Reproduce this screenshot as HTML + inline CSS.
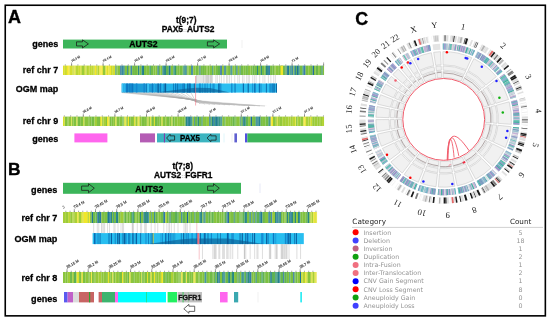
<!DOCTYPE html>
<html><head><meta charset="utf-8"><title>Figure</title>
<style>html,body{margin:0;padding:0;background:#fff;width:550px;height:321px;overflow:hidden}svg{display:block}</style>
</head><body>
<svg width="550" height="321" viewBox="0 0 550 321">
<rect x="0.00" y="0.00" width="550.00" height="321.00" fill="#ffffff" />
<text x="7.90" y="22.70" font-size="18.0" text-anchor="start" font-weight="bold" fill="#000" font-family='"Liberation Sans", Arial, sans-serif' stroke="#000" stroke-width="0.35">A</text>
<text x="186.30" y="23.00" font-size="8.4" text-anchor="middle" font-weight="bold" fill="#000" font-family='"Liberation Sans", Arial, sans-serif'  stroke="#000" stroke-width="0.28">t(9;7)</text>
<text x="188.1" y="31.9" font-size="8.4" text-anchor="middle" font-weight="bold" stroke="#000" stroke-width="0.28" font-family='"Liberation Sans", Arial, sans-serif'>PAX5<tspan stroke="none"  fill="#b8b8b8" font-size="6" font-weight="bold">::</tspan>AUTS2</text>
<text x="58.20" y="47.40" font-size="9" text-anchor="end" font-weight="bold" fill="#000" font-family='"Liberation Sans", Arial, sans-serif'  stroke="#000" stroke-width="0.28">genes</text>
<text x="58.20" y="73.00" font-size="9" text-anchor="end" font-weight="bold" fill="#000" font-family='"Liberation Sans", Arial, sans-serif'  stroke="#000" stroke-width="0.28">ref chr 7</text>
<text x="58.20" y="92.20" font-size="9" text-anchor="end" font-weight="bold" fill="#000" font-family='"Liberation Sans", Arial, sans-serif'  stroke="#000" stroke-width="0.28">OGM map</text>
<text x="58.20" y="123.80" font-size="9" text-anchor="end" font-weight="bold" fill="#000" font-family='"Liberation Sans", Arial, sans-serif'  stroke="#000" stroke-width="0.28">ref chr 9</text>
<text x="58.20" y="142.00" font-size="9" text-anchor="end" font-weight="bold" fill="#000" font-family='"Liberation Sans", Arial, sans-serif'  stroke="#000" stroke-width="0.28">genes</text>
<rect x="63.00" y="39.60" width="164.00" height="8.90" fill="#3cb55a" />
<polygon points="76.50,41.85 82.50,41.85 82.50,39.90 88.40,43.90 82.50,47.90 82.50,45.95 76.50,45.95" fill="none" stroke="#1a1a1a" stroke-width="0.75" stroke-linejoin="miter"/>
<polygon points="207.40,41.85 213.60,41.85 213.60,39.90 219.60,43.90 213.60,47.90 213.60,45.95 207.40,45.95" fill="none" stroke="#1a1a1a" stroke-width="0.75" stroke-linejoin="miter"/>
<text x="143.40" y="47.40" font-size="8.6" text-anchor="middle" font-weight="bold" fill="#000" font-family='"Liberation Sans", Arial, sans-serif'  stroke="#000" stroke-width="0.28">AUTS2</text>
<line x1="242" y1="40" x2="242" y2="48" stroke="#e8e8e8" stroke-width="0.6"/>
<rect x="63.00" y="65.60" width="1.87" height="9.40" fill="#dde02d" />
<rect x="64.82" y="65.60" width="2.14" height="9.40" fill="#cddc30" />
<rect x="66.92" y="65.60" width="1.36" height="9.40" fill="#f5e62a" />
<rect x="68.23" y="65.60" width="0.92" height="9.40" fill="#f2e52a" />
<rect x="69.10" y="65.60" width="0.69" height="9.40" fill="#e7e32c" />
<rect x="69.74" y="65.60" width="2.97" height="9.40" fill="#d4de2f" />
<rect x="72.66" y="65.60" width="0.88" height="9.40" fill="#c6da31" />
<rect x="73.50" y="65.60" width="0.98" height="9.40" fill="#c5da31" />
<rect x="74.43" y="65.60" width="1.07" height="9.40" fill="#f0e52b" />
<rect x="75.45" y="65.60" width="2.70" height="9.40" fill="#bbd633" />
<rect x="78.10" y="65.60" width="2.31" height="9.40" fill="#cbdc30" />
<rect x="80.36" y="65.60" width="1.46" height="9.40" fill="#cedd30" />
<rect x="81.77" y="65.60" width="2.41" height="9.40" fill="#9ecc38" />
<rect x="84.12" y="65.60" width="1.36" height="9.40" fill="#c0d832" />
<rect x="85.43" y="65.60" width="1.01" height="9.40" fill="#d7df2e" />
<rect x="86.39" y="65.60" width="1.70" height="9.40" fill="#b2d334" />
<rect x="88.04" y="65.60" width="1.31" height="9.40" fill="#bed732" />
<rect x="89.30" y="65.60" width="1.88" height="9.40" fill="#bfd832" />
<rect x="91.14" y="65.60" width="2.23" height="9.40" fill="#c4d931" />
<rect x="93.32" y="65.60" width="1.44" height="9.40" fill="#bbd633" />
<rect x="94.71" y="65.60" width="1.33" height="9.40" fill="#f5e62a" />
<rect x="96.00" y="65.60" width="0.87" height="9.40" fill="#ccdc30" />
<rect x="96.82" y="65.60" width="0.81" height="9.40" fill="#d5de2f" />
<rect x="97.58" y="65.60" width="1.83" height="9.40" fill="#b4d334" />
<rect x="99.36" y="65.60" width="1.23" height="9.40" fill="#f1e52b" />
<rect x="100.54" y="65.60" width="1.03" height="9.40" fill="#f5e62a" />
<rect x="101.52" y="65.60" width="1.37" height="9.40" fill="#f5e62a" />
<rect x="102.84" y="65.60" width="2.80" height="9.40" fill="#92c73a" />
<rect x="105.59" y="65.60" width="1.23" height="9.40" fill="#f5e62a" />
<rect x="106.77" y="65.60" width="1.54" height="9.40" fill="#dde02d" />
<rect x="108.26" y="65.60" width="0.95" height="9.40" fill="#f2e52a" />
<rect x="109.15" y="65.60" width="0.72" height="9.40" fill="#d4de2f" />
<rect x="109.82" y="65.60" width="1.19" height="9.40" fill="#f5e62a" />
<rect x="110.96" y="65.60" width="1.85" height="9.40" fill="#c5da31" />
<rect x="112.76" y="65.60" width="2.76" height="9.40" fill="#d3de2f" />
<rect x="115.47" y="65.60" width="0.79" height="9.40" fill="#23828b" />
<rect x="116.20" y="65.60" width="1.27" height="9.40" fill="#78be42" />
<rect x="117.42" y="65.60" width="2.92" height="9.40" fill="#84c23f" />
<rect x="120.29" y="65.60" width="1.19" height="9.40" fill="#1d67a2" />
<rect x="121.43" y="65.60" width="0.74" height="9.40" fill="#2a8c80" />
<rect x="122.13" y="65.60" width="1.28" height="9.40" fill="#1f7a94" />
<rect x="123.36" y="65.60" width="1.39" height="9.40" fill="#268687" />
<rect x="124.70" y="65.60" width="2.43" height="9.40" fill="#7ec040" />
<rect x="127.09" y="65.60" width="0.86" height="9.40" fill="#1f7c92" />
<rect x="127.89" y="65.60" width="1.47" height="9.40" fill="#6fba48" />
<rect x="129.31" y="65.60" width="1.30" height="9.40" fill="#88c43d" />
<rect x="130.56" y="65.60" width="0.70" height="9.40" fill="#258587" />
<rect x="131.21" y="65.60" width="0.98" height="9.40" fill="#1e7498" />
<rect x="132.14" y="65.60" width="2.81" height="9.40" fill="#73bb45" />
<rect x="134.90" y="65.60" width="2.30" height="9.40" fill="#72bb46" />
<rect x="137.15" y="65.60" width="0.93" height="9.40" fill="#81c13f" />
<rect x="138.03" y="65.60" width="1.47" height="9.40" fill="#268785" />
<rect x="139.45" y="65.60" width="2.25" height="9.40" fill="#7abf42" />
<rect x="141.65" y="65.60" width="1.31" height="9.40" fill="#248489" />
<rect x="142.90" y="65.60" width="1.14" height="9.40" fill="#217e8f" />
<rect x="143.99" y="65.60" width="2.83" height="9.40" fill="#7cbf41" />
<rect x="146.78" y="65.60" width="2.86" height="9.40" fill="#82c13f" />
<rect x="149.59" y="65.60" width="1.27" height="9.40" fill="#379970" />
<rect x="150.80" y="65.60" width="2.59" height="9.40" fill="#71bb46" />
<rect x="153.34" y="65.60" width="2.11" height="9.40" fill="#84c23e" />
<rect x="155.40" y="65.60" width="2.19" height="9.40" fill="#87c33e" />
<rect x="157.54" y="65.60" width="1.23" height="9.40" fill="#1e7796" />
<rect x="158.72" y="65.60" width="1.70" height="9.40" fill="#69b74c" />
<rect x="160.37" y="65.60" width="2.13" height="9.40" fill="#88c43d" />
<rect x="162.45" y="65.60" width="1.33" height="9.40" fill="#22818d" />
<rect x="163.73" y="65.60" width="1.19" height="9.40" fill="#278884" />
<rect x="164.87" y="65.60" width="1.10" height="9.40" fill="#22818c" />
<rect x="165.92" y="65.60" width="2.88" height="9.40" fill="#62b450" />
<rect x="168.74" y="65.60" width="1.26" height="9.40" fill="#1f7895" />
<rect x="169.95" y="65.60" width="0.80" height="9.40" fill="#23838a" />
<rect x="170.70" y="65.60" width="2.81" height="9.40" fill="#82c23f" />
<rect x="173.47" y="65.60" width="1.25" height="9.40" fill="#2c8f7c" />
<rect x="174.66" y="65.60" width="1.47" height="9.40" fill="#369871" />
<rect x="176.09" y="65.60" width="1.70" height="9.40" fill="#71ba47" />
<rect x="177.73" y="65.60" width="1.94" height="9.40" fill="#7ec040" />
<rect x="179.63" y="65.60" width="2.72" height="9.40" fill="#75bd44" />
<rect x="182.29" y="65.60" width="1.22" height="9.40" fill="#70ba47" />
<rect x="183.46" y="65.60" width="0.90" height="9.40" fill="#268786" />
<rect x="184.31" y="65.60" width="1.09" height="9.40" fill="#2f9377" />
<rect x="185.36" y="65.60" width="1.41" height="9.40" fill="#1f7a94" />
<rect x="186.71" y="65.60" width="0.92" height="9.40" fill="#80c140" />
<rect x="187.58" y="65.60" width="0.94" height="9.40" fill="#7bbf41" />
<rect x="188.47" y="65.60" width="2.59" height="9.40" fill="#85c33e" />
<rect x="191.01" y="65.60" width="0.77" height="9.40" fill="#278884" />
<rect x="191.74" y="65.60" width="0.86" height="9.40" fill="#1d68a1" />
<rect x="192.55" y="65.60" width="0.69" height="9.40" fill="#21808e" />
<rect x="193.19" y="65.60" width="2.29" height="9.40" fill="#8bc53d" />
<rect x="195.43" y="65.60" width="2.96" height="9.40" fill="#76bd43" />
<rect x="198.34" y="65.60" width="1.24" height="9.40" fill="#78be42" />
<rect x="199.54" y="65.60" width="1.07" height="9.40" fill="#1e7498" />
<rect x="200.56" y="65.60" width="1.61" height="9.40" fill="#78be42" />
<rect x="202.12" y="65.60" width="1.99" height="9.40" fill="#71bb46" />
<rect x="204.07" y="65.60" width="2.59" height="9.40" fill="#7cbf41" />
<rect x="206.61" y="65.60" width="1.04" height="9.40" fill="#87c33e" />
<rect x="207.60" y="65.60" width="1.85" height="9.40" fill="#7dc041" />
<rect x="209.40" y="65.60" width="2.85" height="9.40" fill="#82c23f" />
<rect x="212.20" y="65.60" width="1.37" height="9.40" fill="#3a9b6e" />
<rect x="213.52" y="65.60" width="1.87" height="9.40" fill="#86c33e" />
<rect x="215.34" y="65.60" width="2.65" height="9.40" fill="#76bd43" />
<rect x="217.94" y="65.60" width="2.43" height="9.40" fill="#62b450" />
<rect x="220.32" y="65.60" width="1.53" height="9.40" fill="#1c62a6" />
<rect x="221.80" y="65.60" width="2.59" height="9.40" fill="#8ec63c" />
<rect x="224.34" y="65.60" width="0.96" height="9.40" fill="#1d6b9f" />
<rect x="225.25" y="65.60" width="1.05" height="9.40" fill="#2d9179" />
<rect x="226.25" y="65.60" width="0.91" height="9.40" fill="#7bbf41" />
<rect x="227.11" y="65.60" width="0.99" height="9.40" fill="#89c43d" />
<rect x="228.05" y="65.60" width="2.58" height="9.40" fill="#77bd43" />
<rect x="230.58" y="65.60" width="0.78" height="9.40" fill="#1f7995" />
<rect x="231.32" y="65.60" width="1.27" height="9.40" fill="#278785" />
<rect x="232.54" y="65.60" width="1.93" height="9.40" fill="#91c73b" />
<rect x="234.42" y="65.60" width="2.01" height="9.40" fill="#73bc45" />
<rect x="236.38" y="65.60" width="1.31" height="9.40" fill="#217f8f" />
<rect x="237.64" y="65.60" width="2.08" height="9.40" fill="#91c73b" />
<rect x="239.67" y="65.60" width="0.99" height="9.40" fill="#268785" />
<rect x="240.61" y="65.60" width="2.72" height="9.40" fill="#74bc44" />
<rect x="243.28" y="65.60" width="2.00" height="9.40" fill="#80c140" />
<rect x="245.24" y="65.60" width="1.96" height="9.40" fill="#78be42" />
<rect x="247.14" y="65.60" width="0.91" height="9.40" fill="#69b74c" />
<rect x="248.00" y="65.60" width="2.61" height="9.40" fill="#87c33e" />
<rect x="250.57" y="65.60" width="1.93" height="9.40" fill="#7dc041" />
<rect x="252.45" y="65.60" width="1.76" height="9.40" fill="#6ab74b" />
<rect x="254.16" y="65.60" width="2.88" height="9.40" fill="#75bd44" />
<rect x="256.99" y="65.60" width="1.04" height="9.40" fill="#288a82" />
<rect x="257.98" y="65.60" width="2.83" height="9.40" fill="#7bbf41" />
<rect x="260.76" y="65.60" width="1.21" height="9.40" fill="#268785" />
<rect x="261.92" y="65.60" width="1.13" height="9.40" fill="#74bc45" />
<rect x="263.00" y="65.60" width="1.35" height="9.40" fill="#73bb46" />
<rect x="264.30" y="65.60" width="1.56" height="9.40" fill="#7bbf41" />
<rect x="265.81" y="65.60" width="1.31" height="9.40" fill="#278884" />
<rect x="267.07" y="65.60" width="1.11" height="9.40" fill="#278784" />
<rect x="268.13" y="65.60" width="1.04" height="9.40" fill="#217e8f" />
<rect x="269.12" y="65.60" width="1.02" height="9.40" fill="#1e7399" />
<rect x="270.09" y="65.60" width="2.24" height="9.40" fill="#78be42" />
<rect x="272.28" y="65.60" width="2.02" height="9.40" fill="#74bc45" />
<rect x="274.24" y="65.60" width="1.36" height="9.40" fill="#8dc53c" />
<rect x="275.56" y="65.60" width="2.63" height="9.40" fill="#8ac53d" />
<rect x="278.14" y="65.60" width="2.88" height="9.40" fill="#80c140" />
<rect x="280.97" y="65.60" width="1.55" height="9.40" fill="#1f7995" />
<rect x="282.47" y="65.60" width="2.45" height="9.40" fill="#76bd44" />
<rect x="284.87" y="65.60" width="0.74" height="9.40" fill="#1f7c92" />
<rect x="285.55" y="65.60" width="1.13" height="9.40" fill="#8dc63c" />
<rect x="286.63" y="65.60" width="1.27" height="9.40" fill="#1f7895" />
<rect x="287.85" y="65.60" width="1.47" height="9.40" fill="#207d90" />
<rect x="289.27" y="65.60" width="1.10" height="9.40" fill="#64b44f" />
<rect x="290.32" y="65.60" width="1.27" height="9.40" fill="#23838a" />
<rect x="291.54" y="65.60" width="0.71" height="9.40" fill="#2f9277" />
<rect x="292.20" y="65.60" width="1.11" height="9.40" fill="#1e729a" />
<rect x="293.27" y="65.60" width="1.17" height="9.40" fill="#79be42" />
<rect x="294.39" y="65.60" width="1.54" height="9.40" fill="#1f7c92" />
<rect x="295.88" y="65.60" width="1.06" height="9.40" fill="#5db154" />
<rect x="296.89" y="65.60" width="1.34" height="9.40" fill="#1e7598" />
<rect x="298.18" y="65.60" width="1.07" height="9.40" fill="#278884" />
<rect x="299.20" y="65.60" width="0.66" height="9.40" fill="#2f9377" />
<rect x="299.81" y="65.60" width="2.71" height="9.40" fill="#74bc45" />
<rect x="302.47" y="65.60" width="1.01" height="9.40" fill="#359872" />
<rect x="303.43" y="65.60" width="0.80" height="9.40" fill="#207d90" />
<rect x="304.18" y="65.60" width="1.37" height="9.40" fill="#1c65a4" />
<rect x="305.50" y="65.60" width="2.74" height="9.40" fill="#7abf42" />
<rect x="308.20" y="65.60" width="1.96" height="9.40" fill="#89c43d" />
<rect x="310.11" y="65.60" width="2.62" height="9.40" fill="#71ba47" />
<rect x="312.68" y="65.60" width="1.35" height="9.40" fill="#1e6f9c" />
<rect x="313.98" y="65.60" width="1.74" height="9.40" fill="#86c33e" />
<rect x="315.67" y="65.60" width="2.54" height="9.40" fill="#6ab74b" />
<rect x="318.16" y="65.60" width="1.74" height="9.40" fill="#88c43d" />
<rect x="319.85" y="65.60" width="1.88" height="9.40" fill="#6fba48" />
<rect x="321.68" y="65.60" width="0.97" height="9.40" fill="#217e8f" />
<rect x="322.60" y="65.60" width="1.45" height="9.40" fill="#82c13f" />
<rect x="280.50" y="65.60" width="2.50" height="9.40" fill="#f0e62a" />
<line x1="65.30" y1="64.30" x2="65.30" y2="65.60" stroke="#555" stroke-width="0.5"/>
<line x1="71.60" y1="64.30" x2="71.60" y2="65.60" stroke="#555" stroke-width="0.5"/>
<line x1="77.90" y1="64.30" x2="77.90" y2="65.60" stroke="#555" stroke-width="0.5"/>
<line x1="84.20" y1="64.30" x2="84.20" y2="65.60" stroke="#555" stroke-width="0.5"/>
<line x1="90.50" y1="64.30" x2="90.50" y2="65.60" stroke="#555" stroke-width="0.5"/>
<line x1="96.80" y1="64.30" x2="96.80" y2="65.60" stroke="#555" stroke-width="0.5"/>
<line x1="103.10" y1="64.30" x2="103.10" y2="65.60" stroke="#555" stroke-width="0.5"/>
<line x1="109.40" y1="64.30" x2="109.40" y2="65.60" stroke="#555" stroke-width="0.5"/>
<line x1="115.70" y1="64.30" x2="115.70" y2="65.60" stroke="#555" stroke-width="0.5"/>
<line x1="122.00" y1="64.30" x2="122.00" y2="65.60" stroke="#555" stroke-width="0.5"/>
<line x1="128.30" y1="64.30" x2="128.30" y2="65.60" stroke="#555" stroke-width="0.5"/>
<line x1="134.60" y1="64.30" x2="134.60" y2="65.60" stroke="#555" stroke-width="0.5"/>
<line x1="140.90" y1="64.30" x2="140.90" y2="65.60" stroke="#555" stroke-width="0.5"/>
<line x1="147.20" y1="64.30" x2="147.20" y2="65.60" stroke="#555" stroke-width="0.5"/>
<line x1="153.50" y1="64.30" x2="153.50" y2="65.60" stroke="#555" stroke-width="0.5"/>
<line x1="159.80" y1="64.30" x2="159.80" y2="65.60" stroke="#555" stroke-width="0.5"/>
<line x1="166.10" y1="64.30" x2="166.10" y2="65.60" stroke="#555" stroke-width="0.5"/>
<line x1="172.40" y1="64.30" x2="172.40" y2="65.60" stroke="#555" stroke-width="0.5"/>
<line x1="178.70" y1="64.30" x2="178.70" y2="65.60" stroke="#555" stroke-width="0.5"/>
<line x1="185.00" y1="64.30" x2="185.00" y2="65.60" stroke="#555" stroke-width="0.5"/>
<line x1="191.30" y1="64.30" x2="191.30" y2="65.60" stroke="#555" stroke-width="0.5"/>
<line x1="197.60" y1="64.30" x2="197.60" y2="65.60" stroke="#555" stroke-width="0.5"/>
<line x1="203.90" y1="64.30" x2="203.90" y2="65.60" stroke="#555" stroke-width="0.5"/>
<line x1="210.20" y1="64.30" x2="210.20" y2="65.60" stroke="#555" stroke-width="0.5"/>
<line x1="216.50" y1="64.30" x2="216.50" y2="65.60" stroke="#555" stroke-width="0.5"/>
<line x1="222.80" y1="64.30" x2="222.80" y2="65.60" stroke="#555" stroke-width="0.5"/>
<line x1="229.10" y1="64.30" x2="229.10" y2="65.60" stroke="#555" stroke-width="0.5"/>
<line x1="235.40" y1="64.30" x2="235.40" y2="65.60" stroke="#555" stroke-width="0.5"/>
<line x1="241.70" y1="64.30" x2="241.70" y2="65.60" stroke="#555" stroke-width="0.5"/>
<line x1="248.00" y1="64.30" x2="248.00" y2="65.60" stroke="#555" stroke-width="0.5"/>
<line x1="254.30" y1="64.30" x2="254.30" y2="65.60" stroke="#555" stroke-width="0.5"/>
<line x1="260.60" y1="64.30" x2="260.60" y2="65.60" stroke="#555" stroke-width="0.5"/>
<line x1="266.90" y1="64.30" x2="266.90" y2="65.60" stroke="#555" stroke-width="0.5"/>
<line x1="273.20" y1="64.30" x2="273.20" y2="65.60" stroke="#555" stroke-width="0.5"/>
<line x1="279.50" y1="64.30" x2="279.50" y2="65.60" stroke="#555" stroke-width="0.5"/>
<line x1="285.80" y1="64.30" x2="285.80" y2="65.60" stroke="#555" stroke-width="0.5"/>
<line x1="292.10" y1="64.30" x2="292.10" y2="65.60" stroke="#555" stroke-width="0.5"/>
<line x1="298.40" y1="64.30" x2="298.40" y2="65.60" stroke="#555" stroke-width="0.5"/>
<line x1="304.70" y1="64.30" x2="304.70" y2="65.60" stroke="#555" stroke-width="0.5"/>
<line x1="311.00" y1="64.30" x2="311.00" y2="65.60" stroke="#555" stroke-width="0.5"/>
<line x1="317.30" y1="64.30" x2="317.30" y2="65.60" stroke="#555" stroke-width="0.5"/>
<line x1="323.60" y1="64.30" x2="323.60" y2="65.60" stroke="#555" stroke-width="0.5"/>
<line x1="71.60" y1="62.40" x2="71.60" y2="65.60" stroke="#555" stroke-width="0.5"/>
<text x="71.90" y="62.20" font-size="3.2" fill="#2a2a2a" stroke="#2a2a2a" stroke-width="0.12" font-family="Liberation Sans, Arial, sans-serif" transform="rotate(-30 71.90 62.20)">70.3 M</text>
<line x1="103.10" y1="62.40" x2="103.10" y2="65.60" stroke="#555" stroke-width="0.5"/>
<text x="103.40" y="62.20" font-size="3.2" fill="#2a2a2a" stroke="#2a2a2a" stroke-width="0.12" font-family="Liberation Sans, Arial, sans-serif" transform="rotate(-30 103.40 62.20)">70.4 M</text>
<line x1="134.60" y1="62.40" x2="134.60" y2="65.60" stroke="#555" stroke-width="0.5"/>
<text x="134.90" y="62.20" font-size="3.2" fill="#2a2a2a" stroke="#2a2a2a" stroke-width="0.12" font-family="Liberation Sans, Arial, sans-serif" transform="rotate(-30 134.90 62.20)">70.5 M</text>
<line x1="166.10" y1="62.40" x2="166.10" y2="65.60" stroke="#555" stroke-width="0.5"/>
<text x="166.40" y="62.20" font-size="3.2" fill="#2a2a2a" stroke="#2a2a2a" stroke-width="0.12" font-family="Liberation Sans, Arial, sans-serif" transform="rotate(-30 166.40 62.20)">70.6 M</text>
<line x1="197.60" y1="62.40" x2="197.60" y2="65.60" stroke="#555" stroke-width="0.5"/>
<text x="197.90" y="62.20" font-size="3.2" fill="#2a2a2a" stroke="#2a2a2a" stroke-width="0.12" font-family="Liberation Sans, Arial, sans-serif" transform="rotate(-30 197.90 62.20)">70.7 M</text>
<line x1="229.10" y1="62.40" x2="229.10" y2="65.60" stroke="#555" stroke-width="0.5"/>
<text x="229.40" y="62.20" font-size="3.2" fill="#2a2a2a" stroke="#2a2a2a" stroke-width="0.12" font-family="Liberation Sans, Arial, sans-serif" transform="rotate(-30 229.40 62.20)">70.8 M</text>
<line x1="260.60" y1="62.40" x2="260.60" y2="65.60" stroke="#555" stroke-width="0.5"/>
<text x="260.90" y="62.20" font-size="3.2" fill="#2a2a2a" stroke="#2a2a2a" stroke-width="0.12" font-family="Liberation Sans, Arial, sans-serif" transform="rotate(-30 260.90 62.20)">70.9 M</text>
<line x1="292.10" y1="62.40" x2="292.10" y2="65.60" stroke="#555" stroke-width="0.5"/>
<text x="292.40" y="62.20" font-size="3.2" fill="#2a2a2a" stroke="#2a2a2a" stroke-width="0.12" font-family="Liberation Sans, Arial, sans-serif" transform="rotate(-30 292.40 62.20)">71 M</text>
<line x1="323.60" y1="62.40" x2="323.60" y2="65.60" stroke="#555" stroke-width="0.5"/>
<rect x="196.00" y="75.00" width="16.00" height="8.50" fill="#e6e6e6" />
<line x1="205.97" y1="75.00" x2="205.97" y2="83.50" stroke="#c0c0c0" stroke-width="0.5"/>
<line x1="207.87" y1="75.00" x2="207.87" y2="83.50" stroke="#c0c0c0" stroke-width="0.5"/>
<line x1="208.72" y1="75.00" x2="208.72" y2="83.50" stroke="#c0c0c0" stroke-width="0.5"/>
<line x1="211.08" y1="75.00" x2="211.08" y2="83.50" stroke="#c0c0c0" stroke-width="0.5"/>
<line x1="207.84" y1="75.00" x2="207.84" y2="83.50" stroke="#c0c0c0" stroke-width="0.5"/>
<line x1="210.76" y1="75.00" x2="210.76" y2="83.50" stroke="#c0c0c0" stroke-width="0.5"/>
<line x1="196.46" y1="75.00" x2="196.46" y2="83.50" stroke="#c0c0c0" stroke-width="0.5"/>
<line x1="203.45" y1="75.00" x2="203.45" y2="83.50" stroke="#c0c0c0" stroke-width="0.5"/>
<line x1="211.09" y1="75.00" x2="211.09" y2="83.50" stroke="#c0c0c0" stroke-width="0.5"/>
<line x1="206.38" y1="75.00" x2="206.38" y2="83.50" stroke="#c0c0c0" stroke-width="0.5"/>
<line x1="212.50" y1="75.00" x2="212.50" y2="83.50" stroke="#c4c4c4" stroke-width="0.55"/>
<line x1="215.86" y1="75.00" x2="215.86" y2="83.50" stroke="#c4c4c4" stroke-width="0.55"/>
<line x1="217.33" y1="75.00" x2="217.33" y2="83.50" stroke="#c4c4c4" stroke-width="0.55"/>
<line x1="219.66" y1="75.00" x2="219.66" y2="83.50" stroke="#c4c4c4" stroke-width="0.55"/>
<line x1="221.45" y1="75.00" x2="221.45" y2="83.50" stroke="#c4c4c4" stroke-width="0.55"/>
<line x1="223.96" y1="75.00" x2="223.96" y2="83.50" stroke="#c4c4c4" stroke-width="0.55"/>
<line x1="226.53" y1="75.00" x2="226.53" y2="83.50" stroke="#c4c4c4" stroke-width="0.55"/>
<line x1="227.77" y1="75.00" x2="227.77" y2="83.50" stroke="#c4c4c4" stroke-width="0.55"/>
<line x1="229.49" y1="75.00" x2="229.49" y2="83.50" stroke="#c4c4c4" stroke-width="0.55"/>
<line x1="231.36" y1="75.00" x2="231.36" y2="83.50" stroke="#c4c4c4" stroke-width="0.55"/>
<line x1="234.76" y1="75.00" x2="234.76" y2="83.50" stroke="#c4c4c4" stroke-width="0.55"/>
<line x1="237.79" y1="75.00" x2="237.79" y2="83.50" stroke="#c4c4c4" stroke-width="0.55"/>
<line x1="239.38" y1="75.00" x2="239.38" y2="83.50" stroke="#c4c4c4" stroke-width="0.55"/>
<line x1="242.49" y1="75.00" x2="242.49" y2="83.50" stroke="#c4c4c4" stroke-width="0.55"/>
<line x1="244.02" y1="75.00" x2="244.02" y2="83.50" stroke="#c4c4c4" stroke-width="0.55"/>
<line x1="246.70" y1="75.00" x2="246.70" y2="83.50" stroke="#c4c4c4" stroke-width="0.55"/>
<line x1="248.21" y1="75.00" x2="248.21" y2="83.50" stroke="#c4c4c4" stroke-width="0.55"/>
<line x1="249.41" y1="75.00" x2="249.41" y2="83.50" stroke="#c4c4c4" stroke-width="0.55"/>
<line x1="252.70" y1="75.00" x2="252.70" y2="83.50" stroke="#c4c4c4" stroke-width="0.55"/>
<line x1="254.41" y1="75.00" x2="254.41" y2="83.50" stroke="#c4c4c4" stroke-width="0.55"/>
<line x1="256.12" y1="75.00" x2="256.12" y2="83.50" stroke="#c4c4c4" stroke-width="0.55"/>
<line x1="259.68" y1="75.00" x2="259.68" y2="83.50" stroke="#c4c4c4" stroke-width="0.55"/>
<line x1="262.98" y1="75.00" x2="262.98" y2="83.50" stroke="#c4c4c4" stroke-width="0.55"/>
<line x1="264.87" y1="75.00" x2="264.87" y2="83.50" stroke="#c4c4c4" stroke-width="0.55"/>
<line x1="268.38" y1="75.00" x2="268.38" y2="83.50" stroke="#c4c4c4" stroke-width="0.55"/>
<line x1="270.87" y1="75.00" x2="270.87" y2="83.50" stroke="#c4c4c4" stroke-width="0.55"/>
<line x1="273.70" y1="75.00" x2="273.70" y2="83.50" stroke="#c4c4c4" stroke-width="0.55"/>
<line x1="275.39" y1="75.00" x2="275.39" y2="83.50" stroke="#c4c4c4" stroke-width="0.55"/>
<rect x="121.60" y="83.50" width="40.40" height="9.10" fill="#1c9cd8" />
<rect x="162.00" y="83.50" width="34.00" height="9.10" fill="#24b4ea" />
<rect x="196.00" y="83.50" width="81.00" height="9.10" fill="#2cbef0" />
<rect x="121.85" y="83.50" width="1.53" height="9.10" fill="#40c8f6" />
<rect x="123.71" y="83.50" width="1.76" height="9.10" fill="#2ab4ec" />
<rect x="126.12" y="83.50" width="1.94" height="9.10" fill="#0c78c2" />
<rect x="128.77" y="83.50" width="0.85" height="9.10" fill="#0a6cb4" />
<rect x="129.64" y="83.50" width="1.90" height="9.10" fill="#1488d0" />
<rect x="131.61" y="83.50" width="1.69" height="9.10" fill="#0c78c2" />
<rect x="135.84" y="83.50" width="1.54" height="9.10" fill="#1488d0" />
<rect x="143.40" y="83.50" width="1.61" height="9.10" fill="#1488d0" />
<rect x="145.97" y="83.50" width="0.55" height="9.10" fill="#0860a4" />
<rect x="147.29" y="83.50" width="1.54" height="9.10" fill="#40c8f6" />
<rect x="151.87" y="83.50" width="1.05" height="9.10" fill="#0c78c2" />
<rect x="154.27" y="83.50" width="0.63" height="9.10" fill="#2ab4ec" />
<rect x="157.54" y="83.50" width="1.18" height="9.10" fill="#0a5c9c" />
<rect x="160.02" y="83.50" width="1.10" height="9.10" fill="#0c78c2" />
<rect x="161.33" y="83.50" width="0.56" height="9.10" fill="#2ab4ec" />
<rect x="163.60" y="83.50" width="0.58" height="9.10" fill="#0c78c2" />
<rect x="164.56" y="83.50" width="1.57" height="9.10" fill="#0a5c9c" />
<rect x="173.31" y="83.50" width="0.58" height="9.10" fill="#0a5c9c" />
<rect x="174.93" y="83.50" width="1.41" height="9.10" fill="#0c78c2" />
<rect x="177.00" y="83.50" width="0.66" height="9.10" fill="#0a5c9c" />
<rect x="178.51" y="83.50" width="0.90" height="9.10" fill="#1488d0" />
<rect x="180.52" y="83.50" width="0.85" height="9.10" fill="#1488d0" />
<rect x="182.15" y="83.50" width="0.53" height="9.10" fill="#0a6cb4" />
<rect x="182.96" y="83.50" width="1.29" height="9.10" fill="#1488d0" />
<rect x="184.25" y="83.50" width="0.58" height="9.10" fill="#0a5c9c" />
<rect x="187.04" y="83.50" width="0.74" height="9.10" fill="#0a5c9c" />
<rect x="188.39" y="83.50" width="1.58" height="9.10" fill="#0a6cb4" />
<rect x="190.29" y="83.50" width="0.69" height="9.10" fill="#0860a4" />
<rect x="193.85" y="83.50" width="0.87" height="9.10" fill="#0a5c9c" />
<rect x="198.96" y="83.50" width="0.65" height="9.10" fill="#0c78c2" />
<rect x="199.77" y="83.50" width="0.99" height="9.10" fill="#1488d0" />
<rect x="201.89" y="83.50" width="0.91" height="9.10" fill="#1a9ad8" />
<rect x="204.56" y="83.50" width="0.89" height="9.10" fill="#0c78c2" />
<rect x="206.71" y="83.50" width="1.09" height="9.10" fill="#1a9ad8" />
<rect x="209.94" y="83.50" width="1.03" height="9.10" fill="#1488d0" />
<rect x="212.67" y="83.50" width="0.90" height="9.10" fill="#0c78c2" />
<rect x="213.99" y="83.50" width="0.54" height="9.10" fill="#1488d0" />
<rect x="218.10" y="83.50" width="0.79" height="9.10" fill="#0860a4" />
<rect x="219.02" y="83.50" width="0.65" height="9.10" fill="#0860a4" />
<rect x="219.76" y="83.50" width="0.65" height="9.10" fill="#1488d0" />
<rect x="220.58" y="83.50" width="0.70" height="9.10" fill="#0c78c2" />
<rect x="231.13" y="83.50" width="0.95" height="9.10" fill="#1488d0" />
<rect x="232.20" y="83.50" width="0.58" height="9.10" fill="#1a9ad8" />
<rect x="234.57" y="83.50" width="0.94" height="9.10" fill="#0a6cb4" />
<rect x="242.84" y="83.50" width="1.04" height="9.10" fill="#0860a4" />
<rect x="247.68" y="83.50" width="1.03" height="9.10" fill="#0a5c9c" />
<rect x="252.27" y="83.50" width="0.79" height="9.10" fill="#1488d0" />
<rect x="253.94" y="83.50" width="0.82" height="9.10" fill="#0860a4" />
<rect x="255.12" y="83.50" width="0.93" height="9.10" fill="#1488d0" />
<rect x="258.83" y="83.50" width="1.07" height="9.10" fill="#0a6cb4" />
<rect x="260.64" y="83.50" width="0.70" height="9.10" fill="#0c78c2" />
<rect x="265.91" y="83.50" width="0.85" height="9.10" fill="#0860a4" />
<rect x="269.52" y="83.50" width="0.95" height="9.10" fill="#0c78c2" />
<rect x="270.82" y="83.50" width="0.56" height="9.10" fill="#0a6cb4" />
<rect x="271.87" y="83.50" width="0.89" height="9.10" fill="#0c78c2" />
<rect x="272.94" y="83.50" width="0.57" height="9.10" fill="#0860a4" />
<rect x="273.83" y="83.50" width="0.82" height="9.10" fill="#0860a4" />
<rect x="275.87" y="83.50" width="1.03" height="9.10" fill="#0a5c9c" />
<polygon points="156,92.6 185,88.8 196,87.8 210,88.0 230,92.6" fill="#0a5890" opacity="0.62"/>
<line x1="122.0" y1="92.6" x2="196" y2="99.5" stroke="#a8a8a8" stroke-width="0.45"/>
<line x1="127.3" y1="92.6" x2="196" y2="99.7" stroke="#a8a8a8" stroke-width="0.45"/>
<line x1="132.6" y1="92.6" x2="196" y2="99.9" stroke="#a8a8a8" stroke-width="0.45"/>
<line x1="137.9" y1="92.6" x2="196" y2="100.1" stroke="#a8a8a8" stroke-width="0.45"/>
<line x1="143.2" y1="92.6" x2="196" y2="100.3" stroke="#a8a8a8" stroke-width="0.45"/>
<line x1="148.5" y1="92.6" x2="196" y2="100.5" stroke="#a8a8a8" stroke-width="0.45"/>
<line x1="153.8" y1="92.6" x2="196" y2="100.7" stroke="#a8a8a8" stroke-width="0.45"/>
<line x1="159.1" y1="92.6" x2="196" y2="100.9" stroke="#a8a8a8" stroke-width="0.45"/>
<line x1="164.4" y1="92.6" x2="196" y2="101.1" stroke="#a8a8a8" stroke-width="0.45"/>
<line x1="169.7" y1="92.6" x2="196" y2="101.3" stroke="#a8a8a8" stroke-width="0.45"/>
<line x1="175.0" y1="92.6" x2="196" y2="101.5" stroke="#a8a8a8" stroke-width="0.45"/>
<line x1="180.3" y1="92.6" x2="196" y2="101.7" stroke="#a8a8a8" stroke-width="0.45"/>
<line x1="185.6" y1="92.6" x2="196" y2="101.9" stroke="#a8a8a8" stroke-width="0.45"/>
<line x1="190.9" y1="92.6" x2="196" y2="102.1" stroke="#a8a8a8" stroke-width="0.45"/>
<line x1="196" y1="99.5" x2="200.0" y2="104.0" stroke="#a8a8a8" stroke-width="0.45"/>
<line x1="196" y1="99.7" x2="205.0" y2="104.2" stroke="#a8a8a8" stroke-width="0.45"/>
<line x1="196" y1="99.9" x2="210.0" y2="104.3" stroke="#a8a8a8" stroke-width="0.45"/>
<line x1="196" y1="100.1" x2="215.0" y2="104.5" stroke="#a8a8a8" stroke-width="0.45"/>
<line x1="196" y1="100.3" x2="220.0" y2="104.6" stroke="#a8a8a8" stroke-width="0.45"/>
<line x1="196" y1="100.5" x2="225.0" y2="104.8" stroke="#a8a8a8" stroke-width="0.45"/>
<line x1="196" y1="100.7" x2="230.0" y2="104.9" stroke="#a8a8a8" stroke-width="0.45"/>
<line x1="196" y1="100.9" x2="235.0" y2="105.0" stroke="#a8a8a8" stroke-width="0.45"/>
<line x1="196" y1="101.1" x2="240.0" y2="105.2" stroke="#a8a8a8" stroke-width="0.45"/>
<line x1="196" y1="101.3" x2="245.0" y2="105.3" stroke="#a8a8a8" stroke-width="0.45"/>
<line x1="196" y1="101.5" x2="250.0" y2="105.5" stroke="#a8a8a8" stroke-width="0.45"/>
<line x1="196" y1="101.7" x2="255.0" y2="105.7" stroke="#a8a8a8" stroke-width="0.45"/>
<line x1="196" y1="101.9" x2="260.0" y2="105.8" stroke="#a8a8a8" stroke-width="0.45"/>
<line x1="196" y1="102.1" x2="265.0" y2="106.0" stroke="#a8a8a8" stroke-width="0.45"/>
<polygon points="196,100 268,106 200,104" fill="#c8c8c8" opacity="0.6"/>
<line x1="195.6" y1="76" x2="195.6" y2="105.5" stroke="#f07080" stroke-width="0.6"/>
<rect x="63.00" y="116.60" width="1.27" height="9.40" fill="#d6df2e" />
<rect x="64.22" y="116.60" width="0.75" height="9.40" fill="#d8df2e" />
<rect x="64.92" y="116.60" width="2.48" height="9.40" fill="#84c23f" />
<rect x="67.35" y="116.60" width="1.15" height="9.40" fill="#8ac53d" />
<rect x="68.45" y="116.60" width="3.04" height="9.40" fill="#8fc63b" />
<rect x="71.44" y="116.60" width="0.67" height="9.40" fill="#dde02d" />
<rect x="72.06" y="116.60" width="1.58" height="9.40" fill="#8ac43d" />
<rect x="73.58" y="116.60" width="2.95" height="9.40" fill="#80c140" />
<rect x="76.48" y="116.60" width="1.14" height="9.40" fill="#dee02d" />
<rect x="77.58" y="116.60" width="2.70" height="9.40" fill="#74bc45" />
<rect x="80.22" y="116.60" width="3.03" height="9.40" fill="#7ec040" />
<rect x="83.20" y="116.60" width="1.31" height="9.40" fill="#c3d932" />
<rect x="84.46" y="116.60" width="2.60" height="9.40" fill="#89c43d" />
<rect x="87.01" y="116.60" width="1.28" height="9.40" fill="#8ac53d" />
<rect x="88.24" y="116.60" width="1.59" height="9.40" fill="#83c23f" />
<rect x="89.78" y="116.60" width="1.72" height="9.40" fill="#81c13f" />
<rect x="91.45" y="116.60" width="3.00" height="9.40" fill="#74bc45" />
<rect x="94.40" y="116.60" width="2.59" height="9.40" fill="#a1cd38" />
<rect x="96.94" y="116.60" width="2.05" height="9.40" fill="#7dc041" />
<rect x="98.94" y="116.60" width="1.06" height="9.40" fill="#75bc44" />
<rect x="99.94" y="116.60" width="1.28" height="9.40" fill="#cfdd2f" />
<rect x="101.17" y="116.60" width="1.01" height="9.40" fill="#ede42b" />
<rect x="102.13" y="116.60" width="1.28" height="9.40" fill="#9bca39" />
<rect x="103.36" y="116.60" width="2.61" height="9.40" fill="#a6cf37" />
<rect x="105.92" y="116.60" width="1.11" height="9.40" fill="#81c140" />
<rect x="106.98" y="116.60" width="1.53" height="9.40" fill="#f5e62a" />
<rect x="108.47" y="116.60" width="1.29" height="9.40" fill="#dde02d" />
<rect x="109.71" y="116.60" width="1.90" height="9.40" fill="#7abf41" />
<rect x="111.55" y="116.60" width="1.67" height="9.40" fill="#82c23f" />
<rect x="113.17" y="116.60" width="2.25" height="9.40" fill="#8dc53c" />
<rect x="115.37" y="116.60" width="1.30" height="9.40" fill="#dce02e" />
<rect x="116.63" y="116.60" width="2.99" height="9.40" fill="#80c140" />
<rect x="119.57" y="116.60" width="3.02" height="9.40" fill="#85c23e" />
<rect x="122.53" y="116.60" width="0.87" height="9.40" fill="#6cb84a" />
<rect x="123.36" y="116.60" width="0.95" height="9.40" fill="#85c33e" />
<rect x="124.26" y="116.60" width="1.43" height="9.40" fill="#d8df2e" />
<rect x="125.64" y="116.60" width="0.82" height="9.40" fill="#ebe42b" />
<rect x="126.41" y="116.60" width="1.51" height="9.40" fill="#89c43d" />
<rect x="127.87" y="116.60" width="1.12" height="9.40" fill="#f5e62a" />
<rect x="128.94" y="116.60" width="1.73" height="9.40" fill="#7fc140" />
<rect x="130.62" y="116.60" width="2.43" height="9.40" fill="#87c33e" />
<rect x="133.00" y="116.60" width="1.14" height="9.40" fill="#90c73b" />
<rect x="134.09" y="116.60" width="1.50" height="9.40" fill="#dde02d" />
<rect x="135.54" y="116.60" width="2.13" height="9.40" fill="#97c939" />
<rect x="137.62" y="116.60" width="1.03" height="9.40" fill="#dde02d" />
<rect x="138.60" y="116.60" width="0.99" height="9.40" fill="#e9e32c" />
<rect x="139.54" y="116.60" width="2.04" height="9.40" fill="#94c83a" />
<rect x="141.53" y="116.60" width="2.56" height="9.40" fill="#7cbf41" />
<rect x="144.05" y="116.60" width="2.20" height="9.40" fill="#83c23f" />
<rect x="146.20" y="116.60" width="1.42" height="9.40" fill="#87c33e" />
<rect x="147.57" y="116.60" width="1.01" height="9.40" fill="#dce02e" />
<rect x="148.53" y="116.60" width="1.70" height="9.40" fill="#8ec63c" />
<rect x="150.18" y="116.60" width="1.28" height="9.40" fill="#dfe12d" />
<rect x="151.40" y="116.60" width="2.55" height="9.40" fill="#7abf41" />
<rect x="153.90" y="116.60" width="1.08" height="9.40" fill="#e2e22d" />
<rect x="154.93" y="116.60" width="2.91" height="9.40" fill="#72bb46" />
<rect x="157.79" y="116.60" width="1.91" height="9.40" fill="#83c23f" />
<rect x="159.65" y="116.60" width="1.89" height="9.40" fill="#81c13f" />
<rect x="161.49" y="116.60" width="1.33" height="9.40" fill="#d2de2f" />
<rect x="162.78" y="116.60" width="2.86" height="9.40" fill="#84c23f" />
<rect x="165.58" y="116.60" width="1.36" height="9.40" fill="#94c83a" />
<rect x="166.90" y="116.60" width="2.71" height="9.40" fill="#79be42" />
<rect x="169.56" y="116.60" width="2.11" height="9.40" fill="#86c33e" />
<rect x="171.62" y="116.60" width="0.99" height="9.40" fill="#dce02e" />
<rect x="172.56" y="116.60" width="1.99" height="9.40" fill="#72bb46" />
<rect x="174.50" y="116.60" width="1.53" height="9.40" fill="#8ac43d" />
<rect x="175.98" y="116.60" width="1.34" height="9.40" fill="#8ac53d" />
<rect x="177.27" y="116.60" width="2.66" height="9.40" fill="#91c73b" />
<rect x="179.88" y="116.60" width="2.95" height="9.40" fill="#85c33e" />
<rect x="182.78" y="116.60" width="1.56" height="9.40" fill="#87c33e" />
<rect x="184.29" y="116.60" width="1.40" height="9.40" fill="#83c23f" />
<rect x="185.64" y="116.60" width="1.55" height="9.40" fill="#278884" />
<rect x="187.14" y="116.60" width="0.69" height="9.40" fill="#1f7895" />
<rect x="187.78" y="116.60" width="1.13" height="9.40" fill="#22808d" />
<rect x="188.86" y="116.60" width="1.37" height="9.40" fill="#23828b" />
<rect x="190.18" y="116.60" width="1.08" height="9.40" fill="#23818c" />
<rect x="191.21" y="116.60" width="1.39" height="9.40" fill="#2b8e7d" />
<rect x="192.56" y="116.60" width="1.60" height="9.40" fill="#92c73b" />
<rect x="194.10" y="116.60" width="0.70" height="9.40" fill="#1d6b9f" />
<rect x="194.76" y="116.60" width="2.85" height="9.40" fill="#6bb84a" />
<rect x="197.56" y="116.60" width="1.50" height="9.40" fill="#2b8e7d" />
<rect x="199.01" y="116.60" width="2.70" height="9.40" fill="#72bb46" />
<rect x="201.65" y="116.60" width="1.01" height="9.40" fill="#258587" />
<rect x="202.61" y="116.60" width="2.47" height="9.40" fill="#88c43d" />
<rect x="205.03" y="116.60" width="1.79" height="9.40" fill="#7ec040" />
<rect x="206.77" y="116.60" width="2.58" height="9.40" fill="#95c83a" />
<rect x="209.30" y="116.60" width="1.43" height="9.40" fill="#1e7895" />
<rect x="210.68" y="116.60" width="1.13" height="9.40" fill="#6cb84a" />
<rect x="211.76" y="116.60" width="1.51" height="9.40" fill="#23828b" />
<rect x="213.22" y="116.60" width="0.93" height="9.40" fill="#1e7796" />
<rect x="214.10" y="116.60" width="0.96" height="9.40" fill="#329575" />
<rect x="215.01" y="116.60" width="0.85" height="9.40" fill="#1f7c92" />
<rect x="215.82" y="116.60" width="1.33" height="9.40" fill="#207d91" />
<rect x="217.10" y="116.60" width="1.36" height="9.40" fill="#278884" />
<rect x="218.40" y="116.60" width="0.72" height="9.40" fill="#22818c" />
<rect x="219.07" y="116.60" width="1.37" height="9.40" fill="#2d9179" />
<rect x="220.39" y="116.60" width="1.27" height="9.40" fill="#2c8f7b" />
<rect x="221.62" y="116.60" width="0.71" height="9.40" fill="#23828b" />
<rect x="222.27" y="116.60" width="2.06" height="9.40" fill="#84c23e" />
<rect x="224.28" y="116.60" width="1.11" height="9.40" fill="#5eb153" />
<rect x="225.34" y="116.60" width="2.80" height="9.40" fill="#8dc53c" />
<rect x="228.09" y="116.60" width="2.15" height="9.40" fill="#8ac43d" />
<rect x="230.19" y="116.60" width="2.58" height="9.40" fill="#7dc041" />
<rect x="232.72" y="116.60" width="2.04" height="9.40" fill="#68b64d" />
<rect x="234.72" y="116.60" width="1.01" height="9.40" fill="#70ba47" />
<rect x="235.68" y="116.60" width="1.18" height="9.40" fill="#7dc040" />
<rect x="236.81" y="116.60" width="2.65" height="9.40" fill="#8ac43d" />
<rect x="239.40" y="116.60" width="1.16" height="9.40" fill="#7abf41" />
<rect x="240.52" y="116.60" width="0.77" height="9.40" fill="#207d90" />
<rect x="241.24" y="116.60" width="1.63" height="9.40" fill="#6cb84a" />
<rect x="242.82" y="116.60" width="0.95" height="9.40" fill="#1d6e9d" />
<rect x="243.72" y="116.60" width="1.25" height="9.40" fill="#2e9278" />
<rect x="244.92" y="116.60" width="0.80" height="9.40" fill="#1e719a" />
<rect x="245.67" y="116.60" width="2.47" height="9.40" fill="#63b450" />
<rect x="248.09" y="116.60" width="2.58" height="9.40" fill="#89c43d" />
<rect x="250.62" y="116.60" width="1.46" height="9.40" fill="#1d6c9e" />
<rect x="252.03" y="116.60" width="1.07" height="9.40" fill="#7ec040" />
<rect x="253.04" y="116.60" width="2.72" height="9.40" fill="#74bc45" />
<rect x="255.71" y="116.60" width="1.02" height="9.40" fill="#23818c" />
<rect x="256.68" y="116.60" width="0.70" height="9.40" fill="#217f8f" />
<rect x="257.33" y="116.60" width="1.01" height="9.40" fill="#23818c" />
<rect x="258.29" y="116.60" width="0.80" height="9.40" fill="#278884" />
<rect x="259.04" y="116.60" width="1.53" height="9.40" fill="#207d91" />
<rect x="260.51" y="116.60" width="2.40" height="9.40" fill="#79be42" />
<rect x="262.87" y="116.60" width="2.76" height="9.40" fill="#80c140" />
<rect x="265.58" y="116.60" width="2.88" height="9.40" fill="#72bb46" />
<rect x="268.41" y="116.60" width="1.44" height="9.40" fill="#329575" />
<rect x="269.80" y="116.60" width="0.89" height="9.40" fill="#1f7895" />
<rect x="270.64" y="116.60" width="1.16" height="9.40" fill="#f5e62a" />
<rect x="271.75" y="116.60" width="1.27" height="9.40" fill="#f5e62a" />
<rect x="272.97" y="116.60" width="2.30" height="9.40" fill="#8cc53c" />
<rect x="275.23" y="116.60" width="1.61" height="9.40" fill="#91c73b" />
<rect x="276.78" y="116.60" width="0.86" height="9.40" fill="#f5e62a" />
<rect x="277.59" y="116.60" width="2.31" height="9.40" fill="#a3cd37" />
<rect x="279.85" y="116.60" width="2.43" height="9.40" fill="#94c83a" />
<rect x="282.22" y="116.60" width="1.80" height="9.40" fill="#aad036" />
<rect x="283.98" y="116.60" width="1.87" height="9.40" fill="#a1cd38" />
<rect x="285.80" y="116.60" width="2.62" height="9.40" fill="#a7cf37" />
<rect x="288.37" y="116.60" width="2.16" height="9.40" fill="#add135" />
<rect x="290.48" y="116.60" width="2.35" height="9.40" fill="#a5ce37" />
<rect x="292.77" y="116.60" width="2.54" height="9.40" fill="#bbd633" />
<rect x="295.26" y="116.60" width="0.87" height="9.40" fill="#e5e22c" />
<rect x="296.08" y="116.60" width="1.47" height="9.40" fill="#85c33e" />
<rect x="297.50" y="116.60" width="1.46" height="9.40" fill="#acd136" />
<rect x="298.91" y="116.60" width="1.71" height="9.40" fill="#9aca39" />
<rect x="300.57" y="116.60" width="2.96" height="9.40" fill="#93c83a" />
<rect x="303.48" y="116.60" width="0.90" height="9.40" fill="#f5e62a" />
<rect x="304.33" y="116.60" width="1.50" height="9.40" fill="#f5e62a" />
<rect x="305.77" y="116.60" width="2.83" height="9.40" fill="#acd136" />
<rect x="308.55" y="116.60" width="1.87" height="9.40" fill="#acd136" />
<rect x="310.37" y="116.60" width="1.88" height="9.40" fill="#cedd30" />
<rect x="312.20" y="116.60" width="2.55" height="9.40" fill="#98ca39" />
<rect x="314.70" y="116.60" width="2.94" height="9.40" fill="#9fcc38" />
<rect x="317.59" y="116.60" width="1.67" height="9.40" fill="#99ca39" />
<rect x="319.21" y="116.60" width="1.00" height="9.40" fill="#9dcb38" />
<rect x="320.16" y="116.60" width="1.92" height="9.40" fill="#9dcb38" />
<rect x="322.03" y="116.60" width="2.02" height="9.40" fill="#b2d334" />
<line x1="64.34" y1="115.30" x2="64.34" y2="116.60" stroke="#555" stroke-width="0.5"/>
<line x1="70.66" y1="115.30" x2="70.66" y2="116.60" stroke="#555" stroke-width="0.5"/>
<line x1="76.98" y1="115.30" x2="76.98" y2="116.60" stroke="#555" stroke-width="0.5"/>
<line x1="83.30" y1="115.30" x2="83.30" y2="116.60" stroke="#555" stroke-width="0.5"/>
<line x1="89.62" y1="115.30" x2="89.62" y2="116.60" stroke="#555" stroke-width="0.5"/>
<line x1="95.94" y1="115.30" x2="95.94" y2="116.60" stroke="#555" stroke-width="0.5"/>
<line x1="102.26" y1="115.30" x2="102.26" y2="116.60" stroke="#555" stroke-width="0.5"/>
<line x1="108.58" y1="115.30" x2="108.58" y2="116.60" stroke="#555" stroke-width="0.5"/>
<line x1="114.90" y1="115.30" x2="114.90" y2="116.60" stroke="#555" stroke-width="0.5"/>
<line x1="121.22" y1="115.30" x2="121.22" y2="116.60" stroke="#555" stroke-width="0.5"/>
<line x1="127.54" y1="115.30" x2="127.54" y2="116.60" stroke="#555" stroke-width="0.5"/>
<line x1="133.86" y1="115.30" x2="133.86" y2="116.60" stroke="#555" stroke-width="0.5"/>
<line x1="140.18" y1="115.30" x2="140.18" y2="116.60" stroke="#555" stroke-width="0.5"/>
<line x1="146.50" y1="115.30" x2="146.50" y2="116.60" stroke="#555" stroke-width="0.5"/>
<line x1="152.82" y1="115.30" x2="152.82" y2="116.60" stroke="#555" stroke-width="0.5"/>
<line x1="159.14" y1="115.30" x2="159.14" y2="116.60" stroke="#555" stroke-width="0.5"/>
<line x1="165.46" y1="115.30" x2="165.46" y2="116.60" stroke="#555" stroke-width="0.5"/>
<line x1="171.78" y1="115.30" x2="171.78" y2="116.60" stroke="#555" stroke-width="0.5"/>
<line x1="178.10" y1="115.30" x2="178.10" y2="116.60" stroke="#555" stroke-width="0.5"/>
<line x1="184.42" y1="115.30" x2="184.42" y2="116.60" stroke="#555" stroke-width="0.5"/>
<line x1="190.74" y1="115.30" x2="190.74" y2="116.60" stroke="#555" stroke-width="0.5"/>
<line x1="197.06" y1="115.30" x2="197.06" y2="116.60" stroke="#555" stroke-width="0.5"/>
<line x1="203.38" y1="115.30" x2="203.38" y2="116.60" stroke="#555" stroke-width="0.5"/>
<line x1="209.70" y1="115.30" x2="209.70" y2="116.60" stroke="#555" stroke-width="0.5"/>
<line x1="216.02" y1="115.30" x2="216.02" y2="116.60" stroke="#555" stroke-width="0.5"/>
<line x1="222.34" y1="115.30" x2="222.34" y2="116.60" stroke="#555" stroke-width="0.5"/>
<line x1="228.66" y1="115.30" x2="228.66" y2="116.60" stroke="#555" stroke-width="0.5"/>
<line x1="234.98" y1="115.30" x2="234.98" y2="116.60" stroke="#555" stroke-width="0.5"/>
<line x1="241.30" y1="115.30" x2="241.30" y2="116.60" stroke="#555" stroke-width="0.5"/>
<line x1="247.62" y1="115.30" x2="247.62" y2="116.60" stroke="#555" stroke-width="0.5"/>
<line x1="253.94" y1="115.30" x2="253.94" y2="116.60" stroke="#555" stroke-width="0.5"/>
<line x1="260.26" y1="115.30" x2="260.26" y2="116.60" stroke="#555" stroke-width="0.5"/>
<line x1="266.58" y1="115.30" x2="266.58" y2="116.60" stroke="#555" stroke-width="0.5"/>
<line x1="272.90" y1="115.30" x2="272.90" y2="116.60" stroke="#555" stroke-width="0.5"/>
<line x1="279.22" y1="115.30" x2="279.22" y2="116.60" stroke="#555" stroke-width="0.5"/>
<line x1="285.54" y1="115.30" x2="285.54" y2="116.60" stroke="#555" stroke-width="0.5"/>
<line x1="291.86" y1="115.30" x2="291.86" y2="116.60" stroke="#555" stroke-width="0.5"/>
<line x1="298.18" y1="115.30" x2="298.18" y2="116.60" stroke="#555" stroke-width="0.5"/>
<line x1="304.50" y1="115.30" x2="304.50" y2="116.60" stroke="#555" stroke-width="0.5"/>
<line x1="310.82" y1="115.30" x2="310.82" y2="116.60" stroke="#555" stroke-width="0.5"/>
<line x1="317.14" y1="115.30" x2="317.14" y2="116.60" stroke="#555" stroke-width="0.5"/>
<line x1="323.46" y1="115.30" x2="323.46" y2="116.60" stroke="#555" stroke-width="0.5"/>
<line x1="83.30" y1="113.40" x2="83.30" y2="116.60" stroke="#555" stroke-width="0.5"/>
<text x="83.60" y="113.20" font-size="3.2" fill="#2a2a2a" stroke="#2a2a2a" stroke-width="0.12" font-family="Liberation Sans, Arial, sans-serif" transform="rotate(-30 83.60 113.20)">36.6 M</text>
<line x1="114.90" y1="113.40" x2="114.90" y2="116.60" stroke="#555" stroke-width="0.5"/>
<text x="115.20" y="113.20" font-size="3.2" fill="#2a2a2a" stroke="#2a2a2a" stroke-width="0.12" font-family="Liberation Sans, Arial, sans-serif" transform="rotate(-30 115.20 113.20)">36.7 M</text>
<line x1="146.50" y1="113.40" x2="146.50" y2="116.60" stroke="#555" stroke-width="0.5"/>
<text x="146.80" y="113.20" font-size="3.2" fill="#2a2a2a" stroke="#2a2a2a" stroke-width="0.12" font-family="Liberation Sans, Arial, sans-serif" transform="rotate(-30 146.80 113.20)">36.8 M</text>
<line x1="178.10" y1="113.40" x2="178.10" y2="116.60" stroke="#555" stroke-width="0.5"/>
<text x="178.40" y="113.20" font-size="3.2" fill="#2a2a2a" stroke="#2a2a2a" stroke-width="0.12" font-family="Liberation Sans, Arial, sans-serif" transform="rotate(-30 178.40 113.20)">36.9 M</text>
<line x1="209.70" y1="113.40" x2="209.70" y2="116.60" stroke="#555" stroke-width="0.5"/>
<text x="210.00" y="113.20" font-size="3.2" fill="#2a2a2a" stroke="#2a2a2a" stroke-width="0.12" font-family="Liberation Sans, Arial, sans-serif" transform="rotate(-30 210.00 113.20)">37 M</text>
<line x1="241.30" y1="113.40" x2="241.30" y2="116.60" stroke="#555" stroke-width="0.5"/>
<text x="241.60" y="113.20" font-size="3.2" fill="#2a2a2a" stroke="#2a2a2a" stroke-width="0.12" font-family="Liberation Sans, Arial, sans-serif" transform="rotate(-30 241.60 113.20)">37.1 M</text>
<line x1="272.90" y1="113.40" x2="272.90" y2="116.60" stroke="#555" stroke-width="0.5"/>
<text x="273.20" y="113.20" font-size="3.2" fill="#2a2a2a" stroke="#2a2a2a" stroke-width="0.12" font-family="Liberation Sans, Arial, sans-serif" transform="rotate(-30 273.20 113.20)">37.2 M</text>
<line x1="304.50" y1="113.40" x2="304.50" y2="116.60" stroke="#555" stroke-width="0.5"/>
<text x="304.80" y="113.20" font-size="3.2" fill="#2a2a2a" stroke="#2a2a2a" stroke-width="0.12" font-family="Liberation Sans, Arial, sans-serif" transform="rotate(-30 304.80 113.20)">37.3 M</text>
<rect x="74.40" y="133.40" width="33.00" height="9.00" fill="#ff66ee" />
<rect x="140.00" y="133.40" width="15.00" height="9.00" fill="#b45cb4" />
<rect x="157.00" y="133.40" width="63.00" height="9.00" fill="#3cb4c0" />
<rect x="163.90" y="133.40" width="1.10" height="9.00" fill="#8a3aa8" />
<polygon points="174.60,135.85 170.10,135.85 170.10,134.25 166.60,138.00 170.10,141.75 170.10,140.15 174.60,140.15" fill="none" stroke="#1a1a1a" stroke-width="0.75" stroke-linejoin="miter"/>
<text x="190.00" y="140.80" font-size="8.9" text-anchor="middle" font-weight="bold" fill="#000" font-family='"Liberation Sans", Arial, sans-serif' textLength="20.0" lengthAdjust="spacingAndGlyphs" stroke="#000" stroke-width="0.28">PAX5</text>
<polygon points="216.10,135.85 210.80,135.85 210.80,134.25 207.10,138.00 210.80,141.75 210.80,140.15 216.10,140.15" fill="none" stroke="#1a1a1a" stroke-width="0.75" stroke-linejoin="miter"/>
<line x1="224" y1="133.4" x2="224" y2="142.4" stroke="#d8f4fa" stroke-width="0.8"/>
<line x1="232" y1="133.4" x2="232" y2="142.4" stroke="#dddddd" stroke-width="0.5"/>
<rect x="234.40" y="133.40" width="2.60" height="9.00" fill="#6060d0" />
<rect x="245.00" y="133.40" width="2.40" height="9.00" fill="#5050e0" />
<rect x="247.40" y="133.40" width="74.60" height="9.00" fill="#3cb55a" />
<text x="8.00" y="174.80" font-size="17.4" text-anchor="start" font-weight="bold" fill="#000" font-family='"Liberation Sans", Arial, sans-serif' stroke="#000" stroke-width="0.35">B</text>
<text x="182.70" y="168.60" font-size="8.4" text-anchor="middle" font-weight="bold" fill="#000" font-family='"Liberation Sans", Arial, sans-serif'  stroke="#000" stroke-width="0.28">t(7;8)</text>
<text x="183.2" y="177.6" font-size="8.3" text-anchor="middle" font-weight="bold" stroke="#000" stroke-width="0.28" font-family='"Liberation Sans", Arial, sans-serif'>AUTS2<tspan stroke="none"  fill="#b8b8b8" font-size="6" font-weight="bold">::</tspan>FGFR1</text>
<text x="57.40" y="192.50" font-size="9.1" text-anchor="end" font-weight="bold" fill="#000" font-family='"Liberation Sans", Arial, sans-serif'  stroke="#000" stroke-width="0.28">genes</text>
<text x="57.40" y="221.00" font-size="9.1" text-anchor="end" font-weight="bold" fill="#000" font-family='"Liberation Sans", Arial, sans-serif'  stroke="#000" stroke-width="0.28">ref chr 7</text>
<text x="57.40" y="241.60" font-size="9.1" text-anchor="end" font-weight="bold" fill="#000" font-family='"Liberation Sans", Arial, sans-serif'  stroke="#000" stroke-width="0.28">OGM map</text>
<text x="57.40" y="281.40" font-size="9.1" text-anchor="end" font-weight="bold" fill="#000" font-family='"Liberation Sans", Arial, sans-serif'  stroke="#000" stroke-width="0.28">ref chr 8</text>
<text x="57.40" y="301.70" font-size="9.1" text-anchor="end" font-weight="bold" fill="#000" font-family='"Liberation Sans", Arial, sans-serif'  stroke="#000" stroke-width="0.28">genes</text>
<rect x="63.00" y="182.80" width="178.00" height="11.00" fill="#3cb55a" />
<polygon points="81.60,186.05 88.50,186.05 88.50,183.70 94.30,188.20 88.50,192.70 88.50,190.35 81.60,190.35" fill="none" stroke="#1a1a1a" stroke-width="0.75" stroke-linejoin="miter"/>
<polygon points="207.60,186.05 213.50,186.05 213.50,183.70 219.30,188.20 213.50,192.70 213.50,190.35 207.60,190.35" fill="none" stroke="#1a1a1a" stroke-width="0.75" stroke-linejoin="miter"/>
<text x="149.20" y="191.60" font-size="8.5" text-anchor="middle" font-weight="bold" fill="#000" font-family='"Liberation Sans", Arial, sans-serif'  stroke="#000" stroke-width="0.28">AUTS2</text>
<line x1="260" y1="183.5" x2="260" y2="193" stroke="#dde0f4" stroke-width="0.7"/>
<rect x="63.00" y="212.00" width="2.86" height="11.00" fill="#a5ce37" />
<rect x="65.81" y="212.00" width="2.37" height="11.00" fill="#9ccb39" />
<rect x="68.13" y="212.00" width="2.12" height="11.00" fill="#bbd633" />
<rect x="70.20" y="212.00" width="2.31" height="11.00" fill="#94c83a" />
<rect x="72.45" y="212.00" width="1.18" height="11.00" fill="#b0d235" />
<rect x="73.58" y="212.00" width="1.22" height="11.00" fill="#a3cd37" />
<rect x="74.75" y="212.00" width="2.58" height="11.00" fill="#abd036" />
<rect x="77.28" y="212.00" width="1.43" height="11.00" fill="#f2e52a" />
<rect x="78.66" y="212.00" width="2.46" height="11.00" fill="#a0cd38" />
<rect x="81.07" y="212.00" width="1.25" height="11.00" fill="#d4de2f" />
<rect x="82.27" y="212.00" width="1.53" height="11.00" fill="#d9df2e" />
<rect x="83.75" y="212.00" width="0.94" height="11.00" fill="#f5e62a" />
<rect x="84.64" y="212.00" width="2.80" height="11.00" fill="#afd235" />
<rect x="87.39" y="212.00" width="1.51" height="11.00" fill="#add135" />
<rect x="88.85" y="212.00" width="1.25" height="11.00" fill="#f5e62a" />
<rect x="90.05" y="212.00" width="1.72" height="11.00" fill="#86c33e" />
<rect x="91.72" y="212.00" width="1.31" height="11.00" fill="#1e7796" />
<rect x="92.98" y="212.00" width="2.49" height="11.00" fill="#6fba48" />
<rect x="95.41" y="212.00" width="1.56" height="11.00" fill="#6bb84b" />
<rect x="96.92" y="212.00" width="0.71" height="11.00" fill="#2b8e7c" />
<rect x="97.58" y="212.00" width="1.33" height="11.00" fill="#1d6e9c" />
<rect x="98.86" y="212.00" width="1.24" height="11.00" fill="#329574" />
<rect x="100.05" y="212.00" width="1.32" height="11.00" fill="#1e729a" />
<rect x="101.33" y="212.00" width="1.77" height="11.00" fill="#86c33e" />
<rect x="103.05" y="212.00" width="1.81" height="11.00" fill="#71bb46" />
<rect x="104.81" y="212.00" width="2.35" height="11.00" fill="#7ec040" />
<rect x="107.10" y="212.00" width="0.90" height="11.00" fill="#42a167" />
<rect x="107.95" y="212.00" width="1.27" height="11.00" fill="#1e7696" />
<rect x="109.17" y="212.00" width="1.48" height="11.00" fill="#1f7895" />
<rect x="110.60" y="212.00" width="1.45" height="11.00" fill="#278883" />
<rect x="112.00" y="212.00" width="1.21" height="11.00" fill="#7dc041" />
<rect x="113.16" y="212.00" width="0.81" height="11.00" fill="#298a81" />
<rect x="113.92" y="212.00" width="2.10" height="11.00" fill="#72bb46" />
<rect x="115.97" y="212.00" width="0.95" height="11.00" fill="#207e90" />
<rect x="116.87" y="212.00" width="1.55" height="11.00" fill="#258488" />
<rect x="118.36" y="212.00" width="2.42" height="11.00" fill="#81c13f" />
<rect x="120.73" y="212.00" width="2.82" height="11.00" fill="#9dcb38" />
<rect x="123.50" y="212.00" width="0.92" height="11.00" fill="#7cbf41" />
<rect x="124.37" y="212.00" width="1.98" height="11.00" fill="#66b54e" />
<rect x="126.29" y="212.00" width="1.24" height="11.00" fill="#82c13f" />
<rect x="127.48" y="212.00" width="1.97" height="11.00" fill="#7bbf41" />
<rect x="129.40" y="212.00" width="1.62" height="11.00" fill="#80c140" />
<rect x="130.98" y="212.00" width="1.53" height="11.00" fill="#5bb055" />
<rect x="132.46" y="212.00" width="1.42" height="11.00" fill="#2c8f7c" />
<rect x="133.82" y="212.00" width="1.46" height="11.00" fill="#6db949" />
<rect x="135.24" y="212.00" width="1.52" height="11.00" fill="#90c73b" />
<rect x="136.71" y="212.00" width="1.95" height="11.00" fill="#7fc040" />
<rect x="138.61" y="212.00" width="1.36" height="11.00" fill="#84c23f" />
<rect x="139.92" y="212.00" width="1.10" height="11.00" fill="#268686" />
<rect x="140.97" y="212.00" width="2.67" height="11.00" fill="#7bbf41" />
<rect x="143.58" y="212.00" width="1.29" height="11.00" fill="#1e7795" />
<rect x="144.82" y="212.00" width="1.33" height="11.00" fill="#309476" />
<rect x="146.10" y="212.00" width="0.98" height="11.00" fill="#207e90" />
<rect x="147.03" y="212.00" width="1.43" height="11.00" fill="#2a8c7f" />
<rect x="148.41" y="212.00" width="0.78" height="11.00" fill="#1e7697" />
<rect x="149.15" y="212.00" width="2.02" height="11.00" fill="#86c33e" />
<rect x="151.12" y="212.00" width="0.67" height="11.00" fill="#207d91" />
<rect x="151.74" y="212.00" width="2.45" height="11.00" fill="#84c23f" />
<rect x="154.14" y="212.00" width="1.18" height="11.00" fill="#1f7b93" />
<rect x="155.26" y="212.00" width="1.93" height="11.00" fill="#6ab74b" />
<rect x="157.14" y="212.00" width="1.25" height="11.00" fill="#7dc040" />
<rect x="158.34" y="212.00" width="2.51" height="11.00" fill="#83c23f" />
<rect x="160.80" y="212.00" width="2.42" height="11.00" fill="#73bb46" />
<rect x="163.17" y="212.00" width="1.00" height="11.00" fill="#2a8c7f" />
<rect x="164.12" y="212.00" width="1.25" height="11.00" fill="#1c63a5" />
<rect x="165.32" y="212.00" width="1.67" height="11.00" fill="#acd136" />
<rect x="166.94" y="212.00" width="1.62" height="11.00" fill="#6fba48" />
<rect x="168.51" y="212.00" width="1.23" height="11.00" fill="#76bd44" />
<rect x="169.69" y="212.00" width="0.93" height="11.00" fill="#1d6aa0" />
<rect x="170.58" y="212.00" width="1.54" height="11.00" fill="#6cb84a" />
<rect x="172.06" y="212.00" width="2.99" height="11.00" fill="#71bb46" />
<rect x="175.01" y="212.00" width="2.37" height="11.00" fill="#59af56" />
<rect x="177.33" y="212.00" width="1.46" height="11.00" fill="#56ae58" />
<rect x="178.73" y="212.00" width="2.57" height="11.00" fill="#8bc53d" />
<rect x="181.25" y="212.00" width="1.08" height="11.00" fill="#1e7399" />
<rect x="182.28" y="212.00" width="2.80" height="11.00" fill="#5cb154" />
<rect x="185.03" y="212.00" width="2.02" height="11.00" fill="#7cc041" />
<rect x="187.00" y="212.00" width="1.27" height="11.00" fill="#1d6b9f" />
<rect x="188.22" y="212.00" width="2.51" height="11.00" fill="#7bbf41" />
<rect x="190.68" y="212.00" width="1.28" height="11.00" fill="#5db154" />
<rect x="191.90" y="212.00" width="2.73" height="11.00" fill="#7ec040" />
<rect x="194.58" y="212.00" width="0.73" height="11.00" fill="#1e7796" />
<rect x="195.26" y="212.00" width="1.74" height="11.00" fill="#6fba48" />
<rect x="196.95" y="212.00" width="2.51" height="11.00" fill="#7cc041" />
<rect x="199.41" y="212.00" width="1.49" height="11.00" fill="#278785" />
<rect x="200.85" y="212.00" width="1.50" height="11.00" fill="#288983" />
<rect x="202.30" y="212.00" width="1.30" height="11.00" fill="#7ec040" />
<rect x="203.54" y="212.00" width="0.98" height="11.00" fill="#258488" />
<rect x="204.47" y="212.00" width="1.16" height="11.00" fill="#268686" />
<rect x="205.58" y="212.00" width="2.74" height="11.00" fill="#7abf42" />
<rect x="208.27" y="212.00" width="2.25" height="11.00" fill="#61b351" />
<rect x="210.47" y="212.00" width="1.03" height="11.00" fill="#7ec040" />
<rect x="211.45" y="212.00" width="2.37" height="11.00" fill="#64b54f" />
<rect x="213.76" y="212.00" width="2.96" height="11.00" fill="#88c43d" />
<rect x="216.67" y="212.00" width="2.93" height="11.00" fill="#7cbf41" />
<rect x="219.56" y="212.00" width="1.84" height="11.00" fill="#7ec040" />
<rect x="221.35" y="212.00" width="2.21" height="11.00" fill="#7cc041" />
<rect x="223.51" y="212.00" width="1.04" height="11.00" fill="#79be42" />
<rect x="224.50" y="212.00" width="2.03" height="11.00" fill="#60b351" />
<rect x="226.48" y="212.00" width="1.07" height="11.00" fill="#2d907a" />
<rect x="227.51" y="212.00" width="1.46" height="11.00" fill="#1c62a6" />
<rect x="228.92" y="212.00" width="1.97" height="11.00" fill="#83c23f" />
<rect x="230.84" y="212.00" width="3.02" height="11.00" fill="#7ec040" />
<rect x="233.81" y="212.00" width="0.89" height="11.00" fill="#1f7994" />
<rect x="234.65" y="212.00" width="1.20" height="11.00" fill="#6cb84a" />
<rect x="235.80" y="212.00" width="1.03" height="11.00" fill="#73bb45" />
<rect x="236.78" y="212.00" width="2.61" height="11.00" fill="#7ec040" />
<rect x="239.34" y="212.00" width="1.23" height="11.00" fill="#5eb253" />
<rect x="240.53" y="212.00" width="0.87" height="11.00" fill="#74bc44" />
<rect x="241.34" y="212.00" width="1.03" height="11.00" fill="#71bb47" />
<rect x="242.32" y="212.00" width="2.28" height="11.00" fill="#61b351" />
<rect x="244.55" y="212.00" width="1.54" height="11.00" fill="#298b81" />
<rect x="246.04" y="212.00" width="0.92" height="11.00" fill="#1f7a93" />
<rect x="246.91" y="212.00" width="2.49" height="11.00" fill="#7ec040" />
<rect x="249.35" y="212.00" width="0.88" height="11.00" fill="#2d9179" />
<rect x="250.18" y="212.00" width="0.73" height="11.00" fill="#207d90" />
<rect x="250.85" y="212.00" width="1.91" height="11.00" fill="#85c33e" />
<rect x="252.71" y="212.00" width="1.00" height="11.00" fill="#1f7b92" />
<rect x="253.65" y="212.00" width="1.83" height="11.00" fill="#79be42" />
<rect x="255.44" y="212.00" width="1.08" height="11.00" fill="#207d91" />
<rect x="256.47" y="212.00" width="2.88" height="11.00" fill="#5fb253" />
<rect x="259.29" y="212.00" width="0.96" height="11.00" fill="#288982" />
<rect x="260.20" y="212.00" width="0.87" height="11.00" fill="#248489" />
<rect x="261.02" y="212.00" width="1.50" height="11.00" fill="#1e7796" />
<rect x="262.46" y="212.00" width="2.50" height="11.00" fill="#6cb84a" />
<rect x="264.91" y="212.00" width="2.15" height="11.00" fill="#84c23f" />
<rect x="267.02" y="212.00" width="1.35" height="11.00" fill="#87c33e" />
<rect x="268.32" y="212.00" width="1.04" height="11.00" fill="#298a82" />
<rect x="269.31" y="212.00" width="0.67" height="11.00" fill="#1d69a1" />
<rect x="269.92" y="212.00" width="1.39" height="11.00" fill="#5db153" />
<rect x="271.26" y="212.00" width="1.01" height="11.00" fill="#1d6e9d" />
<rect x="272.22" y="212.00" width="2.81" height="11.00" fill="#95c83a" />
<rect x="274.99" y="212.00" width="1.40" height="11.00" fill="#2a8c7f" />
<rect x="276.34" y="212.00" width="1.46" height="11.00" fill="#1f7995" />
<rect x="277.75" y="212.00" width="0.68" height="11.00" fill="#288982" />
<rect x="278.38" y="212.00" width="1.40" height="11.00" fill="#2e9278" />
<rect x="279.73" y="212.00" width="1.14" height="11.00" fill="#1e7399" />
<rect x="280.82" y="212.00" width="1.78" height="11.00" fill="#77be42" />
<rect x="282.54" y="212.00" width="1.83" height="11.00" fill="#82c13f" />
<rect x="284.33" y="212.00" width="1.37" height="11.00" fill="#87c33e" />
<rect x="285.65" y="212.00" width="1.18" height="11.00" fill="#7cbf41" />
<rect x="286.78" y="212.00" width="1.25" height="11.00" fill="#278785" />
<rect x="287.98" y="212.00" width="0.92" height="11.00" fill="#84c23f" />
<rect x="288.85" y="212.00" width="1.07" height="11.00" fill="#2d917a" />
<rect x="289.86" y="212.00" width="0.85" height="11.00" fill="#23828b" />
<rect x="290.67" y="212.00" width="1.16" height="11.00" fill="#1e7498" />
<rect x="291.78" y="212.00" width="1.38" height="11.00" fill="#2b8d7d" />
<rect x="293.11" y="212.00" width="1.86" height="11.00" fill="#77be43" />
<rect x="294.92" y="212.00" width="1.22" height="11.00" fill="#268686" />
<rect x="296.09" y="212.00" width="1.93" height="11.00" fill="#8dc63c" />
<rect x="297.98" y="212.00" width="1.21" height="11.00" fill="#278785" />
<rect x="299.14" y="212.00" width="1.25" height="11.00" fill="#24838a" />
<rect x="300.34" y="212.00" width="2.42" height="11.00" fill="#7fc040" />
<rect x="302.71" y="212.00" width="3.02" height="11.00" fill="#83c23f" />
<rect x="305.68" y="212.00" width="1.24" height="11.00" fill="#6db949" />
<rect x="306.87" y="212.00" width="0.92" height="11.00" fill="#64b44f" />
<rect x="307.74" y="212.00" width="1.51" height="11.00" fill="#268687" />
<rect x="309.20" y="212.00" width="1.42" height="11.00" fill="#79be42" />
<rect x="310.57" y="212.00" width="1.12" height="11.00" fill="#d5de2f" />
<rect x="311.64" y="212.00" width="1.83" height="11.00" fill="#abd036" />
<rect x="313.42" y="212.00" width="0.68" height="11.00" fill="#efe52b" />
<rect x="314.06" y="212.00" width="1.19" height="11.00" fill="#eee42b" />
<rect x="315.19" y="212.00" width="1.43" height="11.00" fill="#d2de2f" />
<rect x="316.57" y="212.00" width="0.48" height="11.00" fill="#f0e52b" />
<rect x="84.00" y="212.00" width="3.60" height="11.00" fill="#f0e62a" />
<line x1="65.82" y1="210.70" x2="65.82" y2="212.00" stroke="#555" stroke-width="0.5"/>
<line x1="70.06" y1="210.70" x2="70.06" y2="212.00" stroke="#555" stroke-width="0.5"/>
<line x1="74.30" y1="210.70" x2="74.30" y2="212.00" stroke="#555" stroke-width="0.5"/>
<line x1="78.54" y1="210.70" x2="78.54" y2="212.00" stroke="#555" stroke-width="0.5"/>
<line x1="82.78" y1="210.70" x2="82.78" y2="212.00" stroke="#555" stroke-width="0.5"/>
<line x1="87.02" y1="210.70" x2="87.02" y2="212.00" stroke="#555" stroke-width="0.5"/>
<line x1="91.26" y1="210.70" x2="91.26" y2="212.00" stroke="#555" stroke-width="0.5"/>
<line x1="95.50" y1="210.70" x2="95.50" y2="212.00" stroke="#555" stroke-width="0.5"/>
<line x1="99.74" y1="210.70" x2="99.74" y2="212.00" stroke="#555" stroke-width="0.5"/>
<line x1="103.98" y1="210.70" x2="103.98" y2="212.00" stroke="#555" stroke-width="0.5"/>
<line x1="108.22" y1="210.70" x2="108.22" y2="212.00" stroke="#555" stroke-width="0.5"/>
<line x1="112.46" y1="210.70" x2="112.46" y2="212.00" stroke="#555" stroke-width="0.5"/>
<line x1="116.70" y1="210.70" x2="116.70" y2="212.00" stroke="#555" stroke-width="0.5"/>
<line x1="120.94" y1="210.70" x2="120.94" y2="212.00" stroke="#555" stroke-width="0.5"/>
<line x1="125.18" y1="210.70" x2="125.18" y2="212.00" stroke="#555" stroke-width="0.5"/>
<line x1="129.42" y1="210.70" x2="129.42" y2="212.00" stroke="#555" stroke-width="0.5"/>
<line x1="133.66" y1="210.70" x2="133.66" y2="212.00" stroke="#555" stroke-width="0.5"/>
<line x1="137.90" y1="210.70" x2="137.90" y2="212.00" stroke="#555" stroke-width="0.5"/>
<line x1="142.14" y1="210.70" x2="142.14" y2="212.00" stroke="#555" stroke-width="0.5"/>
<line x1="146.38" y1="210.70" x2="146.38" y2="212.00" stroke="#555" stroke-width="0.5"/>
<line x1="150.62" y1="210.70" x2="150.62" y2="212.00" stroke="#555" stroke-width="0.5"/>
<line x1="154.86" y1="210.70" x2="154.86" y2="212.00" stroke="#555" stroke-width="0.5"/>
<line x1="159.10" y1="210.70" x2="159.10" y2="212.00" stroke="#555" stroke-width="0.5"/>
<line x1="163.34" y1="210.70" x2="163.34" y2="212.00" stroke="#555" stroke-width="0.5"/>
<line x1="167.58" y1="210.70" x2="167.58" y2="212.00" stroke="#555" stroke-width="0.5"/>
<line x1="171.82" y1="210.70" x2="171.82" y2="212.00" stroke="#555" stroke-width="0.5"/>
<line x1="176.06" y1="210.70" x2="176.06" y2="212.00" stroke="#555" stroke-width="0.5"/>
<line x1="180.30" y1="210.70" x2="180.30" y2="212.00" stroke="#555" stroke-width="0.5"/>
<line x1="184.54" y1="210.70" x2="184.54" y2="212.00" stroke="#555" stroke-width="0.5"/>
<line x1="188.78" y1="210.70" x2="188.78" y2="212.00" stroke="#555" stroke-width="0.5"/>
<line x1="193.02" y1="210.70" x2="193.02" y2="212.00" stroke="#555" stroke-width="0.5"/>
<line x1="197.26" y1="210.70" x2="197.26" y2="212.00" stroke="#555" stroke-width="0.5"/>
<line x1="201.50" y1="210.70" x2="201.50" y2="212.00" stroke="#555" stroke-width="0.5"/>
<line x1="205.74" y1="210.70" x2="205.74" y2="212.00" stroke="#555" stroke-width="0.5"/>
<line x1="209.98" y1="210.70" x2="209.98" y2="212.00" stroke="#555" stroke-width="0.5"/>
<line x1="214.22" y1="210.70" x2="214.22" y2="212.00" stroke="#555" stroke-width="0.5"/>
<line x1="218.46" y1="210.70" x2="218.46" y2="212.00" stroke="#555" stroke-width="0.5"/>
<line x1="222.70" y1="210.70" x2="222.70" y2="212.00" stroke="#555" stroke-width="0.5"/>
<line x1="226.94" y1="210.70" x2="226.94" y2="212.00" stroke="#555" stroke-width="0.5"/>
<line x1="231.18" y1="210.70" x2="231.18" y2="212.00" stroke="#555" stroke-width="0.5"/>
<line x1="235.42" y1="210.70" x2="235.42" y2="212.00" stroke="#555" stroke-width="0.5"/>
<line x1="239.66" y1="210.70" x2="239.66" y2="212.00" stroke="#555" stroke-width="0.5"/>
<line x1="243.90" y1="210.70" x2="243.90" y2="212.00" stroke="#555" stroke-width="0.5"/>
<line x1="248.14" y1="210.70" x2="248.14" y2="212.00" stroke="#555" stroke-width="0.5"/>
<line x1="252.38" y1="210.70" x2="252.38" y2="212.00" stroke="#555" stroke-width="0.5"/>
<line x1="256.62" y1="210.70" x2="256.62" y2="212.00" stroke="#555" stroke-width="0.5"/>
<line x1="260.86" y1="210.70" x2="260.86" y2="212.00" stroke="#555" stroke-width="0.5"/>
<line x1="265.10" y1="210.70" x2="265.10" y2="212.00" stroke="#555" stroke-width="0.5"/>
<line x1="269.34" y1="210.70" x2="269.34" y2="212.00" stroke="#555" stroke-width="0.5"/>
<line x1="273.58" y1="210.70" x2="273.58" y2="212.00" stroke="#555" stroke-width="0.5"/>
<line x1="277.82" y1="210.70" x2="277.82" y2="212.00" stroke="#555" stroke-width="0.5"/>
<line x1="282.06" y1="210.70" x2="282.06" y2="212.00" stroke="#555" stroke-width="0.5"/>
<line x1="286.30" y1="210.70" x2="286.30" y2="212.00" stroke="#555" stroke-width="0.5"/>
<line x1="290.54" y1="210.70" x2="290.54" y2="212.00" stroke="#555" stroke-width="0.5"/>
<line x1="294.78" y1="210.70" x2="294.78" y2="212.00" stroke="#555" stroke-width="0.5"/>
<line x1="299.02" y1="210.70" x2="299.02" y2="212.00" stroke="#555" stroke-width="0.5"/>
<line x1="303.26" y1="210.70" x2="303.26" y2="212.00" stroke="#555" stroke-width="0.5"/>
<line x1="307.50" y1="210.70" x2="307.50" y2="212.00" stroke="#555" stroke-width="0.5"/>
<line x1="311.74" y1="210.70" x2="311.74" y2="212.00" stroke="#555" stroke-width="0.5"/>
<line x1="315.98" y1="210.70" x2="315.98" y2="212.00" stroke="#555" stroke-width="0.5"/>
<line x1="74.30" y1="208.80" x2="74.30" y2="212.00" stroke="#555" stroke-width="0.5"/>
<text x="74.60" y="208.60" font-size="3.8" fill="#2a2a2a" stroke="#2a2a2a" stroke-width="0.12" font-family="Liberation Sans, Arial, sans-serif" transform="rotate(-30 74.60 208.60)">70.4 M</text>
<line x1="95.50" y1="208.80" x2="95.50" y2="212.00" stroke="#555" stroke-width="0.5"/>
<text x="95.80" y="208.60" font-size="3.8" fill="#2a2a2a" stroke="#2a2a2a" stroke-width="0.12" font-family="Liberation Sans, Arial, sans-serif" transform="rotate(-30 95.80 208.60)">70.45 M</text>
<line x1="116.70" y1="208.80" x2="116.70" y2="212.00" stroke="#555" stroke-width="0.5"/>
<text x="117.00" y="208.60" font-size="3.8" fill="#2a2a2a" stroke="#2a2a2a" stroke-width="0.12" font-family="Liberation Sans, Arial, sans-serif" transform="rotate(-30 117.00 208.60)">70.5 M</text>
<line x1="137.90" y1="208.80" x2="137.90" y2="212.00" stroke="#555" stroke-width="0.5"/>
<text x="138.20" y="208.60" font-size="3.8" fill="#2a2a2a" stroke="#2a2a2a" stroke-width="0.12" font-family="Liberation Sans, Arial, sans-serif" transform="rotate(-30 138.20 208.60)">70.55 M</text>
<line x1="159.10" y1="208.80" x2="159.10" y2="212.00" stroke="#555" stroke-width="0.5"/>
<text x="159.40" y="208.60" font-size="3.8" fill="#2a2a2a" stroke="#2a2a2a" stroke-width="0.12" font-family="Liberation Sans, Arial, sans-serif" transform="rotate(-30 159.40 208.60)">70.6 M</text>
<line x1="180.30" y1="208.80" x2="180.30" y2="212.00" stroke="#555" stroke-width="0.5"/>
<text x="180.60" y="208.60" font-size="3.8" fill="#2a2a2a" stroke="#2a2a2a" stroke-width="0.12" font-family="Liberation Sans, Arial, sans-serif" transform="rotate(-30 180.60 208.60)">70.65 M</text>
<line x1="201.50" y1="208.80" x2="201.50" y2="212.00" stroke="#555" stroke-width="0.5"/>
<text x="201.80" y="208.60" font-size="3.8" fill="#2a2a2a" stroke="#2a2a2a" stroke-width="0.12" font-family="Liberation Sans, Arial, sans-serif" transform="rotate(-30 201.80 208.60)">70.7 M</text>
<line x1="222.70" y1="208.80" x2="222.70" y2="212.00" stroke="#555" stroke-width="0.5"/>
<text x="223.00" y="208.60" font-size="3.8" fill="#2a2a2a" stroke="#2a2a2a" stroke-width="0.12" font-family="Liberation Sans, Arial, sans-serif" transform="rotate(-30 223.00 208.60)">70.75 M</text>
<line x1="243.90" y1="208.80" x2="243.90" y2="212.00" stroke="#555" stroke-width="0.5"/>
<text x="244.20" y="208.60" font-size="3.8" fill="#2a2a2a" stroke="#2a2a2a" stroke-width="0.12" font-family="Liberation Sans, Arial, sans-serif" transform="rotate(-30 244.20 208.60)">70.8 M</text>
<line x1="265.10" y1="208.80" x2="265.10" y2="212.00" stroke="#555" stroke-width="0.5"/>
<text x="265.40" y="208.60" font-size="3.8" fill="#2a2a2a" stroke="#2a2a2a" stroke-width="0.12" font-family="Liberation Sans, Arial, sans-serif" transform="rotate(-30 265.40 208.60)">70.85 M</text>
<line x1="286.30" y1="208.80" x2="286.30" y2="212.00" stroke="#555" stroke-width="0.5"/>
<text x="286.60" y="208.60" font-size="3.8" fill="#2a2a2a" stroke="#2a2a2a" stroke-width="0.12" font-family="Liberation Sans, Arial, sans-serif" transform="rotate(-30 286.60 208.60)">70.9 M</text>
<line x1="307.50" y1="208.80" x2="307.50" y2="212.00" stroke="#555" stroke-width="0.5"/>
<text x="307.80" y="208.60" font-size="3.8" fill="#2a2a2a" stroke="#2a2a2a" stroke-width="0.12" font-family="Liberation Sans, Arial, sans-serif" transform="rotate(-30 307.80 208.60)">70.95 M</text>
<text x="63.20" y="208.70" font-size="3.9" text-anchor="start" font-weight="normal" fill="#333" font-family='"Liberation Sans", Arial, sans-serif' transform="rotate(-30 63.2 208.7)">3</text>
<line x1="141.62" y1="223.00" x2="141.62" y2="233.10" stroke="#bcbcbc" stroke-width="0.5"/>
<line x1="132.20" y1="223.00" x2="132.20" y2="233.10" stroke="#bcbcbc" stroke-width="0.5"/>
<line x1="107.55" y1="223.00" x2="107.55" y2="233.10" stroke="#bcbcbc" stroke-width="0.5"/>
<line x1="183.99" y1="223.00" x2="183.99" y2="233.10" stroke="#bcbcbc" stroke-width="0.5"/>
<line x1="93.68" y1="223.00" x2="93.68" y2="233.10" stroke="#bcbcbc" stroke-width="0.5"/>
<line x1="145.79" y1="223.00" x2="145.79" y2="233.10" stroke="#bcbcbc" stroke-width="0.5"/>
<line x1="187.32" y1="223.00" x2="187.32" y2="233.10" stroke="#bcbcbc" stroke-width="0.5"/>
<line x1="101.49" y1="223.00" x2="101.49" y2="233.10" stroke="#bcbcbc" stroke-width="0.5"/>
<line x1="151.20" y1="223.00" x2="151.20" y2="233.10" stroke="#bcbcbc" stroke-width="0.5"/>
<line x1="157.75" y1="223.00" x2="157.75" y2="233.10" stroke="#bcbcbc" stroke-width="0.5"/>
<line x1="97.29" y1="223.00" x2="97.29" y2="233.10" stroke="#bcbcbc" stroke-width="0.5"/>
<line x1="132.80" y1="223.00" x2="132.80" y2="233.10" stroke="#bcbcbc" stroke-width="0.5"/>
<line x1="166.87" y1="223.00" x2="166.87" y2="233.10" stroke="#bcbcbc" stroke-width="0.5"/>
<line x1="140.46" y1="223.00" x2="140.46" y2="233.10" stroke="#bcbcbc" stroke-width="0.5"/>
<line x1="169.13" y1="223.00" x2="169.13" y2="233.10" stroke="#bcbcbc" stroke-width="0.5"/>
<line x1="109.50" y1="223.00" x2="109.50" y2="233.10" stroke="#bcbcbc" stroke-width="0.5"/>
<line x1="117.99" y1="223.00" x2="117.99" y2="233.10" stroke="#bcbcbc" stroke-width="0.5"/>
<line x1="104.65" y1="223.00" x2="104.65" y2="233.10" stroke="#bcbcbc" stroke-width="0.5"/>
<line x1="146.16" y1="223.00" x2="146.16" y2="233.10" stroke="#bcbcbc" stroke-width="0.5"/>
<line x1="190.00" y1="223.00" x2="190.00" y2="233.10" stroke="#bcbcbc" stroke-width="0.5"/>
<line x1="154.99" y1="223.00" x2="154.99" y2="233.10" stroke="#bcbcbc" stroke-width="0.5"/>
<line x1="174.29" y1="223.00" x2="174.29" y2="233.10" stroke="#bcbcbc" stroke-width="0.5"/>
<line x1="133.28" y1="223.00" x2="133.28" y2="233.10" stroke="#bcbcbc" stroke-width="0.5"/>
<line x1="171.34" y1="223.00" x2="171.34" y2="233.10" stroke="#bcbcbc" stroke-width="0.5"/>
<line x1="103.68" y1="223.00" x2="103.68" y2="233.10" stroke="#bcbcbc" stroke-width="0.5"/>
<line x1="123.57" y1="223.00" x2="123.57" y2="233.10" stroke="#bcbcbc" stroke-width="0.5"/>
<line x1="163.79" y1="223.00" x2="163.79" y2="233.10" stroke="#bcbcbc" stroke-width="0.5"/>
<line x1="169.20" y1="223.00" x2="169.20" y2="233.10" stroke="#bcbcbc" stroke-width="0.5"/>
<line x1="137.28" y1="223.00" x2="137.28" y2="233.10" stroke="#bcbcbc" stroke-width="0.5"/>
<line x1="102.21" y1="223.00" x2="102.21" y2="233.10" stroke="#bcbcbc" stroke-width="0.5"/>
<line x1="121.01" y1="223.00" x2="121.01" y2="233.10" stroke="#bcbcbc" stroke-width="0.5"/>
<line x1="115.04" y1="223.00" x2="115.04" y2="233.10" stroke="#bcbcbc" stroke-width="0.5"/>
<line x1="122.52" y1="223.00" x2="122.52" y2="233.10" stroke="#bcbcbc" stroke-width="0.5"/>
<line x1="178.00" y1="223.00" x2="178.00" y2="233.10" stroke="#bcbcbc" stroke-width="0.5"/>
<line x1="113.95" y1="223.00" x2="113.95" y2="233.10" stroke="#bcbcbc" stroke-width="0.5"/>
<line x1="186.07" y1="223.00" x2="186.07" y2="233.10" stroke="#bcbcbc" stroke-width="0.5"/>
<line x1="185.33" y1="223.00" x2="185.33" y2="233.10" stroke="#bcbcbc" stroke-width="0.5"/>
<line x1="98.75" y1="223.00" x2="98.75" y2="233.10" stroke="#bcbcbc" stroke-width="0.5"/>
<line x1="132.78" y1="223.00" x2="132.78" y2="233.10" stroke="#bcbcbc" stroke-width="0.5"/>
<line x1="144.63" y1="223.00" x2="144.63" y2="233.10" stroke="#bcbcbc" stroke-width="0.5"/>
<rect x="92.60" y="233.10" width="211.20" height="11.00" fill="#28bef0" />
<rect x="93.99" y="233.10" width="1.35" height="11.00" fill="#0a6cb4" />
<rect x="95.37" y="233.10" width="0.78" height="11.00" fill="#1488d0" />
<rect x="97.58" y="233.10" width="0.62" height="11.00" fill="#0c78c2" />
<rect x="98.79" y="233.10" width="0.51" height="11.00" fill="#0a5c9c" />
<rect x="100.46" y="233.10" width="0.52" height="11.00" fill="#0a6cb4" />
<rect x="108.54" y="233.10" width="0.95" height="11.00" fill="#0a6cb4" />
<rect x="110.85" y="233.10" width="1.16" height="11.00" fill="#0860a4" />
<rect x="114.81" y="233.10" width="0.69" height="11.00" fill="#0a6cb4" />
<rect x="117.19" y="233.10" width="1.09" height="11.00" fill="#0a5c9c" />
<rect x="118.74" y="233.10" width="1.16" height="11.00" fill="#0a5c9c" />
<rect x="122.61" y="233.10" width="0.83" height="11.00" fill="#0a5c9c" />
<rect x="124.07" y="233.10" width="1.38" height="11.00" fill="#0a5c9c" />
<rect x="125.62" y="233.10" width="0.93" height="11.00" fill="#1488d0" />
<rect x="128.24" y="233.10" width="0.90" height="11.00" fill="#0c78c2" />
<rect x="129.53" y="233.10" width="0.66" height="11.00" fill="#0860a4" />
<rect x="132.32" y="233.10" width="0.97" height="11.00" fill="#0a5c9c" />
<rect x="133.51" y="233.10" width="0.59" height="11.00" fill="#0a6cb4" />
<rect x="135.70" y="233.10" width="1.35" height="11.00" fill="#0860a4" />
<rect x="140.31" y="233.10" width="0.80" height="11.00" fill="#0860a4" />
<rect x="145.48" y="233.10" width="0.99" height="11.00" fill="#1488d0" />
<rect x="147.98" y="233.10" width="0.73" height="11.00" fill="#0a6cb4" />
<rect x="150.55" y="233.10" width="0.61" height="11.00" fill="#1488d0" />
<rect x="151.68" y="233.10" width="0.99" height="11.00" fill="#0a5c9c" />
<rect x="152.87" y="233.10" width="0.84" height="11.00" fill="#1488d0" />
<rect x="160.72" y="233.10" width="0.55" height="11.00" fill="#1488d0" />
<rect x="162.22" y="233.10" width="0.65" height="11.00" fill="#0c78c2" />
<rect x="165.08" y="233.10" width="1.38" height="11.00" fill="#0a6cb4" />
<rect x="167.92" y="233.10" width="1.39" height="11.00" fill="#0a6cb4" />
<rect x="170.12" y="233.10" width="1.38" height="11.00" fill="#1488d0" />
<rect x="172.78" y="233.10" width="0.53" height="11.00" fill="#0860a4" />
<rect x="174.50" y="233.10" width="0.68" height="11.00" fill="#1488d0" />
<rect x="180.89" y="233.10" width="0.69" height="11.00" fill="#0a6cb4" />
<rect x="183.13" y="233.10" width="1.08" height="11.00" fill="#0a5c9c" />
<rect x="185.77" y="233.10" width="0.71" height="11.00" fill="#0a6cb4" />
<rect x="187.52" y="233.10" width="1.31" height="11.00" fill="#1488d0" />
<rect x="191.56" y="233.10" width="1.09" height="11.00" fill="#1488d0" />
<rect x="195.84" y="233.10" width="1.31" height="11.00" fill="#1488d0" />
<rect x="197.29" y="233.10" width="1.36" height="11.00" fill="#0c78c2" />
<rect x="200.15" y="233.10" width="0.88" height="11.00" fill="#0860a4" />
<rect x="203.84" y="233.10" width="1.00" height="11.00" fill="#0a5c9c" />
<rect x="204.94" y="233.10" width="0.76" height="11.00" fill="#0a6cb4" />
<rect x="207.59" y="233.10" width="0.80" height="11.00" fill="#0a5c9c" />
<rect x="210.87" y="233.10" width="0.89" height="11.00" fill="#0c78c2" />
<rect x="217.51" y="233.10" width="0.57" height="11.00" fill="#0a5c9c" />
<rect x="220.29" y="233.10" width="0.60" height="11.00" fill="#0a5c9c" />
<rect x="226.90" y="233.10" width="1.22" height="11.00" fill="#0860a4" />
<rect x="228.13" y="233.10" width="0.84" height="11.00" fill="#0c78c2" />
<rect x="231.60" y="233.10" width="0.86" height="11.00" fill="#0a6cb4" />
<rect x="232.82" y="233.10" width="0.90" height="11.00" fill="#1488d0" />
<rect x="239.60" y="233.10" width="0.88" height="11.00" fill="#0860a4" />
<rect x="241.72" y="233.10" width="1.12" height="11.00" fill="#0a5c9c" />
<rect x="245.27" y="233.10" width="0.66" height="11.00" fill="#0a5c9c" />
<rect x="246.60" y="233.10" width="1.31" height="11.00" fill="#0a6cb4" />
<rect x="248.40" y="233.10" width="0.56" height="11.00" fill="#1488d0" />
<rect x="249.85" y="233.10" width="0.52" height="11.00" fill="#1488d0" />
<rect x="252.13" y="233.10" width="0.76" height="11.00" fill="#0860a4" />
<rect x="253.89" y="233.10" width="1.22" height="11.00" fill="#0860a4" />
<rect x="261.22" y="233.10" width="0.81" height="11.00" fill="#1488d0" />
<rect x="262.11" y="233.10" width="1.30" height="11.00" fill="#1488d0" />
<rect x="266.08" y="233.10" width="1.30" height="11.00" fill="#0a5c9c" />
<rect x="268.00" y="233.10" width="0.58" height="11.00" fill="#0c78c2" />
<rect x="272.83" y="233.10" width="1.39" height="11.00" fill="#0c78c2" />
<rect x="275.54" y="233.10" width="0.60" height="11.00" fill="#1488d0" />
<rect x="284.85" y="233.10" width="0.75" height="11.00" fill="#1488d0" />
<rect x="285.61" y="233.10" width="0.53" height="11.00" fill="#0a6cb4" />
<rect x="286.69" y="233.10" width="1.38" height="11.00" fill="#1488d0" />
<rect x="288.15" y="233.10" width="1.23" height="11.00" fill="#0860a4" />
<rect x="289.81" y="233.10" width="1.01" height="11.00" fill="#0a5c9c" />
<rect x="294.27" y="233.10" width="0.58" height="11.00" fill="#0a5c9c" />
<rect x="295.81" y="233.10" width="1.11" height="11.00" fill="#0860a4" />
<rect x="152.80" y="233.10" width="0.80" height="11.00" fill="#e8e040" />
<polygon points="148,244.1 180,239.4 192,238.4 228,238.4 264,244.1" fill="#0a5890" opacity="0.62"/>
<line x1="196.8" y1="223" x2="196.8" y2="233.1" stroke="#f4a0a8" stroke-width="0.6"/>
<rect x="197.30" y="233.10" width="2.10" height="11.00" fill="#f07080" />
<line x1="199.2" y1="244.1" x2="199.2" y2="259.5" stroke="#f4a0a8" stroke-width="0.6"/>
<line x1="227.16" y1="244.10" x2="227.16" y2="259.00" stroke="#bcbcbc" stroke-width="0.5"/>
<line x1="270.21" y1="244.10" x2="270.21" y2="259.00" stroke="#bcbcbc" stroke-width="0.5"/>
<line x1="270.09" y1="244.10" x2="270.09" y2="259.00" stroke="#bcbcbc" stroke-width="0.5"/>
<line x1="286.78" y1="244.10" x2="286.78" y2="259.00" stroke="#bcbcbc" stroke-width="0.5"/>
<line x1="219.76" y1="244.10" x2="219.76" y2="259.00" stroke="#bcbcbc" stroke-width="0.5"/>
<line x1="224.29" y1="244.10" x2="224.29" y2="259.00" stroke="#bcbcbc" stroke-width="0.5"/>
<line x1="215.86" y1="244.10" x2="215.86" y2="259.00" stroke="#bcbcbc" stroke-width="0.5"/>
<line x1="223.74" y1="244.10" x2="223.74" y2="259.00" stroke="#bcbcbc" stroke-width="0.5"/>
<line x1="275.14" y1="244.10" x2="275.14" y2="259.00" stroke="#bcbcbc" stroke-width="0.5"/>
<line x1="214.15" y1="244.10" x2="214.15" y2="259.00" stroke="#bcbcbc" stroke-width="0.5"/>
<line x1="254.66" y1="244.10" x2="254.66" y2="259.00" stroke="#bcbcbc" stroke-width="0.5"/>
<line x1="222.60" y1="244.10" x2="222.60" y2="259.00" stroke="#bcbcbc" stroke-width="0.5"/>
<line x1="230.76" y1="244.10" x2="230.76" y2="259.00" stroke="#bcbcbc" stroke-width="0.5"/>
<line x1="244.59" y1="244.10" x2="244.59" y2="259.00" stroke="#bcbcbc" stroke-width="0.5"/>
<line x1="285.60" y1="244.10" x2="285.60" y2="259.00" stroke="#bcbcbc" stroke-width="0.5"/>
<line x1="262.45" y1="244.10" x2="262.45" y2="259.00" stroke="#bcbcbc" stroke-width="0.5"/>
<line x1="202.46" y1="244.10" x2="202.46" y2="259.00" stroke="#bcbcbc" stroke-width="0.5"/>
<line x1="228.86" y1="244.10" x2="228.86" y2="259.00" stroke="#bcbcbc" stroke-width="0.5"/>
<line x1="215.82" y1="244.10" x2="215.82" y2="259.00" stroke="#bcbcbc" stroke-width="0.5"/>
<line x1="289.00" y1="244.10" x2="289.00" y2="259.00" stroke="#bcbcbc" stroke-width="0.5"/>
<line x1="282.78" y1="244.10" x2="282.78" y2="259.00" stroke="#bcbcbc" stroke-width="0.5"/>
<line x1="282.41" y1="244.10" x2="282.41" y2="259.00" stroke="#bcbcbc" stroke-width="0.5"/>
<line x1="284.46" y1="244.10" x2="284.46" y2="259.00" stroke="#bcbcbc" stroke-width="0.5"/>
<line x1="276.22" y1="244.10" x2="276.22" y2="259.00" stroke="#bcbcbc" stroke-width="0.5"/>
<line x1="296.88" y1="244.10" x2="296.88" y2="259.00" stroke="#bcbcbc" stroke-width="0.5"/>
<line x1="281.17" y1="244.10" x2="281.17" y2="259.00" stroke="#bcbcbc" stroke-width="0.5"/>
<line x1="226.93" y1="244.10" x2="226.93" y2="259.00" stroke="#bcbcbc" stroke-width="0.5"/>
<line x1="286.84" y1="244.10" x2="286.84" y2="259.00" stroke="#bcbcbc" stroke-width="0.5"/>
<line x1="250.17" y1="244.10" x2="250.17" y2="259.00" stroke="#bcbcbc" stroke-width="0.5"/>
<line x1="277.26" y1="244.10" x2="277.26" y2="259.00" stroke="#bcbcbc" stroke-width="0.5"/>
<line x1="257.98" y1="244.10" x2="257.98" y2="259.00" stroke="#bcbcbc" stroke-width="0.5"/>
<line x1="244.39" y1="244.10" x2="244.39" y2="259.00" stroke="#bcbcbc" stroke-width="0.5"/>
<line x1="237.78" y1="244.10" x2="237.78" y2="259.00" stroke="#bcbcbc" stroke-width="0.5"/>
<line x1="244.41" y1="244.10" x2="244.41" y2="259.00" stroke="#bcbcbc" stroke-width="0.5"/>
<line x1="232.69" y1="244.10" x2="232.69" y2="259.00" stroke="#bcbcbc" stroke-width="0.5"/>
<line x1="212.85" y1="244.10" x2="212.85" y2="259.00" stroke="#bcbcbc" stroke-width="0.5"/>
<line x1="283.78" y1="244.10" x2="283.78" y2="259.00" stroke="#bcbcbc" stroke-width="0.5"/>
<line x1="281.62" y1="244.10" x2="281.62" y2="259.00" stroke="#bcbcbc" stroke-width="0.5"/>
<line x1="300.55" y1="244.10" x2="300.55" y2="259.00" stroke="#bcbcbc" stroke-width="0.5"/>
<line x1="270.78" y1="244.10" x2="270.78" y2="259.00" stroke="#bcbcbc" stroke-width="0.5"/>
<line x1="256.98" y1="244.10" x2="256.98" y2="259.00" stroke="#bcbcbc" stroke-width="0.5"/>
<line x1="276.59" y1="244.10" x2="276.59" y2="259.00" stroke="#bcbcbc" stroke-width="0.5"/>
<line x1="214.62" y1="244.10" x2="214.62" y2="259.00" stroke="#bcbcbc" stroke-width="0.5"/>
<line x1="269.36" y1="244.10" x2="269.36" y2="259.00" stroke="#bcbcbc" stroke-width="0.5"/>
<line x1="245.78" y1="244.10" x2="245.78" y2="259.00" stroke="#bcbcbc" stroke-width="0.5"/>
<line x1="218.84" y1="244.10" x2="218.84" y2="259.00" stroke="#bcbcbc" stroke-width="0.5"/>
<rect x="63.00" y="272.00" width="2.66" height="11.00" fill="#8bc53d" />
<rect x="65.61" y="272.00" width="2.07" height="11.00" fill="#84c23f" />
<rect x="67.62" y="272.00" width="2.46" height="11.00" fill="#9fcc38" />
<rect x="70.03" y="272.00" width="2.23" height="11.00" fill="#6fba48" />
<rect x="72.21" y="272.00" width="1.74" height="11.00" fill="#a1cd38" />
<rect x="73.90" y="272.00" width="2.73" height="11.00" fill="#5cb154" />
<rect x="76.58" y="272.00" width="1.38" height="11.00" fill="#e8e32c" />
<rect x="77.91" y="272.00" width="1.20" height="11.00" fill="#d4de2f" />
<rect x="79.07" y="272.00" width="2.53" height="11.00" fill="#7ec040" />
<rect x="81.54" y="272.00" width="1.33" height="11.00" fill="#f5e62a" />
<rect x="82.83" y="272.00" width="2.84" height="11.00" fill="#7dc040" />
<rect x="85.62" y="272.00" width="2.66" height="11.00" fill="#8fc63b" />
<rect x="88.24" y="272.00" width="1.23" height="11.00" fill="#7ec040" />
<rect x="89.42" y="272.00" width="1.87" height="11.00" fill="#92c73b" />
<rect x="91.24" y="272.00" width="0.83" height="11.00" fill="#f5e62a" />
<rect x="92.02" y="272.00" width="1.10" height="11.00" fill="#7fc140" />
<rect x="93.07" y="272.00" width="1.64" height="11.00" fill="#8bc53d" />
<rect x="94.66" y="272.00" width="1.11" height="11.00" fill="#86c33e" />
<rect x="95.72" y="272.00" width="2.68" height="11.00" fill="#98c939" />
<rect x="98.34" y="272.00" width="3.04" height="11.00" fill="#a3ce37" />
<rect x="101.33" y="272.00" width="2.00" height="11.00" fill="#8dc53c" />
<rect x="103.29" y="272.00" width="2.89" height="11.00" fill="#8fc63b" />
<rect x="106.12" y="272.00" width="1.78" height="11.00" fill="#83c23f" />
<rect x="107.85" y="272.00" width="1.18" height="11.00" fill="#eae32c" />
<rect x="108.97" y="272.00" width="1.34" height="11.00" fill="#9bcb39" />
<rect x="110.27" y="272.00" width="2.14" height="11.00" fill="#8cc53c" />
<rect x="112.36" y="272.00" width="1.07" height="11.00" fill="#e2e12d" />
<rect x="113.38" y="272.00" width="2.16" height="11.00" fill="#85c23e" />
<rect x="115.49" y="272.00" width="1.50" height="11.00" fill="#9dcb38" />
<rect x="116.94" y="272.00" width="1.17" height="11.00" fill="#8bc53c" />
<rect x="118.06" y="272.00" width="1.10" height="11.00" fill="#96c93a" />
<rect x="119.11" y="272.00" width="2.96" height="11.00" fill="#7bbf41" />
<rect x="122.02" y="272.00" width="1.30" height="11.00" fill="#f4e62a" />
<rect x="123.27" y="272.00" width="1.95" height="11.00" fill="#92c73b" />
<rect x="125.17" y="272.00" width="2.32" height="11.00" fill="#88c43e" />
<rect x="127.44" y="272.00" width="1.90" height="11.00" fill="#70ba47" />
<rect x="129.29" y="272.00" width="1.35" height="11.00" fill="#e5e22c" />
<rect x="130.60" y="272.00" width="2.56" height="11.00" fill="#8dc53c" />
<rect x="133.10" y="272.00" width="1.55" height="11.00" fill="#7dc041" />
<rect x="134.61" y="272.00" width="2.29" height="11.00" fill="#8dc53c" />
<rect x="136.85" y="272.00" width="2.48" height="11.00" fill="#8fc63b" />
<rect x="139.28" y="272.00" width="2.18" height="11.00" fill="#88c43e" />
<rect x="141.41" y="272.00" width="0.84" height="11.00" fill="#d1dd2f" />
<rect x="142.21" y="272.00" width="0.97" height="11.00" fill="#71ba47" />
<rect x="143.13" y="272.00" width="1.45" height="11.00" fill="#86c33e" />
<rect x="144.53" y="272.00" width="2.51" height="11.00" fill="#81c13f" />
<rect x="146.99" y="272.00" width="1.09" height="11.00" fill="#e1e12d" />
<rect x="148.03" y="272.00" width="2.57" height="11.00" fill="#85c33e" />
<rect x="150.55" y="272.00" width="1.31" height="11.00" fill="#e1e12d" />
<rect x="151.81" y="272.00" width="2.15" height="11.00" fill="#8cc53c" />
<rect x="153.91" y="272.00" width="1.31" height="11.00" fill="#f0e52b" />
<rect x="155.17" y="272.00" width="1.09" height="11.00" fill="#8ec63c" />
<rect x="156.21" y="272.00" width="2.20" height="11.00" fill="#94c83a" />
<rect x="158.36" y="272.00" width="2.54" height="11.00" fill="#9aca39" />
<rect x="160.85" y="272.00" width="1.22" height="11.00" fill="#d9df2e" />
<rect x="162.02" y="272.00" width="1.12" height="11.00" fill="#f5e62a" />
<rect x="163.09" y="272.00" width="2.71" height="11.00" fill="#7dc041" />
<rect x="165.75" y="272.00" width="1.02" height="11.00" fill="#62b351" />
<rect x="166.72" y="272.00" width="2.09" height="11.00" fill="#7abf41" />
<rect x="168.76" y="272.00" width="2.29" height="11.00" fill="#7bbf41" />
<rect x="171.00" y="272.00" width="2.65" height="11.00" fill="#abd036" />
<rect x="173.61" y="272.00" width="2.60" height="11.00" fill="#87c33e" />
<rect x="176.16" y="272.00" width="1.00" height="11.00" fill="#89c43d" />
<rect x="177.10" y="272.00" width="1.31" height="11.00" fill="#84c23f" />
<rect x="178.36" y="272.00" width="1.20" height="11.00" fill="#81c13f" />
<rect x="179.52" y="272.00" width="1.05" height="11.00" fill="#7dc041" />
<rect x="180.52" y="272.00" width="0.87" height="11.00" fill="#7fc140" />
<rect x="181.34" y="272.00" width="1.40" height="11.00" fill="#f5e62a" />
<rect x="182.69" y="272.00" width="2.58" height="11.00" fill="#78be42" />
<rect x="185.21" y="272.00" width="1.14" height="11.00" fill="#7dc041" />
<rect x="186.31" y="272.00" width="0.72" height="11.00" fill="#f5e62a" />
<rect x="186.98" y="272.00" width="2.35" height="11.00" fill="#81c13f" />
<rect x="189.28" y="272.00" width="1.96" height="11.00" fill="#86c33e" />
<rect x="191.19" y="272.00" width="2.34" height="11.00" fill="#82c23f" />
<rect x="193.48" y="272.00" width="1.09" height="11.00" fill="#e5e22c" />
<rect x="194.52" y="272.00" width="1.13" height="11.00" fill="#e4e22c" />
<rect x="195.60" y="272.00" width="2.88" height="11.00" fill="#88c43e" />
<rect x="198.43" y="272.00" width="1.07" height="11.00" fill="#7ec040" />
<rect x="199.45" y="272.00" width="2.81" height="11.00" fill="#83c23f" />
<rect x="202.21" y="272.00" width="2.35" height="11.00" fill="#85c33e" />
<rect x="204.51" y="272.00" width="0.80" height="11.00" fill="#309476" />
<rect x="205.26" y="272.00" width="1.25" height="11.00" fill="#207e8f" />
<rect x="206.46" y="272.00" width="1.51" height="11.00" fill="#76bd43" />
<rect x="207.92" y="272.00" width="1.95" height="11.00" fill="#8bc53d" />
<rect x="209.82" y="272.00" width="2.43" height="11.00" fill="#70ba47" />
<rect x="212.20" y="272.00" width="1.35" height="11.00" fill="#70ba47" />
<rect x="213.51" y="272.00" width="1.87" height="11.00" fill="#74bc45" />
<rect x="215.32" y="272.00" width="0.86" height="11.00" fill="#379970" />
<rect x="216.13" y="272.00" width="0.93" height="11.00" fill="#6eb949" />
<rect x="217.01" y="272.00" width="1.50" height="11.00" fill="#298a81" />
<rect x="218.46" y="272.00" width="1.41" height="11.00" fill="#1e719b" />
<rect x="219.81" y="272.00" width="2.34" height="11.00" fill="#80c140" />
<rect x="222.10" y="272.00" width="1.25" height="11.00" fill="#2f9377" />
<rect x="223.30" y="272.00" width="1.31" height="11.00" fill="#23828b" />
<rect x="224.56" y="272.00" width="0.80" height="11.00" fill="#258587" />
<rect x="225.31" y="272.00" width="2.78" height="11.00" fill="#6bb84a" />
<rect x="228.04" y="272.00" width="0.87" height="11.00" fill="#288983" />
<rect x="228.86" y="272.00" width="1.27" height="11.00" fill="#268785" />
<rect x="230.08" y="272.00" width="1.75" height="11.00" fill="#70ba47" />
<rect x="231.78" y="272.00" width="1.25" height="11.00" fill="#2c907b" />
<rect x="232.98" y="272.00" width="1.15" height="11.00" fill="#258687" />
<rect x="234.08" y="272.00" width="2.88" height="11.00" fill="#85c23e" />
<rect x="236.91" y="272.00" width="0.66" height="11.00" fill="#288983" />
<rect x="237.52" y="272.00" width="1.27" height="11.00" fill="#81c13f" />
<rect x="238.74" y="272.00" width="1.00" height="11.00" fill="#2a8c7f" />
<rect x="239.69" y="272.00" width="1.72" height="11.00" fill="#8dc63c" />
<rect x="241.36" y="272.00" width="0.84" height="11.00" fill="#2c8e7c" />
<rect x="242.15" y="272.00" width="1.23" height="11.00" fill="#288a82" />
<rect x="243.33" y="272.00" width="0.90" height="11.00" fill="#248489" />
<rect x="244.18" y="272.00" width="2.33" height="11.00" fill="#61b351" />
<rect x="246.46" y="272.00" width="0.69" height="11.00" fill="#1d69a0" />
<rect x="247.09" y="272.00" width="0.75" height="11.00" fill="#3a9b6e" />
<rect x="247.79" y="272.00" width="1.54" height="11.00" fill="#2b8e7d" />
<rect x="249.28" y="272.00" width="0.90" height="11.00" fill="#1e729a" />
<rect x="250.12" y="272.00" width="1.44" height="11.00" fill="#1e719a" />
<rect x="251.52" y="272.00" width="1.85" height="11.00" fill="#83c23f" />
<rect x="253.31" y="272.00" width="2.37" height="11.00" fill="#7bbf41" />
<rect x="255.64" y="272.00" width="1.14" height="11.00" fill="#22818c" />
<rect x="256.72" y="272.00" width="2.49" height="11.00" fill="#78be42" />
<rect x="259.16" y="272.00" width="2.53" height="11.00" fill="#74bc45" />
<rect x="261.64" y="272.00" width="0.98" height="11.00" fill="#2d907a" />
<rect x="262.58" y="272.00" width="1.99" height="11.00" fill="#62b351" />
<rect x="264.52" y="272.00" width="1.31" height="11.00" fill="#72bb46" />
<rect x="265.78" y="272.00" width="2.73" height="11.00" fill="#7cc041" />
<rect x="268.46" y="272.00" width="1.55" height="11.00" fill="#6fba48" />
<rect x="269.95" y="272.00" width="0.85" height="11.00" fill="#2b8d7e" />
<rect x="270.76" y="272.00" width="1.12" height="11.00" fill="#1f7994" />
<rect x="271.83" y="272.00" width="2.22" height="11.00" fill="#5cb154" />
<rect x="274.00" y="272.00" width="1.36" height="11.00" fill="#63b450" />
<rect x="275.31" y="272.00" width="1.05" height="11.00" fill="#2b8e7d" />
<rect x="276.31" y="272.00" width="0.94" height="11.00" fill="#3b9c6d" />
<rect x="277.20" y="272.00" width="0.74" height="11.00" fill="#2b8e7d" />
<rect x="277.89" y="272.00" width="1.52" height="11.00" fill="#23828a" />
<rect x="279.37" y="272.00" width="0.97" height="11.00" fill="#1f7994" />
<rect x="280.28" y="272.00" width="3.01" height="11.00" fill="#65b54f" />
<rect x="283.24" y="272.00" width="1.00" height="11.00" fill="#1d6f9c" />
<rect x="284.20" y="272.00" width="2.63" height="11.00" fill="#61b351" />
<rect x="286.78" y="272.00" width="1.27" height="11.00" fill="#75bd44" />
<rect x="288.00" y="272.00" width="1.35" height="11.00" fill="#87c33e" />
<rect x="289.30" y="272.00" width="1.08" height="11.00" fill="#2f9377" />
<rect x="290.33" y="272.00" width="3.01" height="11.00" fill="#79be42" />
<rect x="293.29" y="272.00" width="1.06" height="11.00" fill="#1c62a6" />
<rect x="294.30" y="272.00" width="1.23" height="11.00" fill="#60b352" />
<rect x="295.48" y="272.00" width="1.93" height="11.00" fill="#74bc45" />
<rect x="297.36" y="272.00" width="2.67" height="11.00" fill="#89c43d" />
<rect x="299.98" y="272.00" width="1.16" height="11.00" fill="#1e7597" />
<rect x="301.09" y="272.00" width="1.36" height="11.00" fill="#c8db31" />
<rect x="302.40" y="272.00" width="2.83" height="11.00" fill="#b6d434" />
<rect x="305.18" y="272.00" width="1.24" height="11.00" fill="#f3e62a" />
<rect x="306.36" y="272.00" width="1.41" height="11.00" fill="#c5da31" />
<rect x="307.73" y="272.00" width="2.48" height="11.00" fill="#86c33e" />
<rect x="310.15" y="272.00" width="1.03" height="11.00" fill="#a3ce37" />
<rect x="311.14" y="272.00" width="0.68" height="11.00" fill="#d1dd2f" />
<rect x="311.77" y="272.00" width="0.94" height="11.00" fill="#dce02e" />
<rect x="312.66" y="272.00" width="1.99" height="11.00" fill="#a8cf36" />
<rect x="314.60" y="272.00" width="1.01" height="11.00" fill="#e2e12d" />
<rect x="315.56" y="272.00" width="0.99" height="11.00" fill="#e3e22d" />
<line x1="67.00" y1="270.70" x2="67.00" y2="272.00" stroke="#555" stroke-width="0.5"/>
<line x1="71.24" y1="270.70" x2="71.24" y2="272.00" stroke="#555" stroke-width="0.5"/>
<line x1="75.48" y1="270.70" x2="75.48" y2="272.00" stroke="#555" stroke-width="0.5"/>
<line x1="79.72" y1="270.70" x2="79.72" y2="272.00" stroke="#555" stroke-width="0.5"/>
<line x1="83.96" y1="270.70" x2="83.96" y2="272.00" stroke="#555" stroke-width="0.5"/>
<line x1="88.20" y1="270.70" x2="88.20" y2="272.00" stroke="#555" stroke-width="0.5"/>
<line x1="92.44" y1="270.70" x2="92.44" y2="272.00" stroke="#555" stroke-width="0.5"/>
<line x1="96.68" y1="270.70" x2="96.68" y2="272.00" stroke="#555" stroke-width="0.5"/>
<line x1="100.92" y1="270.70" x2="100.92" y2="272.00" stroke="#555" stroke-width="0.5"/>
<line x1="105.16" y1="270.70" x2="105.16" y2="272.00" stroke="#555" stroke-width="0.5"/>
<line x1="109.40" y1="270.70" x2="109.40" y2="272.00" stroke="#555" stroke-width="0.5"/>
<line x1="113.64" y1="270.70" x2="113.64" y2="272.00" stroke="#555" stroke-width="0.5"/>
<line x1="117.88" y1="270.70" x2="117.88" y2="272.00" stroke="#555" stroke-width="0.5"/>
<line x1="122.12" y1="270.70" x2="122.12" y2="272.00" stroke="#555" stroke-width="0.5"/>
<line x1="126.36" y1="270.70" x2="126.36" y2="272.00" stroke="#555" stroke-width="0.5"/>
<line x1="130.60" y1="270.70" x2="130.60" y2="272.00" stroke="#555" stroke-width="0.5"/>
<line x1="134.84" y1="270.70" x2="134.84" y2="272.00" stroke="#555" stroke-width="0.5"/>
<line x1="139.08" y1="270.70" x2="139.08" y2="272.00" stroke="#555" stroke-width="0.5"/>
<line x1="143.32" y1="270.70" x2="143.32" y2="272.00" stroke="#555" stroke-width="0.5"/>
<line x1="147.56" y1="270.70" x2="147.56" y2="272.00" stroke="#555" stroke-width="0.5"/>
<line x1="151.80" y1="270.70" x2="151.80" y2="272.00" stroke="#555" stroke-width="0.5"/>
<line x1="156.04" y1="270.70" x2="156.04" y2="272.00" stroke="#555" stroke-width="0.5"/>
<line x1="160.28" y1="270.70" x2="160.28" y2="272.00" stroke="#555" stroke-width="0.5"/>
<line x1="164.52" y1="270.70" x2="164.52" y2="272.00" stroke="#555" stroke-width="0.5"/>
<line x1="168.76" y1="270.70" x2="168.76" y2="272.00" stroke="#555" stroke-width="0.5"/>
<line x1="173.00" y1="270.70" x2="173.00" y2="272.00" stroke="#555" stroke-width="0.5"/>
<line x1="177.24" y1="270.70" x2="177.24" y2="272.00" stroke="#555" stroke-width="0.5"/>
<line x1="181.48" y1="270.70" x2="181.48" y2="272.00" stroke="#555" stroke-width="0.5"/>
<line x1="185.72" y1="270.70" x2="185.72" y2="272.00" stroke="#555" stroke-width="0.5"/>
<line x1="189.96" y1="270.70" x2="189.96" y2="272.00" stroke="#555" stroke-width="0.5"/>
<line x1="194.20" y1="270.70" x2="194.20" y2="272.00" stroke="#555" stroke-width="0.5"/>
<line x1="198.44" y1="270.70" x2="198.44" y2="272.00" stroke="#555" stroke-width="0.5"/>
<line x1="202.68" y1="270.70" x2="202.68" y2="272.00" stroke="#555" stroke-width="0.5"/>
<line x1="206.92" y1="270.70" x2="206.92" y2="272.00" stroke="#555" stroke-width="0.5"/>
<line x1="211.16" y1="270.70" x2="211.16" y2="272.00" stroke="#555" stroke-width="0.5"/>
<line x1="215.40" y1="270.70" x2="215.40" y2="272.00" stroke="#555" stroke-width="0.5"/>
<line x1="219.64" y1="270.70" x2="219.64" y2="272.00" stroke="#555" stroke-width="0.5"/>
<line x1="223.88" y1="270.70" x2="223.88" y2="272.00" stroke="#555" stroke-width="0.5"/>
<line x1="228.12" y1="270.70" x2="228.12" y2="272.00" stroke="#555" stroke-width="0.5"/>
<line x1="232.36" y1="270.70" x2="232.36" y2="272.00" stroke="#555" stroke-width="0.5"/>
<line x1="236.60" y1="270.70" x2="236.60" y2="272.00" stroke="#555" stroke-width="0.5"/>
<line x1="240.84" y1="270.70" x2="240.84" y2="272.00" stroke="#555" stroke-width="0.5"/>
<line x1="245.08" y1="270.70" x2="245.08" y2="272.00" stroke="#555" stroke-width="0.5"/>
<line x1="249.32" y1="270.70" x2="249.32" y2="272.00" stroke="#555" stroke-width="0.5"/>
<line x1="253.56" y1="270.70" x2="253.56" y2="272.00" stroke="#555" stroke-width="0.5"/>
<line x1="257.80" y1="270.70" x2="257.80" y2="272.00" stroke="#555" stroke-width="0.5"/>
<line x1="262.04" y1="270.70" x2="262.04" y2="272.00" stroke="#555" stroke-width="0.5"/>
<line x1="266.28" y1="270.70" x2="266.28" y2="272.00" stroke="#555" stroke-width="0.5"/>
<line x1="270.52" y1="270.70" x2="270.52" y2="272.00" stroke="#555" stroke-width="0.5"/>
<line x1="274.76" y1="270.70" x2="274.76" y2="272.00" stroke="#555" stroke-width="0.5"/>
<line x1="279.00" y1="270.70" x2="279.00" y2="272.00" stroke="#555" stroke-width="0.5"/>
<line x1="283.24" y1="270.70" x2="283.24" y2="272.00" stroke="#555" stroke-width="0.5"/>
<line x1="287.48" y1="270.70" x2="287.48" y2="272.00" stroke="#555" stroke-width="0.5"/>
<line x1="291.72" y1="270.70" x2="291.72" y2="272.00" stroke="#555" stroke-width="0.5"/>
<line x1="295.96" y1="270.70" x2="295.96" y2="272.00" stroke="#555" stroke-width="0.5"/>
<line x1="300.20" y1="270.70" x2="300.20" y2="272.00" stroke="#555" stroke-width="0.5"/>
<line x1="304.44" y1="270.70" x2="304.44" y2="272.00" stroke="#555" stroke-width="0.5"/>
<line x1="308.68" y1="270.70" x2="308.68" y2="272.00" stroke="#555" stroke-width="0.5"/>
<line x1="312.92" y1="270.70" x2="312.92" y2="272.00" stroke="#555" stroke-width="0.5"/>
<line x1="67.00" y1="268.80" x2="67.00" y2="272.00" stroke="#555" stroke-width="0.5"/>
<text x="67.30" y="268.60" font-size="3.8" fill="#2a2a2a" stroke="#2a2a2a" stroke-width="0.12" font-family="Liberation Sans, Arial, sans-serif" transform="rotate(-30 67.30 268.60)">38.15 M</text>
<line x1="88.20" y1="268.80" x2="88.20" y2="272.00" stroke="#555" stroke-width="0.5"/>
<text x="88.50" y="268.60" font-size="3.8" fill="#2a2a2a" stroke="#2a2a2a" stroke-width="0.12" font-family="Liberation Sans, Arial, sans-serif" transform="rotate(-30 88.50 268.60)">38.2 M</text>
<line x1="109.40" y1="268.80" x2="109.40" y2="272.00" stroke="#555" stroke-width="0.5"/>
<text x="109.70" y="268.60" font-size="3.8" fill="#2a2a2a" stroke="#2a2a2a" stroke-width="0.12" font-family="Liberation Sans, Arial, sans-serif" transform="rotate(-30 109.70 268.60)">38.25 M</text>
<line x1="130.60" y1="268.80" x2="130.60" y2="272.00" stroke="#555" stroke-width="0.5"/>
<text x="130.90" y="268.60" font-size="3.8" fill="#2a2a2a" stroke="#2a2a2a" stroke-width="0.12" font-family="Liberation Sans, Arial, sans-serif" transform="rotate(-30 130.90 268.60)">38.3 M</text>
<line x1="151.80" y1="268.80" x2="151.80" y2="272.00" stroke="#555" stroke-width="0.5"/>
<text x="152.10" y="268.60" font-size="3.8" fill="#2a2a2a" stroke="#2a2a2a" stroke-width="0.12" font-family="Liberation Sans, Arial, sans-serif" transform="rotate(-30 152.10 268.60)">38.35 M</text>
<line x1="173.00" y1="268.80" x2="173.00" y2="272.00" stroke="#555" stroke-width="0.5"/>
<text x="173.30" y="268.60" font-size="3.8" fill="#2a2a2a" stroke="#2a2a2a" stroke-width="0.12" font-family="Liberation Sans, Arial, sans-serif" transform="rotate(-30 173.30 268.60)">38.4 M</text>
<line x1="194.20" y1="268.80" x2="194.20" y2="272.00" stroke="#555" stroke-width="0.5"/>
<text x="194.50" y="268.60" font-size="3.8" fill="#2a2a2a" stroke="#2a2a2a" stroke-width="0.12" font-family="Liberation Sans, Arial, sans-serif" transform="rotate(-30 194.50 268.60)">38.45 M</text>
<line x1="215.40" y1="268.80" x2="215.40" y2="272.00" stroke="#555" stroke-width="0.5"/>
<text x="215.70" y="268.60" font-size="3.8" fill="#2a2a2a" stroke="#2a2a2a" stroke-width="0.12" font-family="Liberation Sans, Arial, sans-serif" transform="rotate(-30 215.70 268.60)">38.5 M</text>
<line x1="236.60" y1="268.80" x2="236.60" y2="272.00" stroke="#555" stroke-width="0.5"/>
<text x="236.90" y="268.60" font-size="3.8" fill="#2a2a2a" stroke="#2a2a2a" stroke-width="0.12" font-family="Liberation Sans, Arial, sans-serif" transform="rotate(-30 236.90 268.60)">38.55 M</text>
<line x1="257.80" y1="268.80" x2="257.80" y2="272.00" stroke="#555" stroke-width="0.5"/>
<text x="258.10" y="268.60" font-size="3.8" fill="#2a2a2a" stroke="#2a2a2a" stroke-width="0.12" font-family="Liberation Sans, Arial, sans-serif" transform="rotate(-30 258.10 268.60)">38.6 M</text>
<line x1="279.00" y1="268.80" x2="279.00" y2="272.00" stroke="#555" stroke-width="0.5"/>
<text x="279.30" y="268.60" font-size="3.8" fill="#2a2a2a" stroke="#2a2a2a" stroke-width="0.12" font-family="Liberation Sans, Arial, sans-serif" transform="rotate(-30 279.30 268.60)">38.65 M</text>
<line x1="300.20" y1="268.80" x2="300.20" y2="272.00" stroke="#555" stroke-width="0.5"/>
<text x="300.50" y="268.60" font-size="3.8" fill="#2a2a2a" stroke="#2a2a2a" stroke-width="0.12" font-family="Liberation Sans, Arial, sans-serif" transform="rotate(-30 300.50 268.60)">38.7 M</text>
<rect x="64.00" y="292.00" width="3.60" height="10.40" fill="#5a5af0" />
<rect x="67.60" y="292.00" width="5.40" height="10.40" fill="#c060c8" />
<rect x="73.00" y="292.00" width="6.00" height="10.40" fill="#dcdcdc" />
<rect x="79.00" y="292.00" width="15.00" height="10.40" fill="#c86464" />
<rect x="89.00" y="292.00" width="1.20" height="10.40" fill="#30a030" />
<rect x="98.60" y="292.00" width="3.40" height="10.40" fill="#c86464" />
<rect x="102.00" y="292.00" width="13.00" height="10.40" fill="#3cb46e" />
<rect x="115.00" y="292.00" width="3.00" height="10.40" fill="#ff66ee" />
<rect x="118.00" y="292.00" width="48.00" height="10.40" fill="#00ffff" />
<rect x="146.40" y="292.00" width="0.60" height="10.40" fill="#30d060" />
<rect x="167.60" y="292.00" width="9.40" height="10.40" fill="#22f060" />
<rect x="177.60" y="292.00" width="24.40" height="10.40" fill="#c0c0c0" />
<rect x="182.60" y="292.00" width="0.90" height="10.40" fill="#30c850" />
<rect x="187.90" y="292.00" width="0.70" height="10.40" fill="#98c898" />
<text x="189.80" y="299.80" font-size="7.1" text-anchor="middle" font-weight="bold" fill="#111" font-family='"Liberation Sans", Arial, sans-serif'  stroke="#111" stroke-width="0.28">FGFR1</text>
<rect x="220.00" y="292.00" width="7.60" height="10.40" fill="#ff66ee" />
<rect x="234.00" y="292.00" width="4.20" height="10.40" fill="#3aa8b0" />
<line x1="258" y1="292" x2="258" y2="302.4" stroke="#e0e0e0" stroke-width="0.5"/>
<rect x="300.40" y="292.00" width="1.40" height="10.40" fill="#00e8f0" />
<polygon points="194.70,306.20 188.90,306.20 188.90,304.35 183.80,308.80 188.90,313.25 188.90,311.40 194.70,311.40" fill="none" stroke="#333" stroke-width="0.75" stroke-linejoin="miter"/>
<path d="M442.67,35.21 A84.2,84.2 0 0 1 478.55,42.75 L476.07,48.21 A78.2,78.2 0 0 0 442.74,41.21 Z" fill="#ececec" />
<path d="M442.67,35.21 A84.2,84.2 0 0 1 443.72,35.20 L443.72,41.20 A78.2,78.2 0 0 0 442.74,41.21 Z" fill="#ffffff" />
<path d="M443.88,35.20 A84.2,84.2 0 0 1 444.67,35.21 L444.60,41.21 A78.2,78.2 0 0 0 443.87,41.20 Z" fill="#7a7a7a" />
<path d="M444.89,35.21 A84.2,84.2 0 0 1 445.90,35.23 L445.75,41.23 A78.2,78.2 0 0 0 444.80,41.21 Z" fill="#7a7a7a" />
<path d="M446.38,35.24 A84.2,84.2 0 0 1 448.33,35.33 L448.00,41.32 A78.2,78.2 0 0 0 446.19,41.24 Z" fill="#dedede" />
<path d="M448.70,35.35 A84.2,84.2 0 0 1 450.10,35.44 L449.64,41.43 A78.2,78.2 0 0 0 448.34,41.34 Z" fill="#ffffff" />
<path d="M450.89,35.51 A84.2,84.2 0 0 1 451.89,35.60 L451.30,41.57 A78.2,78.2 0 0 0 450.38,41.49 Z" fill="#dedede" />
<path d="M452.49,35.66 A84.2,84.2 0 0 1 453.11,35.73 L452.44,41.69 A78.2,78.2 0 0 0 451.86,41.63 Z" fill="#b4b4b4" />
<path d="M453.85,35.81 A84.2,84.2 0 0 1 454.78,35.93 L453.99,41.88 A78.2,78.2 0 0 0 453.13,41.77 Z" fill="#1c1c1c" />
<path d="M455.25,36.00 A84.2,84.2 0 0 1 456.90,36.24 L455.96,42.17 A78.2,78.2 0 0 0 454.42,41.94 Z" fill="#dedede" />
<path d="M457.26,36.30 A84.2,84.2 0 0 1 458.07,36.43 L457.04,42.35 A78.2,78.2 0 0 0 456.29,42.22 Z" fill="#ffffff" />
<path d="M458.24,36.47 A84.2,84.2 0 0 1 460.25,36.84 L459.07,42.73 A78.2,78.2 0 0 0 457.21,42.38 Z" fill="#dedede" />
<path d="M460.65,36.92 A84.2,84.2 0 0 1 462.49,37.32 L461.15,43.17 A78.2,78.2 0 0 0 459.44,42.80 Z" fill="#b4b4b4" />
<path d="M463.33,37.52 A84.2,84.2 0 0 1 464.27,37.75 L462.81,43.57 A78.2,78.2 0 0 0 461.93,43.36 Z" fill="#ffffff" />
<path d="M465.06,37.95 A84.2,84.2 0 0 1 465.68,38.12 L464.11,43.91 A78.2,78.2 0 0 0 463.54,43.76 Z" fill="#1c1c1c" />
<path d="M466.19,38.26 A84.2,84.2 0 0 1 468.13,38.82 L466.39,44.56 A78.2,78.2 0 0 0 464.58,44.04 Z" fill="#1c1c1c" />
<path d="M468.69,38.99 A84.2,84.2 0 0 1 469.10,39.12 L467.29,44.84 A78.2,78.2 0 0 0 466.91,44.72 Z" fill="#ffffff" />
<path d="M469.50,39.25 A84.2,84.2 0 0 1 471.16,39.80 L469.20,45.48 A78.2,78.2 0 0 0 467.66,44.96 Z" fill="#ffffff" />
<path d="M471.52,39.93 A84.2,84.2 0 0 1 472.00,40.10 L469.98,45.75 A78.2,78.2 0 0 0 469.53,45.59 Z" fill="#dedede" />
<path d="M472.00,40.10 A84.2,84.2 0 0 1 472.87,40.42 L470.79,46.04 A78.2,78.2 0 0 0 469.99,45.75 Z" fill="#dedede" />
<path d="M473.04,40.48 A84.2,84.2 0 0 1 474.62,41.08 L472.42,46.66 A78.2,78.2 0 0 0 470.95,46.10 Z" fill="#ffffff" />
<path d="M474.80,41.15 A84.2,84.2 0 0 1 475.54,41.45 L473.27,47.01 A78.2,78.2 0 0 0 472.58,46.73 Z" fill="#dedede" />
<path d="M476.16,41.71 A84.2,84.2 0 0 1 477.05,42.09 L474.68,47.60 A78.2,78.2 0 0 0 473.85,47.25 Z" fill="#7a7a7a" />
<path d="M477.80,42.41 A84.2,84.2 0 0 1 478.33,42.65 L475.87,48.12 A78.2,78.2 0 0 0 475.37,47.90 Z" fill="#1c1c1c" />
<path d="M442.77,43.61 A75.8,75.8 0 0 1 475.08,50.40 L472.59,55.86 A69.8,69.8 0 0 0 442.85,49.61 Z" fill="#a0c0c8" />
<path d="M442.77,43.61 A75.8,75.8 0 0 1 443.83,43.60 L443.82,49.60 A69.8,69.8 0 0 0 442.85,49.61 Z" fill="#60b8c0" />
<path d="M443.83,43.60 A75.8,75.8 0 0 1 445.09,43.61 L444.98,49.61 A69.8,69.8 0 0 0 443.82,49.60 Z" fill="#a898d0" />
<path d="M445.09,43.61 A75.8,75.8 0 0 1 445.46,43.62 L445.32,49.62 A69.8,69.8 0 0 0 444.98,49.61 Z" fill="#88b0d0" />
<path d="M445.46,43.62 A75.8,75.8 0 0 1 446.03,43.64 L445.85,49.63 A69.8,69.8 0 0 0 445.32,49.62 Z" fill="#88b0d0" />
<path d="M446.03,43.64 A75.8,75.8 0 0 1 446.73,43.66 L446.49,49.66 A69.8,69.8 0 0 0 445.85,49.63 Z" fill="#c8b0d8" />
<path d="M446.73,43.66 A75.8,75.8 0 0 1 447.93,43.72 L447.59,49.71 A69.8,69.8 0 0 0 446.49,49.66 Z" fill="#b0d0d8" />
<path d="M447.93,43.72 A75.8,75.8 0 0 1 449.01,43.79 L448.59,49.77 A69.8,69.8 0 0 0 447.59,49.71 Z" fill="#f0e0ea" />
<path d="M449.01,43.79 A75.8,75.8 0 0 1 449.52,43.82 L449.06,49.81 A69.8,69.8 0 0 0 448.59,49.77 Z" fill="#40b0a0" />
<path d="M449.52,43.82 A75.8,75.8 0 0 1 449.90,43.85 L449.41,49.83 A69.8,69.8 0 0 0 449.06,49.81 Z" fill="#b0d0d8" />
<path d="M449.90,43.85 A75.8,75.8 0 0 1 450.36,43.89 L449.84,49.87 A69.8,69.8 0 0 0 449.41,49.83 Z" fill="#a898d0" />
<path d="M450.36,43.89 A75.8,75.8 0 0 1 451.15,43.97 L450.56,49.94 A69.8,69.8 0 0 0 449.84,49.87 Z" fill="#5cc4b0" />
<path d="M451.15,43.97 A75.8,75.8 0 0 1 452.03,44.06 L451.37,50.02 A69.8,69.8 0 0 0 450.56,49.94 Z" fill="#5cc4b0" />
<path d="M452.03,44.06 A75.8,75.8 0 0 1 452.65,44.13 L451.94,50.09 A69.8,69.8 0 0 0 451.37,50.02 Z" fill="#e0c0d8" />
<path d="M452.65,44.13 A75.8,75.8 0 0 1 453.33,44.21 L452.57,50.17 A69.8,69.8 0 0 0 451.94,50.09 Z" fill="#f0e0ea" />
<path d="M453.33,44.21 A75.8,75.8 0 0 1 454.02,44.31 L453.20,50.25 A69.8,69.8 0 0 0 452.57,50.17 Z" fill="#e0c0d8" />
<path d="M454.02,44.31 A75.8,75.8 0 0 1 455.13,44.47 L454.22,50.40 A69.8,69.8 0 0 0 453.20,50.25 Z" fill="#d0d8e0" />
<path d="M455.13,44.47 A75.8,75.8 0 0 1 455.49,44.52 L454.55,50.45 A69.8,69.8 0 0 0 454.22,50.40 Z" fill="#5cc4b0" />
<path d="M455.49,44.52 A75.8,75.8 0 0 1 456.71,44.73 L455.68,50.64 A69.8,69.8 0 0 0 454.55,50.45 Z" fill="#9a8cc8" />
<path d="M456.71,44.73 A75.8,75.8 0 0 1 457.87,44.94 L456.74,50.83 A69.8,69.8 0 0 0 455.68,50.64 Z" fill="#f0e0ea" />
<path d="M457.87,44.94 A75.8,75.8 0 0 1 458.59,45.08 L457.41,50.96 A69.8,69.8 0 0 0 456.74,50.83 Z" fill="#40b0a0" />
<path d="M458.59,45.08 A75.8,75.8 0 0 1 459.73,45.31 L458.46,51.18 A69.8,69.8 0 0 0 457.41,50.96 Z" fill="#c8b0d8" />
<path d="M459.73,45.31 A75.8,75.8 0 0 1 460.66,45.52 L459.32,51.37 A69.8,69.8 0 0 0 458.46,51.18 Z" fill="#40b0a0" />
<path d="M460.66,45.52 A75.8,75.8 0 0 1 461.03,45.61 L459.66,51.45 A69.8,69.8 0 0 0 459.32,51.37 Z" fill="#9a8cc8" />
<path d="M461.03,45.61 A75.8,75.8 0 0 1 462.03,45.85 L460.58,51.67 A69.8,69.8 0 0 0 459.66,51.45 Z" fill="#c8b0d8" />
<path d="M462.03,45.85 A75.8,75.8 0 0 1 463.07,46.12 L461.53,51.92 A69.8,69.8 0 0 0 460.58,51.67 Z" fill="#9a8cc8" />
<path d="M463.07,46.12 A75.8,75.8 0 0 1 464.01,46.37 L462.40,52.15 A69.8,69.8 0 0 0 461.53,51.92 Z" fill="#c8b0d8" />
<path d="M464.01,46.37 A75.8,75.8 0 0 1 464.66,46.55 L463.00,52.32 A69.8,69.8 0 0 0 462.40,52.15 Z" fill="#7898c0" />
<path d="M464.66,46.55 A75.8,75.8 0 0 1 465.67,46.85 L463.93,52.60 A69.8,69.8 0 0 0 463.00,52.32 Z" fill="#a898d0" />
<path d="M465.67,46.85 A75.8,75.8 0 0 1 466.82,47.21 L464.99,52.93 A69.8,69.8 0 0 0 463.93,52.60 Z" fill="#e0c0d8" />
<path d="M466.82,47.21 A75.8,75.8 0 0 1 468.04,47.61 L466.11,53.30 A69.8,69.8 0 0 0 464.99,52.93 Z" fill="#40b0a0" />
<path d="M468.04,47.61 A75.8,75.8 0 0 1 468.36,47.72 L466.41,53.40 A69.8,69.8 0 0 0 466.11,53.30 Z" fill="#40b0a0" />
<path d="M468.36,47.72 A75.8,75.8 0 0 1 469.51,48.13 L467.47,53.77 A69.8,69.8 0 0 0 466.41,53.40 Z" fill="#b0d0d8" />
<path d="M469.51,48.13 A75.8,75.8 0 0 1 470.54,48.51 L468.42,54.12 A69.8,69.8 0 0 0 467.47,53.77 Z" fill="#d0d8e0" />
<path d="M470.54,48.51 A75.8,75.8 0 0 1 470.92,48.65 L468.76,54.25 A69.8,69.8 0 0 0 468.42,54.12 Z" fill="#40b0a0" />
<path d="M470.92,48.65 A75.8,75.8 0 0 1 471.59,48.92 L469.38,54.50 A69.8,69.8 0 0 0 468.76,54.25 Z" fill="#40b0a0" />
<path d="M471.59,48.92 A75.8,75.8 0 0 1 472.24,49.18 L469.98,54.73 A69.8,69.8 0 0 0 469.38,54.50 Z" fill="#e8eef2" />
<path d="M472.24,49.18 A75.8,75.8 0 0 1 473.29,49.61 L470.95,55.14 A69.8,69.8 0 0 0 469.98,54.73 Z" fill="#88b0d0" />
<path d="M473.29,49.61 A75.8,75.8 0 0 1 473.81,49.83 L471.42,55.34 A69.8,69.8 0 0 0 470.95,55.14 Z" fill="#e8eef2" />
<path d="M473.81,49.83 A75.8,75.8 0 0 1 474.70,50.23 L472.25,55.71 A69.8,69.8 0 0 0 471.42,55.34 Z" fill="#60b8c0" />
<path d="M474.70,50.23 A75.8,75.8 0 0 1 475.08,50.40 L472.59,55.86 A69.8,69.8 0 0 0 472.25,55.71 Z" fill="#7898c0" />
<path d="M442.87,51.61 A67.8,67.8 0 0 1 471.76,57.68 L466.30,69.70 A54.6,54.6 0 0 0 443.03,64.80 Z" fill="#f1f1f1" stroke="#c2c2c2" stroke-width="0.55"/>
<path d="M443.05,65.90 A53.5,53.5 0 0 1 465.85,70.70 L464.11,74.52 A49.3,49.3 0 0 0 443.10,70.10 Z" fill="#f1f1f1" stroke="#c2c2c2" stroke-width="0.55"/>
<path d="M443.11,71.20 A48.2,48.2 0 0 1 463.65,75.52 L461.08,81.17 A42.0,42.0 0 0 0 443.19,77.40 Z" fill="#f1f1f1" stroke="#c2c2c2" stroke-width="0.55"/>
<path d="M443.38,72.93 A46.47,46.47 0 0 1 462.71,77.00" fill="none" stroke="#6e5a5a" stroke-width="0.5"/>
<text x="463.33" y="26.64" font-size="8.6" text-anchor="middle" dominant-baseline="central" fill="#222" font-family='"Liberation Serif", "Times New Roman", serif' transform="rotate(11.88 463.33 26.64)">1</text>
<path d="M481.21,44.01 A84.2,84.2 0 0 1 509.06,66.32 L504.40,70.10 A78.2,78.2 0 0 0 478.53,49.39 Z" fill="#ececec" />
<path d="M481.21,44.01 A84.2,84.2 0 0 1 482.04,44.44 L479.31,49.78 A78.2,78.2 0 0 0 478.53,49.39 Z" fill="#ffffff" />
<path d="M482.05,44.44 A84.2,84.2 0 0 1 482.91,44.88 L480.11,50.19 A78.2,78.2 0 0 0 479.31,49.78 Z" fill="#dedede" />
<path d="M483.57,45.24 A84.2,84.2 0 0 1 485.21,46.14 L482.25,51.36 A78.2,78.2 0 0 0 480.73,50.52 Z" fill="#b4b4b4" />
<path d="M485.81,46.49 A84.2,84.2 0 0 1 486.51,46.90 L483.46,52.06 A78.2,78.2 0 0 0 482.81,51.68 Z" fill="#dedede" />
<path d="M487.08,47.23 A84.2,84.2 0 0 1 488.41,48.05 L485.22,53.14 A78.2,78.2 0 0 0 483.99,52.38 Z" fill="#dedede" />
<path d="M489.05,48.46 A84.2,84.2 0 0 1 490.29,49.26 L486.97,54.26 A78.2,78.2 0 0 0 485.82,53.51 Z" fill="#ffffff" />
<path d="M490.66,49.51 A84.2,84.2 0 0 1 491.24,49.91 L487.86,54.86 A78.2,78.2 0 0 0 487.31,54.49 Z" fill="#dedede" />
<path d="M491.93,50.38 A84.2,84.2 0 0 1 493.58,51.56 L490.02,56.40 A78.2,78.2 0 0 0 488.50,55.30 Z" fill="#e46a6a" />
<path d="M493.94,51.83 A84.2,84.2 0 0 1 495.32,52.88 L491.64,57.62 A78.2,78.2 0 0 0 490.36,56.64 Z" fill="#1c1c1c" />
<path d="M495.50,53.02 A84.2,84.2 0 0 1 496.91,54.14 L493.12,58.79 A78.2,78.2 0 0 0 491.81,57.75 Z" fill="#dedede" />
<path d="M497.29,54.46 A84.2,84.2 0 0 1 498.38,55.37 L494.49,59.94 A78.2,78.2 0 0 0 493.47,59.09 Z" fill="#7a7a7a" />
<path d="M498.94,55.85 A84.2,84.2 0 0 1 499.98,56.77 L495.97,61.24 A78.2,78.2 0 0 0 495.00,60.38 Z" fill="#dedede" />
<path d="M500.47,57.21 A84.2,84.2 0 0 1 501.97,58.62 L497.81,62.95 A78.2,78.2 0 0 0 496.42,61.64 Z" fill="#1c1c1c" />
<path d="M502.02,58.66 A84.2,84.2 0 0 1 502.32,58.96 L498.14,63.26 A78.2,78.2 0 0 0 497.86,62.99 Z" fill="#ffffff" />
<path d="M502.51,59.14 A84.2,84.2 0 0 1 503.93,60.56 L499.64,64.75 A78.2,78.2 0 0 0 498.32,63.43 Z" fill="#b4b4b4" />
<path d="M504.36,61.01 A84.2,84.2 0 0 1 505.29,61.98 L500.90,66.07 A78.2,78.2 0 0 0 500.04,65.17 Z" fill="#ffffff" />
<path d="M505.35,62.05 A84.2,84.2 0 0 1 506.58,63.40 L502.09,67.39 A78.2,78.2 0 0 0 500.95,66.13 Z" fill="#dedede" />
<path d="M507.04,63.92 A84.2,84.2 0 0 1 507.57,64.53 L503.02,68.44 A78.2,78.2 0 0 0 502.52,67.87 Z" fill="#dedede" />
<path d="M508.07,65.12 A84.2,84.2 0 0 1 509.06,66.32 L504.40,70.10 A78.2,78.2 0 0 0 503.48,68.99 Z" fill="#1c1c1c" />
<path d="M477.46,51.54 A75.8,75.8 0 0 1 502.54,71.61 L497.88,75.40 A69.8,69.8 0 0 0 474.79,56.91 Z" fill="#a0c0c8" />
<path d="M477.46,51.54 A75.8,75.8 0 0 1 478.07,51.84 L475.35,57.19 A69.8,69.8 0 0 0 474.79,56.91 Z" fill="#d0d8e0" />
<path d="M478.07,51.84 A75.8,75.8 0 0 1 479.20,52.43 L476.39,57.73 A69.8,69.8 0 0 0 475.35,57.19 Z" fill="#88b0d0" />
<path d="M479.20,52.43 A75.8,75.8 0 0 1 479.77,52.73 L476.91,58.01 A69.8,69.8 0 0 0 476.39,57.73 Z" fill="#c8b0d8" />
<path d="M479.77,52.73 A75.8,75.8 0 0 1 480.26,53.00 L477.36,58.25 A69.8,69.8 0 0 0 476.91,58.01 Z" fill="#60b8c0" />
<path d="M480.26,53.00 A75.8,75.8 0 0 1 481.27,53.56 L478.29,58.77 A69.8,69.8 0 0 0 477.36,58.25 Z" fill="#9a8cc8" />
<path d="M481.27,53.56 A75.8,75.8 0 0 1 481.85,53.90 L478.83,59.08 A69.8,69.8 0 0 0 478.29,58.77 Z" fill="#7898c0" />
<path d="M481.85,53.90 A75.8,75.8 0 0 1 482.60,54.34 L479.52,59.49 A69.8,69.8 0 0 0 478.83,59.08 Z" fill="#e8eef2" />
<path d="M482.60,54.34 A75.8,75.8 0 0 1 483.63,54.97 L480.47,60.07 A69.8,69.8 0 0 0 479.52,59.49 Z" fill="#7898c0" />
<path d="M483.63,54.97 A75.8,75.8 0 0 1 484.45,55.48 L481.22,60.54 A69.8,69.8 0 0 0 480.47,60.07 Z" fill="#a898d0" />
<path d="M484.45,55.48 A75.8,75.8 0 0 1 485.14,55.93 L481.86,60.96 A69.8,69.8 0 0 0 481.22,60.54 Z" fill="#7898c0" />
<path d="M485.14,55.93 A75.8,75.8 0 0 1 485.82,56.38 L482.49,61.37 A69.8,69.8 0 0 0 481.86,60.96 Z" fill="#a898d0" />
<path d="M485.82,56.38 A75.8,75.8 0 0 1 486.33,56.73 L482.96,61.69 A69.8,69.8 0 0 0 482.49,61.37 Z" fill="#7898c0" />
<path d="M486.33,56.73 A75.8,75.8 0 0 1 486.61,56.92 L483.22,61.86 A69.8,69.8 0 0 0 482.96,61.69 Z" fill="#e8eef2" />
<path d="M486.61,56.92 A75.8,75.8 0 0 1 487.47,57.51 L484.00,62.41 A69.8,69.8 0 0 0 483.22,61.86 Z" fill="#60b8c0" />
<path d="M487.47,57.51 A75.8,75.8 0 0 1 488.27,58.09 L484.74,62.94 A69.8,69.8 0 0 0 484.00,62.41 Z" fill="#40b0a0" />
<path d="M488.27,58.09 A75.8,75.8 0 0 1 489.02,58.64 L485.43,63.45 A69.8,69.8 0 0 0 484.74,62.94 Z" fill="#60b8c0" />
<path d="M489.02,58.64 A75.8,75.8 0 0 1 489.50,59.00 L485.88,63.78 A69.8,69.8 0 0 0 485.43,63.45 Z" fill="#40b0a0" />
<path d="M489.50,59.00 A75.8,75.8 0 0 1 489.85,59.27 L486.20,64.03 A69.8,69.8 0 0 0 485.88,63.78 Z" fill="#60b8c0" />
<path d="M489.85,59.27 A75.8,75.8 0 0 1 490.83,60.03 L487.10,64.73 A69.8,69.8 0 0 0 486.20,64.03 Z" fill="#e0c0d8" />
<path d="M490.83,60.03 A75.8,75.8 0 0 1 491.07,60.22 L487.32,64.91 A69.8,69.8 0 0 0 487.10,64.73 Z" fill="#b0d0d8" />
<path d="M491.07,60.22 A75.8,75.8 0 0 1 491.69,60.73 L487.89,65.37 A69.8,69.8 0 0 0 487.32,64.91 Z" fill="#d0d8e0" />
<path d="M491.69,60.73 A75.8,75.8 0 0 1 492.51,61.41 L488.65,66.00 A69.8,69.8 0 0 0 487.89,65.37 Z" fill="#88b0d0" />
<path d="M492.51,61.41 A75.8,75.8 0 0 1 493.39,62.16 L489.45,66.69 A69.8,69.8 0 0 0 488.65,66.00 Z" fill="#5cc4b0" />
<path d="M493.39,62.16 A75.8,75.8 0 0 1 494.14,62.82 L490.15,67.30 A69.8,69.8 0 0 0 489.45,66.69 Z" fill="#e0c0d8" />
<path d="M494.14,62.82 A75.8,75.8 0 0 1 494.52,63.16 L490.49,67.61 A69.8,69.8 0 0 0 490.15,67.30 Z" fill="#c8b0d8" />
<path d="M494.52,63.16 A75.8,75.8 0 0 1 494.80,63.42 L490.76,67.85 A69.8,69.8 0 0 0 490.49,67.61 Z" fill="#88b0d0" />
<path d="M494.80,63.42 A75.8,75.8 0 0 1 495.21,63.79 L491.13,68.19 A69.8,69.8 0 0 0 490.76,67.85 Z" fill="#e8eef2" />
<path d="M495.21,63.79 A75.8,75.8 0 0 1 495.69,64.24 L491.57,68.60 A69.8,69.8 0 0 0 491.13,68.19 Z" fill="#d0d8e0" />
<path d="M495.69,64.24 A75.8,75.8 0 0 1 496.58,65.09 L492.39,69.39 A69.8,69.8 0 0 0 491.57,68.60 Z" fill="#f0e0ea" />
<path d="M496.58,65.09 A75.8,75.8 0 0 1 497.19,65.69 L492.96,69.94 A69.8,69.8 0 0 0 492.39,69.39 Z" fill="#9a8cc8" />
<path d="M497.19,65.69 A75.8,75.8 0 0 1 497.64,66.14 L493.37,70.36 A69.8,69.8 0 0 0 492.96,69.94 Z" fill="#d0d8e0" />
<path d="M497.64,66.14 A75.8,75.8 0 0 1 497.89,66.40 L493.60,70.59 A69.8,69.8 0 0 0 493.37,70.36 Z" fill="#e8eef2" />
<path d="M497.89,66.40 A75.8,75.8 0 0 1 498.15,66.67 L493.84,70.84 A69.8,69.8 0 0 0 493.60,70.59 Z" fill="#88b0d0" />
<path d="M498.15,66.67 A75.8,75.8 0 0 1 498.94,67.49 L494.57,71.60 A69.8,69.8 0 0 0 493.84,70.84 Z" fill="#88b0d0" />
<path d="M498.94,67.49 A75.8,75.8 0 0 1 499.51,68.11 L495.09,72.17 A69.8,69.8 0 0 0 494.57,71.60 Z" fill="#5cc4b0" />
<path d="M499.51,68.11 A75.8,75.8 0 0 1 500.23,68.90 L495.76,72.90 A69.8,69.8 0 0 0 495.09,72.17 Z" fill="#e8eef2" />
<path d="M500.23,68.90 A75.8,75.8 0 0 1 500.67,69.40 L496.16,73.36 A69.8,69.8 0 0 0 495.76,72.90 Z" fill="#b0d0d8" />
<path d="M500.67,69.40 A75.8,75.8 0 0 1 501.45,70.30 L496.88,74.19 A69.8,69.8 0 0 0 496.16,73.36 Z" fill="#9a8cc8" />
<path d="M501.45,70.30 A75.8,75.8 0 0 1 501.78,70.69 L497.18,74.54 A69.8,69.8 0 0 0 496.88,74.19 Z" fill="#60b8c0" />
<path d="M501.78,70.69 A75.8,75.8 0 0 1 502.46,71.51 L497.81,75.30 A69.8,69.8 0 0 0 497.18,74.54 Z" fill="#60b8c0" />
<path d="M502.46,71.51 A75.8,75.8 0 0 1 502.54,71.61 L497.88,75.40 A69.8,69.8 0 0 0 497.81,75.30 Z" fill="#f0e0ea" />
<path d="M473.90,58.70 A67.8,67.8 0 0 1 496.33,76.66 L486.08,84.98 A54.6,54.6 0 0 0 468.02,70.52 Z" fill="#f1f1f1" stroke="#c2c2c2" stroke-width="0.55"/>
<path d="M467.53,71.50 A53.5,53.5 0 0 1 485.23,85.67 L481.97,88.32 A49.3,49.3 0 0 0 465.66,75.26 Z" fill="#f1f1f1" stroke="#c2c2c2" stroke-width="0.55"/>
<path d="M465.17,76.25 A48.2,48.2 0 0 1 481.12,89.01 L476.30,92.92 A42.0,42.0 0 0 0 462.41,81.80 Z" fill="#f1f1f1" stroke="#c2c2c2" stroke-width="0.55"/>
<path d="M464.53,78.08 A46.27,46.27 0 0 1 479.47,90.04" fill="none" stroke="#6e5a5a" stroke-width="0.5"/>
<text x="503.33" y="45.53" font-size="8.6" text-anchor="middle" dominant-baseline="central" fill="#222" font-family='"Liberation Serif", "Times New Roman", serif' transform="rotate(38.69 503.33 45.53)">2</text>
<path d="M510.87,68.63 A84.2,84.2 0 0 1 524.20,94.72 L518.46,96.48 A78.2,78.2 0 0 0 506.09,72.25 Z" fill="#ececec" />
<path d="M510.87,68.63 A84.2,84.2 0 0 1 511.44,69.39 L506.61,72.95 A78.2,78.2 0 0 0 506.09,72.25 Z" fill="#b4b4b4" />
<path d="M511.54,69.52 A84.2,84.2 0 0 1 511.93,70.07 L507.07,73.58 A78.2,78.2 0 0 0 506.70,73.08 Z" fill="#ffffff" />
<path d="M512.19,70.42 A84.2,84.2 0 0 1 513.33,72.06 L508.37,75.44 A78.2,78.2 0 0 0 507.31,73.91 Z" fill="#7a7a7a" />
<path d="M513.34,72.07 A84.2,84.2 0 0 1 513.90,72.91 L508.90,76.22 A78.2,78.2 0 0 0 508.38,75.44 Z" fill="#7a7a7a" />
<path d="M513.95,72.98 A84.2,84.2 0 0 1 514.88,74.41 L509.80,77.62 A78.2,78.2 0 0 0 508.94,76.29 Z" fill="#ffffff" />
<path d="M515.08,74.75 A84.2,84.2 0 0 1 515.97,76.20 L510.82,79.28 A78.2,78.2 0 0 0 510.00,77.93 Z" fill="#1c1c1c" />
<path d="M516.01,76.26 A84.2,84.2 0 0 1 516.89,77.77 L511.68,80.74 A78.2,78.2 0 0 0 510.86,79.34 Z" fill="#1c1c1c" />
<path d="M517.25,78.42 A84.2,84.2 0 0 1 518.05,79.89 L512.76,82.71 A78.2,78.2 0 0 0 512.01,81.34 Z" fill="#dedede" />
<path d="M518.18,80.13 A84.2,84.2 0 0 1 518.39,80.53 L513.07,83.30 A78.2,78.2 0 0 0 512.88,82.93 Z" fill="#dedede" />
<path d="M518.51,80.76 A84.2,84.2 0 0 1 518.80,81.33 L513.45,84.04 A78.2,78.2 0 0 0 513.18,83.52 Z" fill="#1c1c1c" />
<path d="M519.15,82.02 A84.2,84.2 0 0 1 519.90,83.59 L514.47,86.14 A78.2,78.2 0 0 0 513.77,84.69 Z" fill="#dedede" />
<path d="M519.95,83.69 A84.2,84.2 0 0 1 520.41,84.68 L514.94,87.15 A78.2,78.2 0 0 0 514.52,86.23 Z" fill="#ffffff" />
<path d="M520.53,84.96 A84.2,84.2 0 0 1 521.09,86.23 L515.58,88.60 A78.2,78.2 0 0 0 515.06,87.41 Z" fill="#dedede" />
<path d="M521.21,86.51 A84.2,84.2 0 0 1 521.56,87.35 L516.02,89.64 A78.2,78.2 0 0 0 515.69,88.85 Z" fill="#1c1c1c" />
<path d="M521.58,87.38 A84.2,84.2 0 0 1 522.22,89.00 L516.63,91.17 A78.2,78.2 0 0 0 516.03,89.66 Z" fill="#b4b4b4" />
<path d="M522.39,89.45 A84.2,84.2 0 0 1 522.93,90.90 L517.28,92.93 A78.2,78.2 0 0 0 516.79,91.59 Z" fill="#ffffff" />
<path d="M523.18,91.61 A84.2,84.2 0 0 1 523.46,92.42 L517.78,94.35 A78.2,78.2 0 0 0 517.52,93.59 Z" fill="#dedede" />
<path d="M523.60,92.85 A84.2,84.2 0 0 1 524.18,94.65 L518.45,96.42 A78.2,78.2 0 0 0 517.91,94.74 Z" fill="#ffffff" />
<path d="M504.17,73.70 A75.8,75.8 0 0 1 516.17,97.18 L510.43,98.94 A69.8,69.8 0 0 0 499.39,77.31 Z" fill="#a0c0c8" />
<path d="M504.17,73.70 A75.8,75.8 0 0 1 504.96,74.75 L500.11,78.29 A69.8,69.8 0 0 0 499.39,77.31 Z" fill="#c8b0d8" />
<path d="M504.96,74.75 A75.8,75.8 0 0 1 505.26,75.17 L500.39,78.67 A69.8,69.8 0 0 0 500.11,78.29 Z" fill="#40b0a0" />
<path d="M505.26,75.17 A75.8,75.8 0 0 1 505.52,75.53 L500.62,79.00 A69.8,69.8 0 0 0 500.39,78.67 Z" fill="#60b8c0" />
<path d="M505.52,75.53 A75.8,75.8 0 0 1 505.73,75.83 L500.82,79.28 A69.8,69.8 0 0 0 500.62,79.00 Z" fill="#5cc4b0" />
<path d="M505.73,75.83 A75.8,75.8 0 0 1 506.22,76.54 L501.27,79.93 A69.8,69.8 0 0 0 500.82,79.28 Z" fill="#5cc4b0" />
<path d="M506.22,76.54 A75.8,75.8 0 0 1 506.86,77.49 L501.86,80.81 A69.8,69.8 0 0 0 501.27,79.93 Z" fill="#88b0d0" />
<path d="M506.86,77.49 A75.8,75.8 0 0 1 507.53,78.51 L502.47,81.75 A69.8,69.8 0 0 0 501.86,80.81 Z" fill="#88b0d0" />
<path d="M507.53,78.51 A75.8,75.8 0 0 1 508.02,79.30 L502.93,82.47 A69.8,69.8 0 0 0 502.47,81.75 Z" fill="#5cc4b0" />
<path d="M508.02,79.30 A75.8,75.8 0 0 1 508.71,80.42 L503.56,83.50 A69.8,69.8 0 0 0 502.93,82.47 Z" fill="#40b0a0" />
<path d="M508.71,80.42 A75.8,75.8 0 0 1 508.94,80.81 L503.78,83.87 A69.8,69.8 0 0 0 503.56,83.50 Z" fill="#f0e0ea" />
<path d="M508.94,80.81 A75.8,75.8 0 0 1 509.31,81.43 L504.11,84.44 A69.8,69.8 0 0 0 503.78,83.87 Z" fill="#5cc4b0" />
<path d="M509.31,81.43 A75.8,75.8 0 0 1 509.92,82.52 L504.68,85.44 A69.8,69.8 0 0 0 504.11,84.44 Z" fill="#5cc4b0" />
<path d="M509.92,82.52 A75.8,75.8 0 0 1 510.31,83.22 L505.04,86.08 A69.8,69.8 0 0 0 504.68,85.44 Z" fill="#7898c0" />
<path d="M510.31,83.22 A75.8,75.8 0 0 1 510.47,83.52 L505.19,86.36 A69.8,69.8 0 0 0 505.04,86.08 Z" fill="#60b8c0" />
<path d="M510.47,83.52 A75.8,75.8 0 0 1 510.71,83.97 L505.41,86.78 A69.8,69.8 0 0 0 505.19,86.36 Z" fill="#e0c0d8" />
<path d="M510.71,83.97 A75.8,75.8 0 0 1 510.90,84.33 L505.58,87.11 A69.8,69.8 0 0 0 505.41,86.78 Z" fill="#60b8c0" />
<path d="M510.90,84.33 A75.8,75.8 0 0 1 511.07,84.65 L505.73,87.40 A69.8,69.8 0 0 0 505.58,87.11 Z" fill="#d0d8e0" />
<path d="M511.07,84.65 A75.8,75.8 0 0 1 511.26,85.04 L505.92,87.76 A69.8,69.8 0 0 0 505.73,87.40 Z" fill="#9a8cc8" />
<path d="M511.26,85.04 A75.8,75.8 0 0 1 511.65,85.82 L506.27,88.47 A69.8,69.8 0 0 0 505.92,87.76 Z" fill="#c8b0d8" />
<path d="M511.65,85.82 A75.8,75.8 0 0 1 512.10,86.73 L506.69,89.32 A69.8,69.8 0 0 0 506.27,88.47 Z" fill="#a898d0" />
<path d="M512.10,86.73 A75.8,75.8 0 0 1 512.41,87.39 L506.97,89.93 A69.8,69.8 0 0 0 506.69,89.32 Z" fill="#c8b0d8" />
<path d="M512.41,87.39 A75.8,75.8 0 0 1 512.92,88.51 L507.44,90.95 A69.8,69.8 0 0 0 506.97,89.93 Z" fill="#88b0d0" />
<path d="M512.92,88.51 A75.8,75.8 0 0 1 513.08,88.88 L507.59,91.29 A69.8,69.8 0 0 0 507.44,90.95 Z" fill="#9a8cc8" />
<path d="M513.08,88.88 A75.8,75.8 0 0 1 513.56,89.99 L508.03,92.32 A69.8,69.8 0 0 0 507.59,91.29 Z" fill="#88b0d0" />
<path d="M513.56,89.99 A75.8,75.8 0 0 1 514.00,91.06 L508.44,93.30 A69.8,69.8 0 0 0 508.03,92.32 Z" fill="#40b0a0" />
<path d="M514.00,91.06 A75.8,75.8 0 0 1 514.17,91.47 L508.59,93.68 A69.8,69.8 0 0 0 508.44,93.30 Z" fill="#d0d8e0" />
<path d="M514.17,91.47 A75.8,75.8 0 0 1 514.52,92.38 L508.91,94.52 A69.8,69.8 0 0 0 508.59,93.68 Z" fill="#d0d8e0" />
<path d="M514.52,92.38 A75.8,75.8 0 0 1 514.95,93.54 L509.31,95.59 A69.8,69.8 0 0 0 508.91,94.52 Z" fill="#d0d8e0" />
<path d="M514.95,93.54 A75.8,75.8 0 0 1 515.07,93.86 L509.42,95.89 A69.8,69.8 0 0 0 509.31,95.59 Z" fill="#c8b0d8" />
<path d="M515.07,93.86 A75.8,75.8 0 0 1 515.34,94.64 L509.67,96.60 A69.8,69.8 0 0 0 509.42,95.89 Z" fill="#e8eef2" />
<path d="M515.34,94.64 A75.8,75.8 0 0 1 515.66,95.59 L509.97,97.48 A69.8,69.8 0 0 0 509.67,96.60 Z" fill="#e0c0d8" />
<path d="M515.66,95.59 A75.8,75.8 0 0 1 515.92,96.37 L510.20,98.20 A69.8,69.8 0 0 0 509.97,97.48 Z" fill="#a898d0" />
<path d="M515.92,96.37 A75.8,75.8 0 0 1 516.07,96.87 L510.35,98.65 A69.8,69.8 0 0 0 510.20,98.20 Z" fill="#b0d0d8" />
<path d="M516.07,96.87 A75.8,75.8 0 0 1 516.17,97.18 L510.43,98.94 A69.8,69.8 0 0 0 510.35,98.65 Z" fill="#b0d0d8" />
<path d="M497.79,78.52 A67.8,67.8 0 0 1 508.52,99.52 L495.90,103.39 A54.6,54.6 0 0 0 487.26,86.48 Z" fill="#f1f1f1" stroke="#c2c2c2" stroke-width="0.55"/>
<path d="M486.38,87.14 A53.5,53.5 0 0 1 494.85,103.72 L490.83,104.95 A49.3,49.3 0 0 0 483.03,89.68 Z" fill="#f1f1f1" stroke="#c2c2c2" stroke-width="0.55"/>
<path d="M482.15,90.34 A48.2,48.2 0 0 1 489.78,105.27 L483.85,107.09 A42.0,42.0 0 0 0 477.21,94.08 Z" fill="#f1f1f1" stroke="#c2c2c2" stroke-width="0.55"/>
<path d="M481.26,91.32 A46.89,46.89 0 0 1 488.46,105.42" fill="none" stroke="#6e5a5a" stroke-width="0.5"/>
<text x="528.65" y="76.59" font-size="8.6" text-anchor="middle" dominant-baseline="central" fill="#222" font-family='"Liberation Serif", "Times New Roman", serif' transform="rotate(62.94 528.65 76.59)">3</text>
<path d="M525.01,97.54 A84.2,84.2 0 0 1 527.68,125.52 L521.69,125.09 A78.2,78.2 0 0 0 519.22,99.10 Z" fill="#ececec" />
<path d="M525.01,97.54 A84.2,84.2 0 0 1 525.15,98.05 L519.35,99.58 A78.2,78.2 0 0 0 519.22,99.10 Z" fill="#b4b4b4" />
<path d="M525.36,98.86 A84.2,84.2 0 0 1 525.62,99.93 L519.78,101.32 A78.2,78.2 0 0 0 519.54,100.32 Z" fill="#dedede" />
<path d="M525.80,100.73 A84.2,84.2 0 0 1 526.12,102.18 L520.25,103.41 A78.2,78.2 0 0 0 519.95,102.06 Z" fill="#ffffff" />
<path d="M526.28,102.96 A84.2,84.2 0 0 1 526.56,104.44 L520.66,105.50 A78.2,78.2 0 0 0 520.39,104.13 Z" fill="#ffffff" />
<path d="M526.64,104.90 A84.2,84.2 0 0 1 526.76,105.59 L520.84,106.57 A78.2,78.2 0 0 0 520.73,105.93 Z" fill="#dedede" />
<path d="M526.78,105.72 A84.2,84.2 0 0 1 526.94,106.74 L521.01,107.64 A78.2,78.2 0 0 0 520.86,106.70 Z" fill="#7a7a7a" />
<path d="M527.01,107.20 A84.2,84.2 0 0 1 527.11,107.90 L521.17,108.72 A78.2,78.2 0 0 0 521.07,108.07 Z" fill="#ffffff" />
<path d="M527.22,108.73 A84.2,84.2 0 0 1 527.34,109.69 L521.38,110.38 A78.2,78.2 0 0 0 521.27,109.49 Z" fill="#ffffff" />
<path d="M527.35,109.76 A84.2,84.2 0 0 1 527.54,111.57 L521.56,112.13 A78.2,78.2 0 0 0 521.39,110.45 Z" fill="#ffffff" />
<path d="M527.61,112.40 A84.2,84.2 0 0 1 527.74,114.27 L521.75,114.63 A78.2,78.2 0 0 0 521.63,112.90 Z" fill="#ffffff" />
<path d="M527.75,114.40 A84.2,84.2 0 0 1 527.78,114.89 L521.79,115.22 A78.2,78.2 0 0 0 521.76,114.76 Z" fill="#ffffff" />
<path d="M527.79,115.08 A84.2,84.2 0 0 1 527.83,116.03 L521.84,116.27 A78.2,78.2 0 0 0 521.80,115.39 Z" fill="#ffffff" />
<path d="M527.86,116.86 A84.2,84.2 0 0 1 527.89,118.31 L521.89,118.39 A78.2,78.2 0 0 0 521.86,117.04 Z" fill="#dedede" />
<path d="M527.90,118.89 A84.2,84.2 0 0 1 527.90,119.40 L521.90,119.40 A78.2,78.2 0 0 0 521.90,118.93 Z" fill="#1c1c1c" />
<path d="M527.90,120.04 A84.2,84.2 0 0 1 527.88,121.25 L521.88,121.12 A78.2,78.2 0 0 0 521.90,119.99 Z" fill="#b4b4b4" />
<path d="M527.87,121.58 A84.2,84.2 0 0 1 527.83,122.89 L521.83,122.64 A78.2,78.2 0 0 0 521.87,121.42 Z" fill="#b4b4b4" />
<path d="M527.82,123.18 A84.2,84.2 0 0 1 527.77,124.13 L521.78,123.79 A78.2,78.2 0 0 0 521.82,122.91 Z" fill="#ffffff" />
<path d="M527.74,124.59 A84.2,84.2 0 0 1 527.71,125.07 L521.72,124.67 A78.2,78.2 0 0 0 521.75,124.22 Z" fill="#ffffff" />
<path d="M527.69,125.31 A84.2,84.2 0 0 1 527.68,125.52 L521.69,125.09 A78.2,78.2 0 0 0 521.71,124.88 Z" fill="#dedede" />
<path d="M516.90,99.72 A75.8,75.8 0 0 1 519.30,124.91 L513.32,124.47 A69.8,69.8 0 0 0 511.11,101.28 Z" fill="#a0c0c8" />
<path d="M516.90,99.72 A75.8,75.8 0 0 1 517.14,100.62 L511.32,102.10 A69.8,69.8 0 0 0 511.11,101.28 Z" fill="#c8b0d8" />
<path d="M517.14,100.62 A75.8,75.8 0 0 1 517.31,101.33 L511.49,102.76 A69.8,69.8 0 0 0 511.32,102.10 Z" fill="#7898c0" />
<path d="M517.31,101.33 A75.8,75.8 0 0 1 517.50,102.12 L511.66,103.49 A69.8,69.8 0 0 0 511.49,102.76 Z" fill="#60b8c0" />
<path d="M517.50,102.12 A75.8,75.8 0 0 1 517.74,103.15 L511.88,104.43 A69.8,69.8 0 0 0 511.66,103.49 Z" fill="#a898d0" />
<path d="M517.74,103.15 A75.8,75.8 0 0 1 517.96,104.21 L512.08,105.41 A69.8,69.8 0 0 0 511.88,104.43 Z" fill="#a898d0" />
<path d="M517.96,104.21 A75.8,75.8 0 0 1 518.17,105.24 L512.27,106.36 A69.8,69.8 0 0 0 512.08,105.41 Z" fill="#40b0a0" />
<path d="M518.17,105.24 A75.8,75.8 0 0 1 518.31,106.01 L512.40,107.07 A69.8,69.8 0 0 0 512.27,106.36 Z" fill="#f0e0ea" />
<path d="M518.31,106.01 A75.8,75.8 0 0 1 518.48,107.01 L512.56,107.99 A69.8,69.8 0 0 0 512.40,107.07 Z" fill="#e0c0d8" />
<path d="M518.48,107.01 A75.8,75.8 0 0 1 518.65,108.10 L512.72,108.99 A69.8,69.8 0 0 0 512.56,107.99 Z" fill="#f0e0ea" />
<path d="M518.65,108.10 A75.8,75.8 0 0 1 518.74,108.70 L512.80,109.54 A69.8,69.8 0 0 0 512.72,108.99 Z" fill="#c8b0d8" />
<path d="M518.74,108.70 A75.8,75.8 0 0 1 518.86,109.59 L512.91,110.37 A69.8,69.8 0 0 0 512.80,109.54 Z" fill="#d0d8e0" />
<path d="M518.86,109.59 A75.8,75.8 0 0 1 519.01,110.82 L513.05,111.50 A69.8,69.8 0 0 0 512.91,110.37 Z" fill="#a898d0" />
<path d="M519.01,110.82 A75.8,75.8 0 0 1 519.14,112.05 L513.17,112.63 A69.8,69.8 0 0 0 513.05,111.50 Z" fill="#e0c0d8" />
<path d="M519.14,112.05 A75.8,75.8 0 0 1 519.24,113.13 L513.26,113.63 A69.8,69.8 0 0 0 513.17,112.63 Z" fill="#a898d0" />
<path d="M519.24,113.13 A75.8,75.8 0 0 1 519.31,114.02 L513.32,114.45 A69.8,69.8 0 0 0 513.26,113.63 Z" fill="#40b0a0" />
<path d="M519.31,114.02 A75.8,75.8 0 0 1 519.36,114.76 L513.37,115.13 A69.8,69.8 0 0 0 513.32,114.45 Z" fill="#7898c0" />
<path d="M519.36,114.76 A75.8,75.8 0 0 1 519.39,115.38 L513.40,115.70 A69.8,69.8 0 0 0 513.37,115.13 Z" fill="#60b8c0" />
<path d="M519.39,115.38 A75.8,75.8 0 0 1 519.41,115.74 L513.42,116.03 A69.8,69.8 0 0 0 513.40,115.70 Z" fill="#5cc4b0" />
<path d="M519.41,115.74 A75.8,75.8 0 0 1 519.43,116.05 L513.43,116.32 A69.8,69.8 0 0 0 513.42,116.03 Z" fill="#a898d0" />
<path d="M519.43,116.05 A75.8,75.8 0 0 1 519.46,116.99 L513.46,117.18 A69.8,69.8 0 0 0 513.43,116.32 Z" fill="#e0c0d8" />
<path d="M519.46,116.99 A75.8,75.8 0 0 1 519.48,117.46 L513.48,117.61 A69.8,69.8 0 0 0 513.46,117.18 Z" fill="#e8eef2" />
<path d="M519.48,117.46 A75.8,75.8 0 0 1 519.49,118.42 L513.49,118.49 A69.8,69.8 0 0 0 513.48,117.61 Z" fill="#60b8c0" />
<path d="M519.49,118.42 A75.8,75.8 0 0 1 519.50,118.70 L513.50,118.76 A69.8,69.8 0 0 0 513.49,118.49 Z" fill="#a898d0" />
<path d="M519.50,118.70 A75.8,75.8 0 0 1 519.50,119.81 L513.50,119.78 A69.8,69.8 0 0 0 513.50,118.76 Z" fill="#c8b0d8" />
<path d="M519.50,119.81 A75.8,75.8 0 0 1 519.49,120.29 L513.50,120.22 A69.8,69.8 0 0 0 513.50,119.78 Z" fill="#e8eef2" />
<path d="M519.49,120.29 A75.8,75.8 0 0 1 519.47,121.61 L513.47,121.43 A69.8,69.8 0 0 0 513.50,120.22 Z" fill="#5cc4b0" />
<path d="M519.47,121.61 A75.8,75.8 0 0 1 519.42,122.93 L513.42,122.65 A69.8,69.8 0 0 0 513.47,121.43 Z" fill="#40b0a0" />
<path d="M519.42,122.93 A75.8,75.8 0 0 1 519.40,123.38 L513.40,123.07 A69.8,69.8 0 0 0 513.42,122.65 Z" fill="#88b0d0" />
<path d="M519.40,123.38 A75.8,75.8 0 0 1 519.33,124.51 L513.34,124.11 A69.8,69.8 0 0 0 513.40,123.07 Z" fill="#9a8cc8" />
<path d="M519.33,124.51 A75.8,75.8 0 0 1 519.30,124.91 L513.32,124.47 A69.8,69.8 0 0 0 513.34,124.11 Z" fill="#88b0d0" />
<path d="M509.18,101.80 A67.8,67.8 0 0 1 511.32,124.33 L498.16,123.37 A54.6,54.6 0 0 0 496.43,105.23 Z" fill="#f1f1f1" stroke="#c2c2c2" stroke-width="0.55"/>
<path d="M495.37,105.51 A53.5,53.5 0 0 1 497.06,123.29 L492.87,122.98 A49.3,49.3 0 0 0 491.31,106.60 Z" fill="#f1f1f1" stroke="#c2c2c2" stroke-width="0.55"/>
<path d="M490.25,106.89 A48.2,48.2 0 0 1 491.77,122.90 L485.59,122.45 A42.0,42.0 0 0 0 484.26,108.50 Z" fill="#f1f1f1" stroke="#c2c2c2" stroke-width="0.55"/>
<path d="M489.33,107.39 A47.19,47.19 0 0 1 490.78,122.58" fill="none" stroke="#6e5a5a" stroke-width="0.5"/>
<text x="538.67" y="110.96" font-size="8.6" text-anchor="middle" dominant-baseline="central" fill="#222" font-family='"Liberation Serif", "Times New Roman", serif' transform="rotate(84.56 538.67 110.96)">4</text>
<path d="M527.41,128.45 A84.2,84.2 0 0 1 520.31,154.33 L514.85,151.84 A78.2,78.2 0 0 0 521.45,127.80 Z" fill="#ececec" />
<path d="M527.41,128.45 A84.2,84.2 0 0 1 527.35,128.99 L521.39,128.31 A78.2,78.2 0 0 0 521.45,127.80 Z" fill="#1c1c1c" />
<path d="M527.27,129.65 A84.2,84.2 0 0 1 527.14,130.66 L521.20,129.86 A78.2,78.2 0 0 0 521.32,128.92 Z" fill="#ffffff" />
<path d="M527.11,130.89 A84.2,84.2 0 0 1 526.93,132.14 L521.00,131.23 A78.2,78.2 0 0 0 521.17,130.08 Z" fill="#ffffff" />
<path d="M526.79,133.00 A84.2,84.2 0 0 1 526.69,133.62 L520.78,132.61 A78.2,78.2 0 0 0 520.87,132.03 Z" fill="#dedede" />
<path d="M526.67,133.73 A84.2,84.2 0 0 1 526.38,135.34 L520.49,134.20 A78.2,78.2 0 0 0 520.76,132.71 Z" fill="#1c1c1c" />
<path d="M526.34,135.55 A84.2,84.2 0 0 1 526.13,136.56 L520.26,135.34 A78.2,78.2 0 0 0 520.45,134.40 Z" fill="#1c1c1c" />
<path d="M526.02,137.08 A84.2,84.2 0 0 1 525.87,137.80 L520.01,136.49 A78.2,78.2 0 0 0 520.16,135.82 Z" fill="#e46a6a" />
<path d="M525.71,138.46 A84.2,84.2 0 0 1 525.51,139.32 L519.68,137.90 A78.2,78.2 0 0 0 519.87,137.10 Z" fill="#dedede" />
<path d="M525.40,139.75 A84.2,84.2 0 0 1 525.04,141.14 L519.25,139.59 A78.2,78.2 0 0 0 519.58,138.30 Z" fill="#dedede" />
<path d="M525.01,141.27 A84.2,84.2 0 0 1 524.77,142.16 L518.99,140.54 A78.2,78.2 0 0 0 519.22,139.71 Z" fill="#ffffff" />
<path d="M524.64,142.59 A84.2,84.2 0 0 1 524.25,143.93 L518.51,142.18 A78.2,78.2 0 0 0 518.88,140.93 Z" fill="#b4b4b4" />
<path d="M524.23,143.99 A84.2,84.2 0 0 1 523.84,145.24 L518.13,143.40 A78.2,78.2 0 0 0 518.49,142.24 Z" fill="#1c1c1c" />
<path d="M523.68,145.72 A84.2,84.2 0 0 1 523.38,146.61 L517.70,144.67 A78.2,78.2 0 0 0 517.98,143.84 Z" fill="#1c1c1c" />
<path d="M523.27,146.94 A84.2,84.2 0 0 1 522.69,148.55 L517.06,146.47 A78.2,78.2 0 0 0 517.60,144.98 Z" fill="#ffffff" />
<path d="M522.67,148.62 A84.2,84.2 0 0 1 522.26,149.69 L516.66,147.53 A78.2,78.2 0 0 0 517.04,146.54 Z" fill="#ffffff" />
<path d="M522.20,149.85 A84.2,84.2 0 0 1 521.48,151.66 L515.93,149.36 A78.2,78.2 0 0 0 516.61,147.68 Z" fill="#1c1c1c" />
<path d="M521.38,151.90 A84.2,84.2 0 0 1 521.16,152.42 L515.64,150.06 A78.2,78.2 0 0 0 515.84,149.58 Z" fill="#7a7a7a" />
<path d="M520.91,152.99 A84.2,84.2 0 0 1 520.64,153.59 L515.16,151.16 A78.2,78.2 0 0 0 515.41,150.60 Z" fill="#b4b4b4" />
<path d="M520.41,154.11 A84.2,84.2 0 0 1 520.31,154.33 L514.85,151.84 A78.2,78.2 0 0 0 514.95,151.64 Z" fill="#ffffff" />
<path d="M519.06,127.55 A75.8,75.8 0 0 1 512.67,150.85 L507.21,148.36 A69.8,69.8 0 0 0 513.10,126.90 Z" fill="#a0c0c8" />
<path d="M519.06,127.55 A75.8,75.8 0 0 1 518.93,128.69 L512.97,127.95 A69.8,69.8 0 0 0 513.10,126.90 Z" fill="#40b0a0" />
<path d="M518.93,128.69 A75.8,75.8 0 0 1 518.84,129.38 L512.89,128.59 A69.8,69.8 0 0 0 512.97,127.95 Z" fill="#d0d8e0" />
<path d="M518.84,129.38 A75.8,75.8 0 0 1 518.80,129.68 L512.85,128.87 A69.8,69.8 0 0 0 512.89,128.59 Z" fill="#e8eef2" />
<path d="M518.80,129.68 A75.8,75.8 0 0 1 518.61,130.96 L512.68,130.04 A69.8,69.8 0 0 0 512.85,128.87 Z" fill="#7898c0" />
<path d="M518.61,130.96 A75.8,75.8 0 0 1 518.48,131.79 L512.56,130.81 A69.8,69.8 0 0 0 512.68,130.04 Z" fill="#b0d0d8" />
<path d="M518.48,131.79 A75.8,75.8 0 0 1 518.40,132.27 L512.49,131.26 A69.8,69.8 0 0 0 512.56,130.81 Z" fill="#88b0d0" />
<path d="M518.40,132.27 A75.8,75.8 0 0 1 518.35,132.58 L512.44,131.54 A69.8,69.8 0 0 0 512.49,131.26 Z" fill="#b0d0d8" />
<path d="M518.35,132.58 A75.8,75.8 0 0 1 518.16,133.56 L512.27,132.44 A69.8,69.8 0 0 0 512.44,131.54 Z" fill="#d0d8e0" />
<path d="M518.16,133.56 A75.8,75.8 0 0 1 517.92,134.80 L512.04,133.58 A69.8,69.8 0 0 0 512.27,132.44 Z" fill="#c8b0d8" />
<path d="M517.92,134.80 A75.8,75.8 0 0 1 517.67,135.94 L511.82,134.63 A69.8,69.8 0 0 0 512.04,133.58 Z" fill="#f0e0ea" />
<path d="M517.67,135.94 A75.8,75.8 0 0 1 517.42,137.02 L511.59,135.63 A69.8,69.8 0 0 0 511.82,134.63 Z" fill="#d0d8e0" />
<path d="M517.42,137.02 A75.8,75.8 0 0 1 517.21,137.90 L511.39,136.44 A69.8,69.8 0 0 0 511.59,135.63 Z" fill="#9a8cc8" />
<path d="M517.21,137.90 A75.8,75.8 0 0 1 517.02,138.65 L511.21,137.12 A69.8,69.8 0 0 0 511.39,136.44 Z" fill="#88b0d0" />
<path d="M517.02,138.65 A75.8,75.8 0 0 1 516.78,139.52 L511.00,137.93 A69.8,69.8 0 0 0 511.21,137.12 Z" fill="#d0d8e0" />
<path d="M516.78,139.52 A75.8,75.8 0 0 1 516.66,139.95 L510.88,138.33 A69.8,69.8 0 0 0 511.00,137.93 Z" fill="#d0d8e0" />
<path d="M516.66,139.95 A75.8,75.8 0 0 1 516.34,141.07 L510.59,139.35 A69.8,69.8 0 0 0 510.88,138.33 Z" fill="#d0d8e0" />
<path d="M516.34,141.07 A75.8,75.8 0 0 1 516.17,141.63 L510.43,139.87 A69.8,69.8 0 0 0 510.59,139.35 Z" fill="#5cc4b0" />
<path d="M516.17,141.63 A75.8,75.8 0 0 1 515.90,142.50 L510.18,140.67 A69.8,69.8 0 0 0 510.43,139.87 Z" fill="#b0d0d8" />
<path d="M515.90,142.50 A75.8,75.8 0 0 1 515.76,142.90 L510.06,141.04 A69.8,69.8 0 0 0 510.18,140.67 Z" fill="#e0c0d8" />
<path d="M515.76,142.90 A75.8,75.8 0 0 1 515.67,143.20 L509.97,141.32 A69.8,69.8 0 0 0 510.06,141.04 Z" fill="#d0d8e0" />
<path d="M515.67,143.20 A75.8,75.8 0 0 1 515.48,143.77 L509.79,141.84 A69.8,69.8 0 0 0 509.97,141.32 Z" fill="#e8eef2" />
<path d="M515.48,143.77 A75.8,75.8 0 0 1 515.20,144.58 L509.54,142.59 A69.8,69.8 0 0 0 509.79,141.84 Z" fill="#b0d0d8" />
<path d="M515.20,144.58 A75.8,75.8 0 0 1 515.05,145.00 L509.40,142.97 A69.8,69.8 0 0 0 509.54,142.59 Z" fill="#b0d0d8" />
<path d="M515.05,145.00 A75.8,75.8 0 0 1 514.70,145.94 L509.08,143.84 A69.8,69.8 0 0 0 509.40,142.97 Z" fill="#f0e0ea" />
<path d="M514.70,145.94 A75.8,75.8 0 0 1 514.35,146.87 L508.76,144.69 A69.8,69.8 0 0 0 509.08,143.84 Z" fill="#9a8cc8" />
<path d="M514.35,146.87 A75.8,75.8 0 0 1 514.04,147.65 L508.47,145.42 A69.8,69.8 0 0 0 508.76,144.69 Z" fill="#5cc4b0" />
<path d="M514.04,147.65 A75.8,75.8 0 0 1 513.67,148.55 L508.13,146.24 A69.8,69.8 0 0 0 508.47,145.42 Z" fill="#b0d0d8" />
<path d="M513.67,148.55 A75.8,75.8 0 0 1 513.39,149.21 L507.88,146.85 A69.8,69.8 0 0 0 508.13,146.24 Z" fill="#e8eef2" />
<path d="M513.39,149.21 A75.8,75.8 0 0 1 513.22,149.60 L507.72,147.21 A69.8,69.8 0 0 0 507.88,146.85 Z" fill="#88b0d0" />
<path d="M513.22,149.60 A75.8,75.8 0 0 1 512.85,150.46 L507.37,148.00 A69.8,69.8 0 0 0 507.72,147.21 Z" fill="#7898c0" />
<path d="M512.85,150.46 A75.8,75.8 0 0 1 512.67,150.85 L507.21,148.36 A69.8,69.8 0 0 0 507.37,148.00 Z" fill="#d0d8e0" />
<path d="M511.11,126.69 A67.8,67.8 0 0 1 505.39,147.53 L493.38,142.05 A54.6,54.6 0 0 0 497.98,125.27 Z" fill="#f1f1f1" stroke="#c2c2c2" stroke-width="0.55"/>
<path d="M496.89,125.15 A53.5,53.5 0 0 1 492.38,141.59 L488.56,139.85 A49.3,49.3 0 0 0 492.71,124.70 Z" fill="#f1f1f1" stroke="#c2c2c2" stroke-width="0.55"/>
<path d="M491.62,124.58 A48.2,48.2 0 0 1 487.56,139.40 L481.92,136.82 A42.0,42.0 0 0 0 485.46,123.91 Z" fill="#f1f1f1" stroke="#c2c2c2" stroke-width="0.55"/>
<path d="M490.36,124.69 A46.96,46.96 0 0 1 486.53,138.66" fill="none" stroke="#6e5a5a" stroke-width="0.5"/>
<text x="535.70" y="145.24" font-size="8.6" text-anchor="middle" dominant-baseline="central" fill="#222" font-family='"Liberation Serif", "Times New Roman", serif' transform="rotate(105.34 535.70 145.24)">5</text>
<path d="M519.05,156.98 A84.2,84.2 0 0 1 504.51,177.64 L500.17,173.49 A78.2,78.2 0 0 0 513.68,154.30 Z" fill="#ececec" />
<path d="M519.05,156.98 A84.2,84.2 0 0 1 518.60,157.87 L513.26,155.13 A78.2,78.2 0 0 0 513.68,154.30 Z" fill="#b4b4b4" />
<path d="M518.22,158.59 A84.2,84.2 0 0 1 517.84,159.30 L512.56,156.46 A78.2,78.2 0 0 0 512.91,155.80 Z" fill="#1c1c1c" />
<path d="M517.43,160.06 A84.2,84.2 0 0 1 516.96,160.90 L511.74,157.95 A78.2,78.2 0 0 0 512.18,157.17 Z" fill="#ffffff" />
<path d="M516.66,161.43 A84.2,84.2 0 0 1 515.68,163.08 L510.56,159.97 A78.2,78.2 0 0 0 511.46,158.43 Z" fill="#dedede" />
<path d="M515.54,163.32 A84.2,84.2 0 0 1 515.14,163.97 L510.05,160.79 A78.2,78.2 0 0 0 510.42,160.19 Z" fill="#ffffff" />
<path d="M514.83,164.46 A84.2,84.2 0 0 1 514.36,165.19 L509.33,161.92 A78.2,78.2 0 0 0 509.76,161.25 Z" fill="#1c1c1c" />
<path d="M514.17,165.49 A84.2,84.2 0 0 1 513.85,165.98 L508.85,162.66 A78.2,78.2 0 0 0 509.15,162.20 Z" fill="#b4b4b4" />
<path d="M513.36,166.69 A84.2,84.2 0 0 1 513.03,167.18 L508.09,163.77 A78.2,78.2 0 0 0 508.40,163.32 Z" fill="#e46a6a" />
<path d="M512.70,167.66 A84.2,84.2 0 0 1 511.73,169.01 L506.88,165.48 A78.2,78.2 0 0 0 507.78,164.22 Z" fill="#1c1c1c" />
<path d="M511.45,169.40 A84.2,84.2 0 0 1 510.68,170.42 L505.91,166.78 A78.2,78.2 0 0 0 506.62,165.84 Z" fill="#ffffff" />
<path d="M510.46,170.71 A84.2,84.2 0 0 1 509.66,171.73 L504.96,168.00 A78.2,78.2 0 0 0 505.71,167.05 Z" fill="#dedede" />
<path d="M509.42,172.03 A84.2,84.2 0 0 1 508.78,172.82 L504.15,169.01 A78.2,78.2 0 0 0 504.74,168.28 Z" fill="#1c1c1c" />
<path d="M508.59,173.06 A84.2,84.2 0 0 1 507.37,174.49 L502.84,170.57 A78.2,78.2 0 0 0 503.97,169.23 Z" fill="#ffffff" />
<path d="M507.00,174.93 A84.2,84.2 0 0 1 506.19,175.83 L501.74,171.81 A78.2,78.2 0 0 0 502.49,170.97 Z" fill="#dedede" />
<path d="M505.73,176.34 A84.2,84.2 0 0 1 504.51,177.64 L500.17,173.49 A78.2,78.2 0 0 0 501.31,172.28 Z" fill="#ffffff" />
<path d="M511.53,153.23 A75.8,75.8 0 0 1 498.44,171.83 L494.11,167.68 A69.8,69.8 0 0 0 506.16,150.56 Z" fill="#a0c0c8" />
<path d="M511.53,153.23 A75.8,75.8 0 0 1 511.38,153.54 L506.02,150.83 A69.8,69.8 0 0 0 506.16,150.56 Z" fill="#b0d0d8" />
<path d="M511.38,153.54 A75.8,75.8 0 0 1 510.99,154.30 L505.66,151.54 A69.8,69.8 0 0 0 506.02,150.83 Z" fill="#88b0d0" />
<path d="M510.99,154.30 A75.8,75.8 0 0 1 510.39,155.44 L505.11,152.58 A69.8,69.8 0 0 0 505.66,151.54 Z" fill="#b0d0d8" />
<path d="M510.39,155.44 A75.8,75.8 0 0 1 509.86,156.39 L504.63,153.46 A69.8,69.8 0 0 0 505.11,152.58 Z" fill="#d0d8e0" />
<path d="M509.86,156.39 A75.8,75.8 0 0 1 509.22,157.52 L504.03,154.50 A69.8,69.8 0 0 0 504.63,153.46 Z" fill="#a898d0" />
<path d="M509.22,157.52 A75.8,75.8 0 0 1 509.08,157.76 L503.90,154.72 A69.8,69.8 0 0 0 504.03,154.50 Z" fill="#c8b0d8" />
<path d="M509.08,157.76 A75.8,75.8 0 0 1 508.55,158.64 L503.42,155.54 A69.8,69.8 0 0 0 503.90,154.72 Z" fill="#5cc4b0" />
<path d="M508.55,158.64 A75.8,75.8 0 0 1 508.16,159.28 L503.06,156.12 A69.8,69.8 0 0 0 503.42,155.54 Z" fill="#e8eef2" />
<path d="M508.16,159.28 A75.8,75.8 0 0 1 507.73,159.97 L502.66,156.76 A69.8,69.8 0 0 0 503.06,156.12 Z" fill="#7898c0" />
<path d="M507.73,159.97 A75.8,75.8 0 0 1 507.30,160.64 L502.27,157.37 A69.8,69.8 0 0 0 502.66,156.76 Z" fill="#9a8cc8" />
<path d="M507.30,160.64 A75.8,75.8 0 0 1 507.15,160.86 L502.13,157.58 A69.8,69.8 0 0 0 502.27,157.37 Z" fill="#9a8cc8" />
<path d="M507.15,160.86 A75.8,75.8 0 0 1 506.98,161.12 L501.97,157.82 A69.8,69.8 0 0 0 502.13,157.58 Z" fill="#c8b0d8" />
<path d="M506.98,161.12 A75.8,75.8 0 0 1 506.75,161.48 L501.76,158.15 A69.8,69.8 0 0 0 501.97,157.82 Z" fill="#e8eef2" />
<path d="M506.75,161.48 A75.8,75.8 0 0 1 506.34,162.08 L501.38,158.70 A69.8,69.8 0 0 0 501.76,158.15 Z" fill="#88b0d0" />
<path d="M506.34,162.08 A75.8,75.8 0 0 1 505.61,163.14 L500.71,159.68 A69.8,69.8 0 0 0 501.38,158.70 Z" fill="#f0e0ea" />
<path d="M505.61,163.14 A75.8,75.8 0 0 1 505.11,163.83 L500.25,160.31 A69.8,69.8 0 0 0 500.71,159.68 Z" fill="#40b0a0" />
<path d="M505.11,163.83 A75.8,75.8 0 0 1 504.44,164.75 L499.63,161.16 A69.8,69.8 0 0 0 500.25,160.31 Z" fill="#5cc4b0" />
<path d="M504.44,164.75 A75.8,75.8 0 0 1 503.78,165.61 L499.03,161.96 A69.8,69.8 0 0 0 499.63,161.16 Z" fill="#9a8cc8" />
<path d="M503.78,165.61 A75.8,75.8 0 0 1 503.09,166.50 L498.39,162.77 A69.8,69.8 0 0 0 499.03,161.96 Z" fill="#40b0a0" />
<path d="M503.09,166.50 A75.8,75.8 0 0 1 502.89,166.76 L498.20,163.01 A69.8,69.8 0 0 0 498.39,162.77 Z" fill="#5cc4b0" />
<path d="M502.89,166.76 A75.8,75.8 0 0 1 502.26,167.53 L497.63,163.72 A69.8,69.8 0 0 0 498.20,163.01 Z" fill="#60b8c0" />
<path d="M502.26,167.53 A75.8,75.8 0 0 1 501.83,168.05 L497.23,164.20 A69.8,69.8 0 0 0 497.63,163.72 Z" fill="#b0d0d8" />
<path d="M501.83,168.05 A75.8,75.8 0 0 1 501.01,169.01 L496.48,165.08 A69.8,69.8 0 0 0 497.23,164.20 Z" fill="#7898c0" />
<path d="M501.01,169.01 A75.8,75.8 0 0 1 500.30,169.81 L495.82,165.82 A69.8,69.8 0 0 0 496.48,165.08 Z" fill="#40b0a0" />
<path d="M500.30,169.81 A75.8,75.8 0 0 1 499.72,170.46 L495.29,166.42 A69.8,69.8 0 0 0 495.82,165.82 Z" fill="#9a8cc8" />
<path d="M499.72,170.46 A75.8,75.8 0 0 1 498.90,171.35 L494.53,167.24 A69.8,69.8 0 0 0 495.29,166.42 Z" fill="#9a8cc8" />
<path d="M498.90,171.35 A75.8,75.8 0 0 1 498.44,171.83 L494.11,167.68 A69.8,69.8 0 0 0 494.53,167.24 Z" fill="#f0e0ea" />
<path d="M504.37,149.66 A67.8,67.8 0 0 1 492.66,166.30 L483.13,157.17 A54.6,54.6 0 0 0 492.56,143.77 Z" fill="#f1f1f1" stroke="#c2c2c2" stroke-width="0.55"/>
<path d="M491.57,143.28 A53.5,53.5 0 0 1 482.34,156.41 L479.30,153.50 A49.3,49.3 0 0 0 487.82,141.41 Z" fill="#f1f1f1" stroke="#c2c2c2" stroke-width="0.55"/>
<path d="M486.83,140.91 A48.2,48.2 0 0 1 478.51,152.74 L474.03,148.45 A42.0,42.0 0 0 0 481.28,138.15 Z" fill="#f1f1f1" stroke="#c2c2c2" stroke-width="0.55"/>
<path d="M485.35,140.45 A46.66,46.66 0 0 1 477.57,151.50" fill="none" stroke="#6e5a5a" stroke-width="0.5"/>
<text x="521.71" y="174.91" font-size="8.6" text-anchor="middle" dominant-baseline="central" fill="#222" font-family='"Liberation Serif", "Times New Roman", serif' transform="rotate(125.14 521.71 174.91)">6</text>
<path d="M502.44,179.73 A84.2,84.2 0 0 1 483.40,193.65 L480.58,188.36 A78.2,78.2 0 0 0 498.25,175.43 Z" fill="#ececec" />
<path d="M502.44,179.73 A84.2,84.2 0 0 1 501.16,180.94 L497.07,176.56 A78.2,78.2 0 0 0 498.25,175.43 Z" fill="#dedede" />
<path d="M501.03,181.06 A84.2,84.2 0 0 1 500.25,181.79 L496.22,177.34 A78.2,78.2 0 0 0 496.95,176.67 Z" fill="#7a7a7a" />
<path d="M500.13,181.89 A84.2,84.2 0 0 1 499.54,182.42 L495.56,177.93 A78.2,78.2 0 0 0 496.11,177.44 Z" fill="#1c1c1c" />
<path d="M499.28,182.65 A84.2,84.2 0 0 1 498.48,183.35 L494.57,178.79 A78.2,78.2 0 0 0 495.32,178.14 Z" fill="#e46a6a" />
<path d="M497.83,183.89 A84.2,84.2 0 0 1 497.15,184.46 L493.35,179.82 A78.2,78.2 0 0 0 493.97,179.30 Z" fill="#ffffff" />
<path d="M497.04,184.55 A84.2,84.2 0 0 1 495.46,185.81 L491.77,181.08 A78.2,78.2 0 0 0 493.24,179.91 Z" fill="#7a7a7a" />
<path d="M495.30,185.94 A84.2,84.2 0 0 1 493.79,187.08 L490.22,182.26 A78.2,78.2 0 0 0 491.62,181.19 Z" fill="#1c1c1c" />
<path d="M493.28,187.45 A84.2,84.2 0 0 1 492.96,187.69 L489.45,182.82 A78.2,78.2 0 0 0 489.75,182.60 Z" fill="#dedede" />
<path d="M492.80,187.80 A84.2,84.2 0 0 1 492.15,188.26 L488.70,183.36 A78.2,78.2 0 0 0 489.30,182.93 Z" fill="#dedede" />
<path d="M491.86,188.47 A84.2,84.2 0 0 1 490.32,189.51 L487.00,184.52 A78.2,78.2 0 0 0 488.43,183.54 Z" fill="#dedede" />
<path d="M490.20,189.60 A84.2,84.2 0 0 1 489.67,189.94 L486.40,184.91 A78.2,78.2 0 0 0 486.89,184.59 Z" fill="#dedede" />
<path d="M489.47,190.07 A84.2,84.2 0 0 1 487.96,191.03 L484.81,185.93 A78.2,78.2 0 0 0 486.21,185.04 Z" fill="#b4b4b4" />
<path d="M487.41,191.37 A84.2,84.2 0 0 1 486.84,191.71 L483.76,186.56 A78.2,78.2 0 0 0 484.29,186.24 Z" fill="#b4b4b4" />
<path d="M486.31,192.02 A84.2,84.2 0 0 1 485.93,192.25 L482.92,187.06 A78.2,78.2 0 0 0 483.28,186.85 Z" fill="#dedede" />
<path d="M485.41,192.54 A84.2,84.2 0 0 1 484.87,192.85 L481.94,187.61 A78.2,78.2 0 0 0 482.44,187.33 Z" fill="#1c1c1c" />
<path d="M484.71,192.94 A84.2,84.2 0 0 1 484.21,193.21 L481.32,187.95 A78.2,78.2 0 0 0 481.78,187.70 Z" fill="#7a7a7a" />
<path d="M483.45,193.63 A84.2,84.2 0 0 1 483.40,193.65 L480.58,188.36 A78.2,78.2 0 0 0 480.61,188.34 Z" fill="#dedede" />
<path d="M496.58,173.71 A75.8,75.8 0 0 1 479.44,186.24 L476.61,180.95 A69.8,69.8 0 0 0 492.39,169.41 Z" fill="#a0c0c8" />
<path d="M496.58,173.71 A75.8,75.8 0 0 1 496.22,174.05 L492.07,169.73 A69.8,69.8 0 0 0 492.39,169.41 Z" fill="#a898d0" />
<path d="M496.22,174.05 A75.8,75.8 0 0 1 495.96,174.30 L491.83,169.96 A69.8,69.8 0 0 0 492.07,169.73 Z" fill="#e8eef2" />
<path d="M495.96,174.30 A75.8,75.8 0 0 1 495.18,175.03 L491.11,170.63 A69.8,69.8 0 0 0 491.83,169.96 Z" fill="#f0e0ea" />
<path d="M495.18,175.03 A75.8,75.8 0 0 1 494.21,175.91 L490.22,171.44 A69.8,69.8 0 0 0 491.11,170.63 Z" fill="#88b0d0" />
<path d="M494.21,175.91 A75.8,75.8 0 0 1 493.24,176.77 L489.32,172.23 A69.8,69.8 0 0 0 490.22,171.44 Z" fill="#9a8cc8" />
<path d="M493.24,176.77 A75.8,75.8 0 0 1 492.71,177.22 L488.83,172.64 A69.8,69.8 0 0 0 489.32,172.23 Z" fill="#c8b0d8" />
<path d="M492.71,177.22 A75.8,75.8 0 0 1 492.24,177.62 L488.39,173.01 A69.8,69.8 0 0 0 488.83,172.64 Z" fill="#88b0d0" />
<path d="M492.24,177.62 A75.8,75.8 0 0 1 491.98,177.83 L488.16,173.21 A69.8,69.8 0 0 0 488.39,173.01 Z" fill="#5cc4b0" />
<path d="M491.98,177.83 A75.8,75.8 0 0 1 491.71,178.06 L487.91,173.42 A69.8,69.8 0 0 0 488.16,173.21 Z" fill="#7898c0" />
<path d="M491.71,178.06 A75.8,75.8 0 0 1 491.19,178.48 L487.43,173.80 A69.8,69.8 0 0 0 487.91,173.42 Z" fill="#9a8cc8" />
<path d="M491.19,178.48 A75.8,75.8 0 0 1 490.17,179.28 L486.49,174.54 A69.8,69.8 0 0 0 487.43,173.80 Z" fill="#7898c0" />
<path d="M490.17,179.28 A75.8,75.8 0 0 1 489.68,179.66 L486.04,174.89 A69.8,69.8 0 0 0 486.49,174.54 Z" fill="#5cc4b0" />
<path d="M489.68,179.66 A75.8,75.8 0 0 1 488.66,180.43 L485.10,175.60 A69.8,69.8 0 0 0 486.04,174.89 Z" fill="#e8eef2" />
<path d="M488.66,180.43 A75.8,75.8 0 0 1 487.97,180.93 L484.46,176.06 A69.8,69.8 0 0 0 485.10,175.60 Z" fill="#e8eef2" />
<path d="M487.97,180.93 A75.8,75.8 0 0 1 487.38,181.35 L483.92,176.44 A69.8,69.8 0 0 0 484.46,176.06 Z" fill="#e8eef2" />
<path d="M487.38,181.35 A75.8,75.8 0 0 1 486.79,181.76 L483.38,176.83 A69.8,69.8 0 0 0 483.92,176.44 Z" fill="#40b0a0" />
<path d="M486.79,181.76 A75.8,75.8 0 0 1 485.93,182.35 L482.58,177.37 A69.8,69.8 0 0 0 483.38,176.83 Z" fill="#88b0d0" />
<path d="M485.93,182.35 A75.8,75.8 0 0 1 485.15,182.86 L481.87,177.84 A69.8,69.8 0 0 0 482.58,177.37 Z" fill="#88b0d0" />
<path d="M485.15,182.86 A75.8,75.8 0 0 1 484.50,183.28 L481.27,178.22 A69.8,69.8 0 0 0 481.87,177.84 Z" fill="#b0d0d8" />
<path d="M484.50,183.28 A75.8,75.8 0 0 1 483.66,183.81 L480.50,178.71 A69.8,69.8 0 0 0 481.27,178.22 Z" fill="#88b0d0" />
<path d="M483.66,183.81 A75.8,75.8 0 0 1 482.57,184.47 L479.50,179.32 A69.8,69.8 0 0 0 480.50,178.71 Z" fill="#7898c0" />
<path d="M482.57,184.47 A75.8,75.8 0 0 1 481.92,184.86 L478.90,179.68 A69.8,69.8 0 0 0 479.50,179.32 Z" fill="#7898c0" />
<path d="M481.92,184.86 A75.8,75.8 0 0 1 481.06,185.35 L478.11,180.13 A69.8,69.8 0 0 0 478.90,179.68 Z" fill="#7898c0" />
<path d="M481.06,185.35 A75.8,75.8 0 0 1 480.28,185.79 L477.38,180.53 A69.8,69.8 0 0 0 478.11,180.13 Z" fill="#40b0a0" />
<path d="M480.28,185.79 A75.8,75.8 0 0 1 479.55,186.19 L476.71,180.90 A69.8,69.8 0 0 0 477.38,180.53 Z" fill="#60b8c0" />
<path d="M479.55,186.19 A75.8,75.8 0 0 1 479.44,186.24 L476.61,180.95 A69.8,69.8 0 0 0 476.71,180.90 Z" fill="#a898d0" />
<path d="M491.00,167.98 A67.8,67.8 0 0 1 475.67,179.19 L469.45,167.55 A54.6,54.6 0 0 0 481.79,158.52 Z" fill="#f1f1f1" stroke="#c2c2c2" stroke-width="0.55"/>
<path d="M481.02,157.73 A53.5,53.5 0 0 1 468.93,166.58 L466.95,162.87 A49.3,49.3 0 0 0 478.09,154.72 Z" fill="#f1f1f1" stroke="#c2c2c2" stroke-width="0.55"/>
<path d="M477.32,153.94 A48.2,48.2 0 0 1 466.43,161.90 L463.51,156.44 A42.0,42.0 0 0 0 473.00,149.49 Z" fill="#f1f1f1" stroke="#c2c2c2" stroke-width="0.55"/>
<path d="M476.22,153.16 A46.88,46.88 0 0 1 466.02,160.62" fill="none" stroke="#6e5a5a" stroke-width="0.5"/>
<text x="500.02" y="197.00" font-size="8.6" text-anchor="middle" dominant-baseline="central" fill="#222" font-family='"Liberation Serif", "Times New Roman", serif' transform="rotate(143.82 500.02 197.00)">7</text>
<path d="M480.79,194.99 A84.2,84.2 0 0 1 460.45,201.92 L459.25,196.04 A78.2,78.2 0 0 0 478.15,189.60 Z" fill="#ececec" />
<path d="M480.79,194.99 A84.2,84.2 0 0 1 478.98,195.85 L476.47,190.40 A78.2,78.2 0 0 0 478.15,189.60 Z" fill="#1c1c1c" />
<path d="M478.62,196.02 A84.2,84.2 0 0 1 478.10,196.25 L475.65,190.78 A78.2,78.2 0 0 0 476.13,190.56 Z" fill="#dedede" />
<path d="M477.79,196.39 A84.2,84.2 0 0 1 476.07,197.13 L473.77,191.59 A78.2,78.2 0 0 0 475.36,190.90 Z" fill="#dedede" />
<path d="M476.03,197.15 A84.2,84.2 0 0 1 475.38,197.41 L473.12,191.85 A78.2,78.2 0 0 0 473.72,191.61 Z" fill="#1c1c1c" />
<path d="M475.28,197.45 A84.2,84.2 0 0 1 473.51,198.15 L471.38,192.54 A78.2,78.2 0 0 0 473.03,191.89 Z" fill="#dedede" />
<path d="M473.06,198.31 A84.2,84.2 0 0 1 471.52,198.87 L469.53,193.21 A78.2,78.2 0 0 0 470.97,192.69 Z" fill="#1c1c1c" />
<path d="M471.42,198.91 A84.2,84.2 0 0 1 470.13,199.34 L468.25,193.65 A78.2,78.2 0 0 0 469.45,193.24 Z" fill="#ffffff" />
<path d="M469.33,199.60 A84.2,84.2 0 0 1 467.73,200.10 L466.02,194.35 A78.2,78.2 0 0 0 467.50,193.89 Z" fill="#ffffff" />
<path d="M467.44,200.18 A84.2,84.2 0 0 1 465.50,200.73 L463.95,194.93 A78.2,78.2 0 0 0 465.75,194.43 Z" fill="#1c1c1c" />
<path d="M464.85,200.90 A84.2,84.2 0 0 1 464.43,201.01 L462.95,195.19 A78.2,78.2 0 0 0 463.34,195.09 Z" fill="#ffffff" />
<path d="M463.91,201.14 A84.2,84.2 0 0 1 463.21,201.31 L461.82,195.47 A78.2,78.2 0 0 0 462.47,195.31 Z" fill="#dedede" />
<path d="M463.21,201.31 A84.2,84.2 0 0 1 462.09,201.57 L460.78,195.71 A78.2,78.2 0 0 0 461.82,195.47 Z" fill="#dedede" />
<path d="M461.38,201.72 A84.2,84.2 0 0 1 460.45,201.92 L459.25,196.04 A78.2,78.2 0 0 0 460.12,195.86 Z" fill="#1c1c1c" />
<path d="M477.09,187.45 A75.8,75.8 0 0 1 458.78,193.69 L457.58,187.81 A69.8,69.8 0 0 0 474.45,182.06 Z" fill="#a0c0c8" />
<path d="M477.09,187.45 A75.8,75.8 0 0 1 476.83,187.57 L474.21,182.18 A69.8,69.8 0 0 0 474.45,182.06 Z" fill="#7898c0" />
<path d="M476.83,187.57 A75.8,75.8 0 0 1 476.50,187.74 L473.90,182.33 A69.8,69.8 0 0 0 474.21,182.18 Z" fill="#60b8c0" />
<path d="M476.50,187.74 A75.8,75.8 0 0 1 475.34,188.28 L472.84,182.83 A69.8,69.8 0 0 0 473.90,182.33 Z" fill="#c8b0d8" />
<path d="M475.34,188.28 A75.8,75.8 0 0 1 474.33,188.74 L471.91,183.25 A69.8,69.8 0 0 0 472.84,182.83 Z" fill="#e0c0d8" />
<path d="M474.33,188.74 A75.8,75.8 0 0 1 473.20,189.22 L470.86,183.70 A69.8,69.8 0 0 0 471.91,183.25 Z" fill="#40b0a0" />
<path d="M473.20,189.22 A75.8,75.8 0 0 1 472.20,189.64 L469.94,184.08 A69.8,69.8 0 0 0 470.86,183.70 Z" fill="#b0d0d8" />
<path d="M472.20,189.64 A75.8,75.8 0 0 1 471.62,189.87 L469.41,184.29 A69.8,69.8 0 0 0 469.94,184.08 Z" fill="#9a8cc8" />
<path d="M471.62,189.87 A75.8,75.8 0 0 1 470.71,190.23 L468.57,184.62 A69.8,69.8 0 0 0 469.41,184.29 Z" fill="#b0d0d8" />
<path d="M470.71,190.23 A75.8,75.8 0 0 1 469.81,190.56 L467.74,184.93 A69.8,69.8 0 0 0 468.57,184.62 Z" fill="#f0e0ea" />
<path d="M469.81,190.56 A75.8,75.8 0 0 1 468.92,190.88 L466.92,185.22 A69.8,69.8 0 0 0 467.74,184.93 Z" fill="#e8eef2" />
<path d="M468.92,190.88 A75.8,75.8 0 0 1 468.18,191.14 L466.24,185.46 A69.8,69.8 0 0 0 466.92,185.22 Z" fill="#7898c0" />
<path d="M468.18,191.14 A75.8,75.8 0 0 1 467.90,191.23 L465.98,185.55 A69.8,69.8 0 0 0 466.24,185.46 Z" fill="#d0d8e0" />
<path d="M467.90,191.23 A75.8,75.8 0 0 1 467.04,191.52 L465.19,185.81 A69.8,69.8 0 0 0 465.98,185.55 Z" fill="#b0d0d8" />
<path d="M467.04,191.52 A75.8,75.8 0 0 1 466.68,191.63 L464.86,185.92 A69.8,69.8 0 0 0 465.19,185.81 Z" fill="#5cc4b0" />
<path d="M466.68,191.63 A75.8,75.8 0 0 1 465.46,192.01 L463.74,186.26 A69.8,69.8 0 0 0 464.86,185.92 Z" fill="#9a8cc8" />
<path d="M465.46,192.01 A75.8,75.8 0 0 1 464.27,192.36 L462.64,186.58 A69.8,69.8 0 0 0 463.74,186.26 Z" fill="#b0d0d8" />
<path d="M464.27,192.36 A75.8,75.8 0 0 1 463.31,192.62 L461.75,186.82 A69.8,69.8 0 0 0 462.64,186.58 Z" fill="#9a8cc8" />
<path d="M463.31,192.62 A75.8,75.8 0 0 1 463.05,192.69 L461.52,186.89 A69.8,69.8 0 0 0 461.75,186.82 Z" fill="#b0d0d8" />
<path d="M463.05,192.69 A75.8,75.8 0 0 1 462.42,192.85 L460.94,187.04 A69.8,69.8 0 0 0 461.52,186.89 Z" fill="#60b8c0" />
<path d="M462.42,192.85 A75.8,75.8 0 0 1 461.82,193.00 L460.38,187.18 A69.8,69.8 0 0 0 460.94,187.04 Z" fill="#40b0a0" />
<path d="M461.82,193.00 A75.8,75.8 0 0 1 460.57,193.30 L459.24,187.45 A69.8,69.8 0 0 0 460.38,187.18 Z" fill="#9a8cc8" />
<path d="M460.57,193.30 A75.8,75.8 0 0 1 459.39,193.56 L458.15,187.69 A69.8,69.8 0 0 0 459.24,187.45 Z" fill="#40b0a0" />
<path d="M459.39,193.56 A75.8,75.8 0 0 1 458.78,193.69 L457.58,187.81 A69.8,69.8 0 0 0 458.15,187.69 Z" fill="#60b8c0" />
<path d="M473.56,180.27 A67.8,67.8 0 0 1 457.18,185.85 L454.56,172.91 A54.6,54.6 0 0 0 467.75,168.42 Z" fill="#f1f1f1" stroke="#c2c2c2" stroke-width="0.55"/>
<path d="M467.27,167.43 A53.5,53.5 0 0 1 454.34,171.83 L453.51,167.72 A49.3,49.3 0 0 0 465.42,163.66 Z" fill="#f1f1f1" stroke="#c2c2c2" stroke-width="0.55"/>
<path d="M464.93,162.67 A48.2,48.2 0 0 1 453.29,166.64 L452.05,160.56 A42.0,42.0 0 0 0 462.20,157.11 Z" fill="#f1f1f1" stroke="#c2c2c2" stroke-width="0.55"/>
<path d="M464.34,162.03 A47.36,47.36 0 0 1 453.36,165.76" fill="none" stroke="#6e5a5a" stroke-width="0.5"/>
<text x="474.45" y="210.31" font-size="8.6" text-anchor="middle" dominant-baseline="central" fill="#222" font-family='"Liberation Serif", "Times New Roman", serif' transform="rotate(161.20 474.45 210.31)">8</text>
<path d="M457.56,202.45 A84.2,84.2 0 0 1 437.08,203.34 L437.55,197.36 A78.2,78.2 0 0 0 456.57,196.53 Z" fill="#ececec" />
<path d="M457.56,202.45 A84.2,84.2 0 0 1 456.08,202.68 L455.20,196.75 A78.2,78.2 0 0 0 456.57,196.53 Z" fill="#1c1c1c" />
<path d="M455.24,202.80 A84.2,84.2 0 0 1 454.75,202.87 L453.96,196.92 A78.2,78.2 0 0 0 454.42,196.86 Z" fill="#b4b4b4" />
<path d="M454.68,202.88 A84.2,84.2 0 0 1 454.18,202.94 L453.44,196.99 A78.2,78.2 0 0 0 453.90,196.93 Z" fill="#ffffff" />
<path d="M453.88,202.98 A84.2,84.2 0 0 1 452.07,203.18 L451.47,197.21 A78.2,78.2 0 0 0 453.16,197.03 Z" fill="#e46a6a" />
<path d="M451.32,203.25 A84.2,84.2 0 0 1 450.86,203.30 L450.35,197.32 A78.2,78.2 0 0 0 450.77,197.28 Z" fill="#ffffff" />
<path d="M450.64,203.31 A84.2,84.2 0 0 1 449.33,203.41 L448.92,197.43 A78.2,78.2 0 0 0 450.14,197.33 Z" fill="#ffffff" />
<path d="M448.75,203.45 A84.2,84.2 0 0 1 446.92,203.54 L446.69,197.54 A78.2,78.2 0 0 0 448.39,197.46 Z" fill="#dedede" />
<path d="M446.58,203.55 A84.2,84.2 0 0 1 445.38,203.58 L445.26,197.58 A78.2,78.2 0 0 0 446.38,197.55 Z" fill="#1c1c1c" />
<path d="M445.23,203.59 A84.2,84.2 0 0 1 443.66,203.60 L443.66,197.60 A78.2,78.2 0 0 0 445.12,197.59 Z" fill="#1c1c1c" />
<path d="M443.07,203.60 A84.2,84.2 0 0 1 441.59,203.57 L441.74,197.58 A78.2,78.2 0 0 0 443.11,197.60 Z" fill="#ffffff" />
<path d="M441.32,203.57 A84.2,84.2 0 0 1 440.36,203.53 L440.60,197.54 A78.2,78.2 0 0 0 441.49,197.57 Z" fill="#ffffff" />
<path d="M440.24,203.53 A84.2,84.2 0 0 1 438.77,203.46 L439.12,197.47 A78.2,78.2 0 0 0 440.49,197.53 Z" fill="#b4b4b4" />
<path d="M438.56,203.44 A84.2,84.2 0 0 1 437.08,203.34 L437.55,197.36 A78.2,78.2 0 0 0 438.92,197.45 Z" fill="#ffffff" />
<path d="M456.17,194.17 A75.8,75.8 0 0 1 437.74,194.97 L438.21,188.98 A69.8,69.8 0 0 0 455.19,188.25 Z" fill="#a0c0c8" />
<path d="M456.17,194.17 A75.8,75.8 0 0 1 454.94,194.36 L454.05,188.43 A69.8,69.8 0 0 0 455.19,188.25 Z" fill="#60b8c0" />
<path d="M454.94,194.36 A75.8,75.8 0 0 1 454.59,194.41 L453.73,188.48 A69.8,69.8 0 0 0 454.05,188.43 Z" fill="#d0d8e0" />
<path d="M454.59,194.41 A75.8,75.8 0 0 1 454.14,194.48 L453.31,188.53 A69.8,69.8 0 0 0 453.73,188.48 Z" fill="#e8eef2" />
<path d="M454.14,194.48 A75.8,75.8 0 0 1 453.26,194.59 L452.50,188.64 A69.8,69.8 0 0 0 453.31,188.53 Z" fill="#c8b0d8" />
<path d="M453.26,194.59 A75.8,75.8 0 0 1 452.66,194.67 L451.95,188.71 A69.8,69.8 0 0 0 452.50,188.64 Z" fill="#e0c0d8" />
<path d="M452.66,194.67 A75.8,75.8 0 0 1 452.02,194.74 L451.36,188.78 A69.8,69.8 0 0 0 451.95,188.71 Z" fill="#60b8c0" />
<path d="M452.02,194.74 A75.8,75.8 0 0 1 450.88,194.86 L450.31,188.89 A69.8,69.8 0 0 0 451.36,188.78 Z" fill="#f0e0ea" />
<path d="M450.88,194.86 A75.8,75.8 0 0 1 450.37,194.91 L449.84,188.93 A69.8,69.8 0 0 0 450.31,188.89 Z" fill="#e0c0d8" />
<path d="M450.37,194.91 A75.8,75.8 0 0 1 449.24,195.00 L448.80,189.01 A69.8,69.8 0 0 0 449.84,188.93 Z" fill="#7898c0" />
<path d="M449.24,195.00 A75.8,75.8 0 0 1 448.68,195.04 L448.29,189.05 A69.8,69.8 0 0 0 448.80,189.01 Z" fill="#c8b0d8" />
<path d="M448.68,195.04 A75.8,75.8 0 0 1 447.95,195.08 L447.61,189.09 A69.8,69.8 0 0 0 448.29,189.05 Z" fill="#c8b0d8" />
<path d="M447.95,195.08 A75.8,75.8 0 0 1 446.74,195.14 L446.50,189.14 A69.8,69.8 0 0 0 447.61,189.09 Z" fill="#40b0a0" />
<path d="M446.74,195.14 A75.8,75.8 0 0 1 445.93,195.17 L445.75,189.17 A69.8,69.8 0 0 0 446.50,189.14 Z" fill="#9a8cc8" />
<path d="M445.93,195.17 A75.8,75.8 0 0 1 445.44,195.18 L445.30,189.18 A69.8,69.8 0 0 0 445.75,189.17 Z" fill="#b0d0d8" />
<path d="M445.44,195.18 A75.8,75.8 0 0 1 444.14,195.20 L444.11,189.20 A69.8,69.8 0 0 0 445.30,189.18 Z" fill="#f0e0ea" />
<path d="M444.14,195.20 A75.8,75.8 0 0 1 443.10,195.20 L443.15,189.20 A69.8,69.8 0 0 0 444.11,189.20 Z" fill="#a898d0" />
<path d="M443.10,195.20 A75.8,75.8 0 0 1 442.25,195.19 L442.36,189.19 A69.8,69.8 0 0 0 443.15,189.20 Z" fill="#9a8cc8" />
<path d="M442.25,195.19 A75.8,75.8 0 0 1 441.94,195.18 L442.08,189.18 A69.8,69.8 0 0 0 442.36,189.19 Z" fill="#5cc4b0" />
<path d="M441.94,195.18 A75.8,75.8 0 0 1 440.63,195.14 L440.87,189.14 A69.8,69.8 0 0 0 442.08,189.18 Z" fill="#40b0a0" />
<path d="M440.63,195.14 A75.8,75.8 0 0 1 439.46,195.08 L439.79,189.09 A69.8,69.8 0 0 0 440.87,189.14 Z" fill="#e0c0d8" />
<path d="M439.46,195.08 A75.8,75.8 0 0 1 439.18,195.06 L439.54,189.08 A69.8,69.8 0 0 0 439.79,189.09 Z" fill="#a898d0" />
<path d="M439.18,195.06 A75.8,75.8 0 0 1 438.73,195.04 L439.13,189.05 A69.8,69.8 0 0 0 439.54,189.08 Z" fill="#c8b0d8" />
<path d="M438.73,195.04 A75.8,75.8 0 0 1 438.38,195.01 L438.80,189.03 A69.8,69.8 0 0 0 439.13,189.05 Z" fill="#a898d0" />
<path d="M438.38,195.01 A75.8,75.8 0 0 1 438.04,194.99 L438.49,189.01 A69.8,69.8 0 0 0 438.80,189.03 Z" fill="#5cc4b0" />
<path d="M438.04,194.99 A75.8,75.8 0 0 1 437.74,194.97 L438.21,188.98 A69.8,69.8 0 0 0 438.49,189.01 Z" fill="#40b0a0" />
<path d="M454.86,186.28 A67.8,67.8 0 0 1 438.37,186.99 L439.41,173.83 A54.6,54.6 0 0 0 452.69,173.26 Z" fill="#f1f1f1" stroke="#c2c2c2" stroke-width="0.55"/>
<path d="M452.50,172.17 A53.5,53.5 0 0 1 439.49,172.73 L439.82,168.55 A49.3,49.3 0 0 0 451.81,168.03 Z" fill="#f1f1f1" stroke="#c2c2c2" stroke-width="0.55"/>
<path d="M451.63,166.94 A48.2,48.2 0 0 1 439.91,167.45 L440.40,161.27 A42.0,42.0 0 0 0 450.61,160.83 Z" fill="#f1f1f1" stroke="#c2c2c2" stroke-width="0.55"/>
<path d="M451.24,166.11 A47.32,47.32 0 0 1 440.23,166.59" fill="none" stroke="#6e5a5a" stroke-width="0.5"/>
<text x="447.83" y="215.31" font-size="8.6" text-anchor="middle" dominant-baseline="central" fill="#222" font-family='"Liberation Serif", "Times New Roman", serif' transform="rotate(177.52 447.83 215.31)">9</text>
<path d="M434.15,203.06 A84.2,84.2 0 0 1 414.87,198.51 L416.92,192.87 A78.2,78.2 0 0 0 434.83,197.10 Z" fill="#ececec" />
<path d="M434.15,203.06 A84.2,84.2 0 0 1 432.42,202.84 L433.22,196.89 A78.2,78.2 0 0 0 434.83,197.10 Z" fill="#1c1c1c" />
<path d="M432.27,202.82 A84.2,84.2 0 0 1 431.26,202.68 L432.14,196.74 A78.2,78.2 0 0 0 433.08,196.88 Z" fill="#ffffff" />
<path d="M431.10,202.65 A84.2,84.2 0 0 1 430.41,202.54 L431.36,196.62 A78.2,78.2 0 0 0 432.00,196.72 Z" fill="#dedede" />
<path d="M429.61,202.41 A84.2,84.2 0 0 1 428.66,202.25 L429.73,196.34 A78.2,78.2 0 0 0 430.61,196.50 Z" fill="#7a7a7a" />
<path d="M428.08,202.14 A84.2,84.2 0 0 1 427.21,201.97 L428.39,196.09 A78.2,78.2 0 0 0 429.20,196.24 Z" fill="#ffffff" />
<path d="M427.03,201.93 A84.2,84.2 0 0 1 426.33,201.79 L427.57,195.92 A78.2,78.2 0 0 0 428.21,196.05 Z" fill="#dedede" />
<path d="M426.06,201.73 A84.2,84.2 0 0 1 424.63,201.41 L425.99,195.57 A78.2,78.2 0 0 0 427.32,195.86 Z" fill="#b4b4b4" />
<path d="M424.53,201.39 A84.2,84.2 0 0 1 422.76,200.96 L424.26,195.14 A78.2,78.2 0 0 0 425.90,195.55 Z" fill="#dedede" />
<path d="M422.58,200.91 A84.2,84.2 0 0 1 422.17,200.80 L423.71,195.00 A78.2,78.2 0 0 0 424.09,195.10 Z" fill="#dedede" />
<path d="M422.07,200.77 A84.2,84.2 0 0 1 420.49,200.34 L422.15,194.57 A78.2,78.2 0 0 0 423.61,194.98 Z" fill="#ffffff" />
<path d="M420.35,200.30 A84.2,84.2 0 0 1 419.30,199.99 L421.04,194.25 A78.2,78.2 0 0 0 422.01,194.53 Z" fill="#ffffff" />
<path d="M418.54,199.75 A84.2,84.2 0 0 1 416.81,199.19 L418.73,193.51 A78.2,78.2 0 0 0 420.33,194.03 Z" fill="#ffffff" />
<path d="M416.61,199.12 A84.2,84.2 0 0 1 414.93,198.53 L416.98,192.90 A78.2,78.2 0 0 0 418.54,193.44 Z" fill="#7a7a7a" />
<path d="M435.11,194.71 A75.8,75.8 0 0 1 417.74,190.62 L419.80,184.98 A69.8,69.8 0 0 0 435.79,188.75 Z" fill="#a0c0c8" />
<path d="M435.11,194.71 A75.8,75.8 0 0 1 434.13,194.59 L434.89,188.64 A69.8,69.8 0 0 0 435.79,188.75 Z" fill="#7898c0" />
<path d="M434.13,194.59 A75.8,75.8 0 0 1 433.16,194.46 L433.99,188.52 A69.8,69.8 0 0 0 434.89,188.64 Z" fill="#7898c0" />
<path d="M433.16,194.46 A75.8,75.8 0 0 1 432.25,194.33 L433.16,188.40 A69.8,69.8 0 0 0 433.99,188.52 Z" fill="#9a8cc8" />
<path d="M432.25,194.33 A75.8,75.8 0 0 1 431.38,194.19 L432.36,188.27 A69.8,69.8 0 0 0 433.16,188.40 Z" fill="#40b0a0" />
<path d="M431.38,194.19 A75.8,75.8 0 0 1 430.58,194.06 L431.62,188.15 A69.8,69.8 0 0 0 432.36,188.27 Z" fill="#88b0d0" />
<path d="M430.58,194.06 A75.8,75.8 0 0 1 429.74,193.90 L430.84,188.01 A69.8,69.8 0 0 0 431.62,188.15 Z" fill="#9a8cc8" />
<path d="M429.74,193.90 A75.8,75.8 0 0 1 428.47,193.65 L429.67,187.78 A69.8,69.8 0 0 0 430.84,188.01 Z" fill="#d0d8e0" />
<path d="M428.47,193.65 A75.8,75.8 0 0 1 427.85,193.52 L429.11,187.66 A69.8,69.8 0 0 0 429.67,187.78 Z" fill="#f0e0ea" />
<path d="M427.85,193.52 A75.8,75.8 0 0 1 427.10,193.36 L428.41,187.51 A69.8,69.8 0 0 0 429.11,187.66 Z" fill="#c8b0d8" />
<path d="M427.10,193.36 A75.8,75.8 0 0 1 426.02,193.11 L427.42,187.28 A69.8,69.8 0 0 0 428.41,187.51 Z" fill="#60b8c0" />
<path d="M426.02,193.11 A75.8,75.8 0 0 1 424.88,192.83 L426.37,187.01 A69.8,69.8 0 0 0 427.42,187.28 Z" fill="#88b0d0" />
<path d="M424.88,192.83 A75.8,75.8 0 0 1 424.55,192.74 L426.06,186.94 A69.8,69.8 0 0 0 426.37,187.01 Z" fill="#e8eef2" />
<path d="M424.55,192.74 A75.8,75.8 0 0 1 424.22,192.65 L425.76,186.86 A69.8,69.8 0 0 0 426.06,186.94 Z" fill="#60b8c0" />
<path d="M424.22,192.65 A75.8,75.8 0 0 1 423.73,192.52 L425.31,186.73 A69.8,69.8 0 0 0 425.76,186.86 Z" fill="#d0d8e0" />
<path d="M423.73,192.52 A75.8,75.8 0 0 1 423.34,192.42 L424.95,186.64 A69.8,69.8 0 0 0 425.31,186.73 Z" fill="#60b8c0" />
<path d="M423.34,192.42 A75.8,75.8 0 0 1 422.66,192.22 L424.33,186.46 A69.8,69.8 0 0 0 424.95,186.64 Z" fill="#e8eef2" />
<path d="M422.66,192.22 A75.8,75.8 0 0 1 422.11,192.06 L423.82,186.31 A69.8,69.8 0 0 0 424.33,186.46 Z" fill="#5cc4b0" />
<path d="M422.11,192.06 A75.8,75.8 0 0 1 421.57,191.90 L423.32,186.16 A69.8,69.8 0 0 0 423.82,186.31 Z" fill="#88b0d0" />
<path d="M421.57,191.90 A75.8,75.8 0 0 1 420.64,191.61 L422.47,185.89 A69.8,69.8 0 0 0 423.32,186.16 Z" fill="#60b8c0" />
<path d="M420.64,191.61 A75.8,75.8 0 0 1 420.34,191.51 L422.19,185.80 A69.8,69.8 0 0 0 422.47,185.89 Z" fill="#60b8c0" />
<path d="M420.34,191.51 A75.8,75.8 0 0 1 419.89,191.36 L421.77,185.67 A69.8,69.8 0 0 0 422.19,185.80 Z" fill="#d0d8e0" />
<path d="M419.89,191.36 A75.8,75.8 0 0 1 418.89,191.02 L420.85,185.35 A69.8,69.8 0 0 0 421.77,185.67 Z" fill="#b0d0d8" />
<path d="M418.89,191.02 A75.8,75.8 0 0 1 418.51,190.89 L420.50,185.23 A69.8,69.8 0 0 0 420.85,185.35 Z" fill="#88b0d0" />
<path d="M418.51,190.89 A75.8,75.8 0 0 1 417.74,190.62 L419.80,184.98 A69.8,69.8 0 0 0 420.50,185.23 Z" fill="#7898c0" />
<path d="M436.01,186.76 A67.8,67.8 0 0 1 420.48,183.10 L425.00,170.70 A54.6,54.6 0 0 0 437.51,173.65 Z" fill="#f1f1f1" stroke="#c2c2c2" stroke-width="0.55"/>
<path d="M437.64,172.56 A53.5,53.5 0 0 1 425.38,169.67 L426.82,165.72 A49.3,49.3 0 0 0 438.11,168.38 Z" fill="#f1f1f1" stroke="#c2c2c2" stroke-width="0.55"/>
<path d="M438.24,167.29 A48.2,48.2 0 0 1 427.19,164.69 L429.32,158.86 A42.0,42.0 0 0 0 438.94,161.13 Z" fill="#f1f1f1" stroke="#c2c2c2" stroke-width="0.55"/>
<path d="M438.16,165.76 A46.69,46.69 0 0 1 427.94,163.35" fill="none" stroke="#6e5a5a" stroke-width="0.5"/>
<text x="421.81" y="212.85" font-size="8.6" text-anchor="middle" dominant-baseline="central" fill="#222" font-family='"Liberation Serif", "Times New Roman", serif' transform="rotate(193.27 421.81 212.85)">10</text>
<path d="M412.12,197.45 A84.2,84.2 0 0 1 394.60,187.80 L398.10,182.93 A78.2,78.2 0 0 0 414.37,191.89 Z" fill="#ececec" />
<path d="M412.12,197.45 A84.2,84.2 0 0 1 410.45,196.76 L412.82,191.25 A78.2,78.2 0 0 0 414.37,191.89 Z" fill="#1c1c1c" />
<path d="M410.18,196.64 A84.2,84.2 0 0 1 408.80,196.03 L411.29,190.57 A78.2,78.2 0 0 0 412.57,191.13 Z" fill="#ffffff" />
<path d="M408.58,195.92 A84.2,84.2 0 0 1 407.90,195.61 L410.45,190.18 A78.2,78.2 0 0 0 411.08,190.47 Z" fill="#dedede" />
<path d="M407.82,195.57 A84.2,84.2 0 0 1 406.27,194.82 L408.93,189.45 A78.2,78.2 0 0 0 410.38,190.15 Z" fill="#7a7a7a" />
<path d="M406.17,194.77 A84.2,84.2 0 0 1 405.42,194.39 L408.15,189.05 A78.2,78.2 0 0 0 408.84,189.40 Z" fill="#ffffff" />
<path d="M404.68,194.01 A84.2,84.2 0 0 1 403.02,193.12 L405.92,187.87 A78.2,78.2 0 0 0 407.46,188.70 Z" fill="#ffffff" />
<path d="M402.54,192.85 A84.2,84.2 0 0 1 401.12,192.04 L404.15,186.86 A78.2,78.2 0 0 0 405.47,187.62 Z" fill="#dedede" />
<path d="M400.90,191.91 A84.2,84.2 0 0 1 399.36,190.98 L402.52,185.88 A78.2,78.2 0 0 0 403.95,186.75 Z" fill="#ffffff" />
<path d="M398.66,190.54 A84.2,84.2 0 0 1 397.28,189.65 L400.59,184.64 A78.2,78.2 0 0 0 401.87,185.47 Z" fill="#b4b4b4" />
<path d="M397.08,189.52 A84.2,84.2 0 0 1 396.65,189.23 L400.00,184.25 A78.2,78.2 0 0 0 400.40,184.52 Z" fill="#dedede" />
<path d="M396.28,188.97 A84.2,84.2 0 0 1 395.18,188.21 L398.64,183.31 A78.2,78.2 0 0 0 399.65,184.02 Z" fill="#ffffff" />
<path d="M394.91,188.02 A84.2,84.2 0 0 1 394.60,187.80 L398.10,182.93 A78.2,78.2 0 0 0 398.39,183.13 Z" fill="#ffffff" />
<path d="M415.27,189.67 A75.8,75.8 0 0 1 399.50,180.98 L402.99,176.10 A69.8,69.8 0 0 0 417.52,184.11 Z" fill="#a0c0c8" />
<path d="M415.27,189.67 A75.8,75.8 0 0 1 414.56,189.37 L416.86,183.83 A69.8,69.8 0 0 0 417.52,184.11 Z" fill="#60b8c0" />
<path d="M414.56,189.37 A75.8,75.8 0 0 1 413.46,188.90 L415.85,183.40 A69.8,69.8 0 0 0 416.86,183.83 Z" fill="#40b0a0" />
<path d="M413.46,188.90 A75.8,75.8 0 0 1 412.57,188.51 L415.03,183.04 A69.8,69.8 0 0 0 415.85,183.40 Z" fill="#e0c0d8" />
<path d="M412.57,188.51 A75.8,75.8 0 0 1 411.58,188.06 L414.12,182.62 A69.8,69.8 0 0 0 415.03,183.04 Z" fill="#d0d8e0" />
<path d="M411.58,188.06 A75.8,75.8 0 0 1 410.63,187.61 L413.25,182.21 A69.8,69.8 0 0 0 414.12,182.62 Z" fill="#5cc4b0" />
<path d="M410.63,187.61 A75.8,75.8 0 0 1 409.82,187.20 L412.50,181.84 A69.8,69.8 0 0 0 413.25,182.21 Z" fill="#7898c0" />
<path d="M409.82,187.20 A75.8,75.8 0 0 1 409.03,186.81 L411.78,181.47 A69.8,69.8 0 0 0 412.50,181.84 Z" fill="#60b8c0" />
<path d="M409.03,186.81 A75.8,75.8 0 0 1 408.24,186.39 L411.05,181.09 A69.8,69.8 0 0 0 411.78,181.47 Z" fill="#c8b0d8" />
<path d="M408.24,186.39 A75.8,75.8 0 0 1 407.68,186.10 L410.54,180.82 A69.8,69.8 0 0 0 411.05,181.09 Z" fill="#a898d0" />
<path d="M407.68,186.10 A75.8,75.8 0 0 1 406.81,185.62 L409.73,180.38 A69.8,69.8 0 0 0 410.54,180.82 Z" fill="#5cc4b0" />
<path d="M406.81,185.62 A75.8,75.8 0 0 1 405.99,185.15 L408.97,179.95 A69.8,69.8 0 0 0 409.73,180.38 Z" fill="#a898d0" />
<path d="M405.99,185.15 A75.8,75.8 0 0 1 405.04,184.60 L408.10,179.44 A69.8,69.8 0 0 0 408.97,179.95 Z" fill="#9a8cc8" />
<path d="M405.04,184.60 A75.8,75.8 0 0 1 404.59,184.33 L407.69,179.19 A69.8,69.8 0 0 0 408.10,179.44 Z" fill="#40b0a0" />
<path d="M404.59,184.33 A75.8,75.8 0 0 1 403.56,183.70 L406.73,178.61 A69.8,69.8 0 0 0 407.69,179.19 Z" fill="#c8b0d8" />
<path d="M403.56,183.70 A75.8,75.8 0 0 1 402.62,183.10 L405.87,178.06 A69.8,69.8 0 0 0 406.73,178.61 Z" fill="#60b8c0" />
<path d="M402.62,183.10 A75.8,75.8 0 0 1 401.97,182.68 L405.28,177.67 A69.8,69.8 0 0 0 405.87,178.06 Z" fill="#5cc4b0" />
<path d="M401.97,182.68 A75.8,75.8 0 0 1 401.48,182.35 L404.82,177.37 A69.8,69.8 0 0 0 405.28,177.67 Z" fill="#e0c0d8" />
<path d="M401.48,182.35 A75.8,75.8 0 0 1 400.55,181.72 L403.96,176.78 A69.8,69.8 0 0 0 404.82,177.37 Z" fill="#7898c0" />
<path d="M400.55,181.72 A75.8,75.8 0 0 1 399.60,181.05 L403.10,176.17 A69.8,69.8 0 0 0 403.96,176.78 Z" fill="#9a8cc8" />
<path d="M399.60,181.05 A75.8,75.8 0 0 1 399.50,180.98 L402.99,176.10 A69.8,69.8 0 0 0 403.10,176.17 Z" fill="#c8b0d8" />
<path d="M418.27,182.25 A67.8,67.8 0 0 1 404.16,174.48 L411.86,163.75 A54.6,54.6 0 0 0 423.22,170.01 Z" fill="#f1f1f1" stroke="#c2c2c2" stroke-width="0.55"/>
<path d="M423.64,168.99 A53.5,53.5 0 0 1 412.50,162.86 L414.95,159.45 A49.3,49.3 0 0 0 425.21,165.10 Z" fill="#f1f1f1" stroke="#c2c2c2" stroke-width="0.55"/>
<path d="M425.62,164.08 A48.2,48.2 0 0 1 415.59,158.55 L419.21,153.52 A42.0,42.0 0 0 0 427.95,158.33 Z" fill="#f1f1f1" stroke="#c2c2c2" stroke-width="0.55"/>
<path d="M425.84,162.90 A47.03,47.03 0 0 1 416.48,157.74" fill="none" stroke="#6e5a5a" stroke-width="0.5"/>
<text x="397.67" y="203.56" font-size="8.6" text-anchor="middle" dominant-baseline="central" fill="#222" font-family='"Liberation Serif", "Times New Roman", serif' transform="rotate(208.85 397.67 203.56)">11</text>
<path d="M392.24,186.04 A84.2,84.2 0 0 1 378.14,172.23 L382.81,168.46 A78.2,78.2 0 0 0 395.91,181.29 Z" fill="#ececec" />
<path d="M392.24,186.04 A84.2,84.2 0 0 1 391.84,185.73 L395.53,181.01 A78.2,78.2 0 0 0 395.91,181.29 Z" fill="#ffffff" />
<path d="M391.53,185.49 A84.2,84.2 0 0 1 390.43,184.60 L394.22,179.96 A78.2,78.2 0 0 0 395.25,180.78 Z" fill="#ffffff" />
<path d="M390.14,184.36 A84.2,84.2 0 0 1 389.47,183.81 L393.33,179.22 A78.2,78.2 0 0 0 393.95,179.74 Z" fill="#ffffff" />
<path d="M388.87,183.30 A84.2,84.2 0 0 1 387.54,182.13 L391.54,177.66 A78.2,78.2 0 0 0 392.77,178.75 Z" fill="#1c1c1c" />
<path d="M387.44,182.05 A84.2,84.2 0 0 1 386.14,180.86 L390.24,176.48 A78.2,78.2 0 0 0 391.45,177.58 Z" fill="#1c1c1c" />
<path d="M386.10,180.81 A84.2,84.2 0 0 1 385.53,180.27 L389.67,175.94 A78.2,78.2 0 0 0 390.20,176.44 Z" fill="#dedede" />
<path d="M385.40,180.15 A84.2,84.2 0 0 1 384.46,179.24 L388.68,174.97 A78.2,78.2 0 0 0 389.56,175.82 Z" fill="#7a7a7a" />
<path d="M384.09,178.87 A84.2,84.2 0 0 1 382.78,177.52 L387.12,173.38 A78.2,78.2 0 0 0 388.34,174.63 Z" fill="#b4b4b4" />
<path d="M382.33,177.05 A84.2,84.2 0 0 1 381.57,176.23 L386.00,172.18 A78.2,78.2 0 0 0 386.71,172.95 Z" fill="#7a7a7a" />
<path d="M381.49,176.14 A84.2,84.2 0 0 1 380.72,175.28 L385.20,171.30 A78.2,78.2 0 0 0 385.92,172.09 Z" fill="#ffffff" />
<path d="M380.50,175.03 A84.2,84.2 0 0 1 379.83,174.27 L384.39,170.36 A78.2,78.2 0 0 0 385.00,171.07 Z" fill="#ffffff" />
<path d="M379.54,173.93 A84.2,84.2 0 0 1 379.07,173.37 L383.68,169.52 A78.2,78.2 0 0 0 384.11,170.04 Z" fill="#dedede" />
<path d="M378.77,173.01 A84.2,84.2 0 0 1 378.14,172.23 L382.81,168.46 A78.2,78.2 0 0 0 383.40,169.19 Z" fill="#1c1c1c" />
<path d="M397.37,179.40 A75.8,75.8 0 0 1 384.68,166.96 L389.35,163.19 A69.8,69.8 0 0 0 401.04,174.65 Z" fill="#a0c0c8" />
<path d="M397.37,179.40 A75.8,75.8 0 0 1 396.60,178.79 L400.33,174.09 A69.8,69.8 0 0 0 401.04,174.65 Z" fill="#a898d0" />
<path d="M396.60,178.79 A75.8,75.8 0 0 1 396.03,178.33 L399.80,173.67 A69.8,69.8 0 0 0 400.33,174.09 Z" fill="#e8eef2" />
<path d="M396.03,178.33 A75.8,75.8 0 0 1 395.49,177.89 L399.31,173.26 A69.8,69.8 0 0 0 399.80,173.67 Z" fill="#5cc4b0" />
<path d="M395.49,177.89 A75.8,75.8 0 0 1 395.13,177.60 L398.98,172.99 A69.8,69.8 0 0 0 399.31,173.26 Z" fill="#a898d0" />
<path d="M395.13,177.60 A75.8,75.8 0 0 1 394.73,177.26 L398.61,172.68 A69.8,69.8 0 0 0 398.98,172.99 Z" fill="#e8eef2" />
<path d="M394.73,177.26 A75.8,75.8 0 0 1 394.22,176.82 L398.13,172.27 A69.8,69.8 0 0 0 398.61,172.68 Z" fill="#88b0d0" />
<path d="M394.22,176.82 A75.8,75.8 0 0 1 393.50,176.19 L397.47,171.70 A69.8,69.8 0 0 0 398.13,172.27 Z" fill="#b0d0d8" />
<path d="M393.50,176.19 A75.8,75.8 0 0 1 393.00,175.75 L397.01,171.29 A69.8,69.8 0 0 0 397.47,171.70 Z" fill="#9a8cc8" />
<path d="M393.00,175.75 A75.8,75.8 0 0 1 392.29,175.10 L396.36,170.69 A69.8,69.8 0 0 0 397.01,171.29 Z" fill="#9a8cc8" />
<path d="M392.29,175.10 A75.8,75.8 0 0 1 392.05,174.87 L396.13,170.48 A69.8,69.8 0 0 0 396.36,170.69 Z" fill="#f0e0ea" />
<path d="M392.05,174.87 A75.8,75.8 0 0 1 391.41,174.28 L395.55,169.93 A69.8,69.8 0 0 0 396.13,170.48 Z" fill="#7898c0" />
<path d="M391.41,174.28 A75.8,75.8 0 0 1 391.20,174.07 L395.35,169.74 A69.8,69.8 0 0 0 395.55,169.93 Z" fill="#c8b0d8" />
<path d="M391.20,174.07 A75.8,75.8 0 0 1 390.69,173.58 L394.89,169.29 A69.8,69.8 0 0 0 395.35,169.74 Z" fill="#e0c0d8" />
<path d="M390.69,173.58 A75.8,75.8 0 0 1 389.82,172.72 L394.09,168.50 A69.8,69.8 0 0 0 394.89,169.29 Z" fill="#9a8cc8" />
<path d="M389.82,172.72 A75.8,75.8 0 0 1 389.54,172.43 L393.83,168.23 A69.8,69.8 0 0 0 394.09,168.50 Z" fill="#b0d0d8" />
<path d="M389.54,172.43 A75.8,75.8 0 0 1 388.96,171.83 L393.29,167.68 A69.8,69.8 0 0 0 393.83,168.23 Z" fill="#c8b0d8" />
<path d="M388.96,171.83 A75.8,75.8 0 0 1 388.58,171.43 L392.94,167.32 A69.8,69.8 0 0 0 393.29,167.68 Z" fill="#a898d0" />
<path d="M388.58,171.43 A75.8,75.8 0 0 1 388.22,171.05 L392.61,166.96 A69.8,69.8 0 0 0 392.94,167.32 Z" fill="#40b0a0" />
<path d="M388.22,171.05 A75.8,75.8 0 0 1 387.71,170.50 L392.14,166.45 A69.8,69.8 0 0 0 392.61,166.96 Z" fill="#60b8c0" />
<path d="M387.71,170.50 A75.8,75.8 0 0 1 386.98,169.68 L391.47,165.70 A69.8,69.8 0 0 0 392.14,166.45 Z" fill="#f0e0ea" />
<path d="M386.98,169.68 A75.8,75.8 0 0 1 386.33,168.94 L390.87,165.02 A69.8,69.8 0 0 0 391.47,165.70 Z" fill="#88b0d0" />
<path d="M386.33,168.94 A75.8,75.8 0 0 1 385.52,167.99 L390.13,164.14 A69.8,69.8 0 0 0 390.87,165.02 Z" fill="#5cc4b0" />
<path d="M385.52,167.99 A75.8,75.8 0 0 1 385.30,167.73 L389.93,163.90 A69.8,69.8 0 0 0 390.13,164.14 Z" fill="#60b8c0" />
<path d="M385.30,167.73 A75.8,75.8 0 0 1 384.79,167.10 L389.45,163.33 A69.8,69.8 0 0 0 389.93,163.90 Z" fill="#d0d8e0" />
<path d="M384.79,167.10 A75.8,75.8 0 0 1 384.68,166.96 L389.35,163.19 A69.8,69.8 0 0 0 389.45,163.33 Z" fill="#9a8cc8" />
<path d="M402.26,173.06 A67.8,67.8 0 0 1 390.91,161.94 L401.18,153.66 A54.6,54.6 0 0 0 410.33,162.62 Z" fill="#f1f1f1" stroke="#c2c2c2" stroke-width="0.55"/>
<path d="M411.00,161.75 A53.5,53.5 0 0 1 402.04,152.97 L405.31,150.33 A49.3,49.3 0 0 0 413.57,158.42 Z" fill="#f1f1f1" stroke="#c2c2c2" stroke-width="0.55"/>
<path d="M414.24,157.55 A48.2,48.2 0 0 1 406.17,149.64 L411.00,145.75 A42.0,42.0 0 0 0 418.03,152.64 Z" fill="#f1f1f1" stroke="#c2c2c2" stroke-width="0.55"/>
<path d="M415.00,156.17 A46.64,46.64 0 0 1 407.53,148.86" fill="none" stroke="#6e5a5a" stroke-width="0.5"/>
<text x="376.94" y="188.15" font-size="8.6" text-anchor="middle" dominant-baseline="central" fill="#222" font-family='"Liberation Serif", "Times New Roman", serif' transform="rotate(224.41 376.94 188.15)">12</text>
<path d="M376.33,169.91 A84.2,84.2 0 0 1 367.58,155.39 L373.00,152.83 A78.2,78.2 0 0 0 381.13,166.31 Z" fill="#ececec" />
<path d="M376.33,169.91 A84.2,84.2 0 0 1 375.29,168.50 L380.17,165.00 A78.2,78.2 0 0 0 381.13,166.31 Z" fill="#dedede" />
<path d="M374.86,167.88 A84.2,84.2 0 0 1 373.94,166.55 L378.91,163.19 A78.2,78.2 0 0 0 379.76,164.43 Z" fill="#dedede" />
<path d="M373.86,166.44 A84.2,84.2 0 0 1 373.39,165.73 L378.40,162.43 A78.2,78.2 0 0 0 378.84,163.09 Z" fill="#b4b4b4" />
<path d="M373.23,165.49 A84.2,84.2 0 0 1 372.85,164.90 L377.90,161.66 A78.2,78.2 0 0 0 378.25,162.20 Z" fill="#dedede" />
<path d="M372.63,164.55 A84.2,84.2 0 0 1 371.91,163.40 L377.03,160.27 A78.2,78.2 0 0 0 377.69,161.33 Z" fill="#7a7a7a" />
<path d="M371.90,163.38 A84.2,84.2 0 0 1 371.19,162.20 L376.36,159.15 A78.2,78.2 0 0 0 377.01,160.24 Z" fill="#ffffff" />
<path d="M370.95,161.79 A84.2,84.2 0 0 1 370.59,161.16 L375.80,158.18 A78.2,78.2 0 0 0 376.14,158.77 Z" fill="#7a7a7a" />
<path d="M370.38,160.80 A84.2,84.2 0 0 1 370.10,160.30 L375.35,157.39 A78.2,78.2 0 0 0 375.60,157.85 Z" fill="#dedede" />
<path d="M369.91,159.95 A84.2,84.2 0 0 1 369.17,158.57 L374.48,155.78 A78.2,78.2 0 0 0 375.17,157.06 Z" fill="#1c1c1c" />
<path d="M368.76,157.79 A84.2,84.2 0 0 1 367.87,155.99 L373.27,153.38 A78.2,78.2 0 0 0 374.10,155.05 Z" fill="#ffffff" />
<path d="M367.67,155.57 A84.2,84.2 0 0 1 367.58,155.39 L373.00,152.83 A78.2,78.2 0 0 0 373.08,152.99 Z" fill="#1c1c1c" />
<path d="M383.05,164.87 A75.8,75.8 0 0 1 375.17,151.80 L380.60,149.24 A69.8,69.8 0 0 0 387.85,161.27 Z" fill="#a0c0c8" />
<path d="M383.05,164.87 A75.8,75.8 0 0 1 382.32,163.88 L387.18,160.36 A69.8,69.8 0 0 0 387.85,161.27 Z" fill="#88b0d0" />
<path d="M382.32,163.88 A75.8,75.8 0 0 1 381.77,163.11 L386.67,159.65 A69.8,69.8 0 0 0 387.18,160.36 Z" fill="#5cc4b0" />
<path d="M381.77,163.11 A75.8,75.8 0 0 1 381.46,162.67 L386.39,159.24 A69.8,69.8 0 0 0 386.67,159.65 Z" fill="#b0d0d8" />
<path d="M381.46,162.67 A75.8,75.8 0 0 1 381.03,162.04 L385.99,158.67 A69.8,69.8 0 0 0 386.39,159.24 Z" fill="#c8b0d8" />
<path d="M381.03,162.04 A75.8,75.8 0 0 1 380.66,161.49 L385.65,158.16 A69.8,69.8 0 0 0 385.99,158.67 Z" fill="#60b8c0" />
<path d="M380.66,161.49 A75.8,75.8 0 0 1 380.01,160.51 L385.05,157.25 A69.8,69.8 0 0 0 385.65,158.16 Z" fill="#40b0a0" />
<path d="M380.01,160.51 A75.8,75.8 0 0 1 379.82,160.20 L384.87,156.97 A69.8,69.8 0 0 0 385.05,157.25 Z" fill="#7898c0" />
<path d="M379.82,160.20 A75.8,75.8 0 0 1 379.17,159.16 L384.28,156.02 A69.8,69.8 0 0 0 384.87,156.97 Z" fill="#9a8cc8" />
<path d="M379.17,159.16 A75.8,75.8 0 0 1 378.59,158.20 L383.74,155.13 A69.8,69.8 0 0 0 384.28,156.02 Z" fill="#e8eef2" />
<path d="M378.59,158.20 A75.8,75.8 0 0 1 378.25,157.64 L383.43,154.61 A69.8,69.8 0 0 0 383.74,155.13 Z" fill="#e8eef2" />
<path d="M378.25,157.64 A75.8,75.8 0 0 1 377.69,156.66 L382.92,153.72 A69.8,69.8 0 0 0 383.43,154.61 Z" fill="#b0d0d8" />
<path d="M377.69,156.66 A75.8,75.8 0 0 1 377.56,156.42 L382.79,153.49 A69.8,69.8 0 0 0 382.92,153.72 Z" fill="#f0e0ea" />
<path d="M377.56,156.42 A75.8,75.8 0 0 1 377.08,155.55 L382.35,152.69 A69.8,69.8 0 0 0 382.79,153.49 Z" fill="#e0c0d8" />
<path d="M377.08,155.55 A75.8,75.8 0 0 1 376.70,154.84 L382.00,152.04 A69.8,69.8 0 0 0 382.35,152.69 Z" fill="#b0d0d8" />
<path d="M376.70,154.84 A75.8,75.8 0 0 1 376.32,154.12 L381.65,151.37 A69.8,69.8 0 0 0 382.00,152.04 Z" fill="#f0e0ea" />
<path d="M376.32,154.12 A75.8,75.8 0 0 1 375.80,153.08 L381.17,150.42 A69.8,69.8 0 0 0 381.65,151.37 Z" fill="#f0e0ea" />
<path d="M375.80,153.08 A75.8,75.8 0 0 1 375.50,152.49 L380.90,149.87 A69.8,69.8 0 0 0 381.17,150.42 Z" fill="#b0d0d8" />
<path d="M375.50,152.49 A75.8,75.8 0 0 1 375.17,151.80 L380.60,149.24 A69.8,69.8 0 0 0 380.90,149.87 Z" fill="#f0e0ea" />
<path d="M389.45,160.07 A67.8,67.8 0 0 1 382.41,148.38 L394.34,142.74 A54.6,54.6 0 0 0 400.01,152.15 Z" fill="#f1f1f1" stroke="#c2c2c2" stroke-width="0.55"/>
<path d="M400.89,151.49 A53.5,53.5 0 0 1 395.33,142.27 L399.13,140.47 A49.3,49.3 0 0 0 404.26,148.97 Z" fill="#f1f1f1" stroke="#c2c2c2" stroke-width="0.55"/>
<path d="M405.14,148.31 A48.2,48.2 0 0 1 400.13,140.00 L405.73,137.35 A42.0,42.0 0 0 0 410.10,144.59 Z" fill="#f1f1f1" stroke="#c2c2c2" stroke-width="0.55"/>
<path d="M405.78,147.52 A47.21,47.21 0 0 1 401.13,139.80" fill="none" stroke="#6e5a5a" stroke-width="0.5"/>
<text x="362.00" y="169.25" font-size="8.6" text-anchor="middle" dominant-baseline="central" fill="#222" font-family='"Liberation Serif", "Times New Roman", serif' transform="rotate(238.92 362.00 169.25)">13</text>
<path d="M366.37,152.71 A84.2,84.2 0 0 1 361.49,137.61 L367.35,136.32 A78.2,78.2 0 0 0 371.88,150.34 Z" fill="#ececec" />
<path d="M366.37,152.71 A84.2,84.2 0 0 1 366.00,151.84 L371.54,149.53 A78.2,78.2 0 0 0 371.88,150.34 Z" fill="#7a7a7a" />
<path d="M365.79,151.34 A84.2,84.2 0 0 1 365.56,150.78 L371.13,148.54 A78.2,78.2 0 0 0 371.34,149.06 Z" fill="#ffffff" />
<path d="M365.55,150.74 A84.2,84.2 0 0 1 365.20,149.85 L370.79,147.68 A78.2,78.2 0 0 0 371.12,148.51 Z" fill="#ffffff" />
<path d="M364.98,149.28 A84.2,84.2 0 0 1 364.68,148.48 L370.31,146.41 A78.2,78.2 0 0 0 370.59,147.15 Z" fill="#ffffff" />
<path d="M364.46,147.88 A84.2,84.2 0 0 1 364.20,147.14 L369.87,145.17 A78.2,78.2 0 0 0 370.11,145.85 Z" fill="#ffffff" />
<path d="M364.17,147.06 A84.2,84.2 0 0 1 364.01,146.58 L369.69,144.64 A78.2,78.2 0 0 0 369.84,145.09 Z" fill="#1c1c1c" />
<path d="M363.86,146.14 A84.2,84.2 0 0 1 363.59,145.31 L369.30,143.47 A78.2,78.2 0 0 0 369.55,144.24 Z" fill="#ffffff" />
<path d="M363.35,144.58 A84.2,84.2 0 0 1 363.13,143.87 L368.87,142.12 A78.2,78.2 0 0 0 369.08,142.78 Z" fill="#7a7a7a" />
<path d="M362.93,143.18 A84.2,84.2 0 0 1 362.66,142.24 L368.43,140.61 A78.2,78.2 0 0 0 368.68,141.48 Z" fill="#ffffff" />
<path d="M362.43,141.41 A84.2,84.2 0 0 1 362.22,140.63 L368.03,139.12 A78.2,78.2 0 0 0 368.22,139.84 Z" fill="#1c1c1c" />
<path d="M362.21,140.57 A84.2,84.2 0 0 1 361.76,138.77 L367.60,137.39 A78.2,78.2 0 0 0 368.01,139.06 Z" fill="#e46a6a" />
<path d="M361.61,138.12 A84.2,84.2 0 0 1 361.49,137.61 L367.35,136.32 A78.2,78.2 0 0 0 367.46,136.78 Z" fill="#dedede" />
<path d="M374.09,149.39 A75.8,75.8 0 0 1 369.69,135.80 L375.55,134.50 A69.8,69.8 0 0 0 379.60,147.02 Z" fill="#a0c0c8" />
<path d="M374.09,149.39 A75.8,75.8 0 0 1 373.74,148.58 L379.28,146.27 A69.8,69.8 0 0 0 379.60,147.02 Z" fill="#f0e0ea" />
<path d="M373.74,148.58 A75.8,75.8 0 0 1 373.44,147.86 L379.01,145.60 A69.8,69.8 0 0 0 379.28,146.27 Z" fill="#e8eef2" />
<path d="M373.44,147.86 A75.8,75.8 0 0 1 373.30,147.49 L378.87,145.27 A69.8,69.8 0 0 0 379.01,145.60 Z" fill="#5cc4b0" />
<path d="M373.30,147.49 A75.8,75.8 0 0 1 373.14,147.09 L378.72,144.90 A69.8,69.8 0 0 0 378.87,145.27 Z" fill="#5cc4b0" />
<path d="M373.14,147.09 A75.8,75.8 0 0 1 373.02,146.77 L378.61,144.61 A69.8,69.8 0 0 0 378.72,144.90 Z" fill="#c8b0d8" />
<path d="M373.02,146.77 A75.8,75.8 0 0 1 372.79,146.19 L378.40,144.07 A69.8,69.8 0 0 0 378.61,144.61 Z" fill="#7898c0" />
<path d="M372.79,146.19 A75.8,75.8 0 0 1 372.51,145.42 L378.14,143.36 A69.8,69.8 0 0 0 378.40,144.07 Z" fill="#60b8c0" />
<path d="M372.51,145.42 A75.8,75.8 0 0 1 372.19,144.53 L377.85,142.54 A69.8,69.8 0 0 0 378.14,143.36 Z" fill="#e0c0d8" />
<path d="M372.19,144.53 A75.8,75.8 0 0 1 371.86,143.58 L377.55,141.67 A69.8,69.8 0 0 0 377.85,142.54 Z" fill="#88b0d0" />
<path d="M371.86,143.58 A75.8,75.8 0 0 1 371.71,143.13 L377.41,141.25 A69.8,69.8 0 0 0 377.55,141.67 Z" fill="#60b8c0" />
<path d="M371.71,143.13 A75.8,75.8 0 0 1 371.52,142.54 L377.23,140.71 A69.8,69.8 0 0 0 377.41,141.25 Z" fill="#f0e0ea" />
<path d="M371.52,142.54 A75.8,75.8 0 0 1 371.30,141.83 L377.03,140.06 A69.8,69.8 0 0 0 377.23,140.71 Z" fill="#a898d0" />
<path d="M371.30,141.83 A75.8,75.8 0 0 1 371.22,141.58 L376.96,139.82 A69.8,69.8 0 0 0 377.03,140.06 Z" fill="#60b8c0" />
<path d="M371.22,141.58 A75.8,75.8 0 0 1 371.13,141.28 L376.87,139.55 A69.8,69.8 0 0 0 376.96,139.82 Z" fill="#e0c0d8" />
<path d="M371.13,141.28 A75.8,75.8 0 0 1 370.97,140.77 L376.73,139.08 A69.8,69.8 0 0 0 376.87,139.55 Z" fill="#c8b0d8" />
<path d="M370.97,140.77 A75.8,75.8 0 0 1 370.81,140.21 L376.58,138.56 A69.8,69.8 0 0 0 376.73,139.08 Z" fill="#9a8cc8" />
<path d="M370.81,140.21 A75.8,75.8 0 0 1 370.71,139.86 L376.49,138.24 A69.8,69.8 0 0 0 376.58,138.56 Z" fill="#88b0d0" />
<path d="M370.71,139.86 A75.8,75.8 0 0 1 370.48,139.01 L376.28,137.46 A69.8,69.8 0 0 0 376.49,138.24 Z" fill="#a898d0" />
<path d="M370.48,139.01 A75.8,75.8 0 0 1 370.33,138.42 L376.13,136.92 A69.8,69.8 0 0 0 376.28,137.46 Z" fill="#60b8c0" />
<path d="M370.33,138.42 A75.8,75.8 0 0 1 370.17,137.82 L375.99,136.36 A69.8,69.8 0 0 0 376.13,136.92 Z" fill="#c8b0d8" />
<path d="M370.17,137.82 A75.8,75.8 0 0 1 370.06,137.38 L375.89,135.95 A69.8,69.8 0 0 0 375.99,136.36 Z" fill="#9a8cc8" />
<path d="M370.06,137.38 A75.8,75.8 0 0 1 369.89,136.68 L375.74,135.31 A69.8,69.8 0 0 0 375.89,135.95 Z" fill="#88b0d0" />
<path d="M369.89,136.68 A75.8,75.8 0 0 1 369.79,136.20 L375.64,134.87 A69.8,69.8 0 0 0 375.74,135.31 Z" fill="#60b8c0" />
<path d="M369.79,136.20 A75.8,75.8 0 0 1 369.72,135.90 L375.57,134.59 A69.8,69.8 0 0 0 375.64,134.87 Z" fill="#f0e0ea" />
<path d="M369.72,135.90 A75.8,75.8 0 0 1 369.69,135.80 L375.55,134.50 A69.8,69.8 0 0 0 375.57,134.59 Z" fill="#5cc4b0" />
<path d="M381.43,146.23 A67.8,67.8 0 0 1 377.51,134.07 L390.39,131.21 A54.6,54.6 0 0 0 393.56,141.00 Z" fill="#f1f1f1" stroke="#c2c2c2" stroke-width="0.55"/>
<path d="M394.57,140.57 A53.5,53.5 0 0 1 391.47,130.97 L395.57,130.06 A49.3,49.3 0 0 0 398.42,138.91 Z" fill="#f1f1f1" stroke="#c2c2c2" stroke-width="0.55"/>
<path d="M399.43,138.47 A48.2,48.2 0 0 1 396.64,129.83 L402.69,128.49 A42.0,42.0 0 0 0 405.13,136.02 Z" fill="#f1f1f1" stroke="#c2c2c2" stroke-width="0.55"/>
<path d="M399.94,137.98 A47.54,47.54 0 0 1 397.34,129.93" fill="none" stroke="#6e5a5a" stroke-width="0.5"/>
<text x="352.92" y="149.32" font-size="8.6" text-anchor="middle" dominant-baseline="central" fill="#222" font-family='"Liberation Serif", "Times New Roman", serif' transform="rotate(252.10 352.92 149.32)">14</text>
<path d="M360.91,134.73 A84.2,84.2 0 0 1 359.50,119.68 L365.50,119.66 A78.2,78.2 0 0 0 366.81,133.64 Z" fill="#ececec" />
<path d="M360.91,134.73 A84.2,84.2 0 0 1 360.71,133.63 L366.62,132.61 A78.2,78.2 0 0 0 366.81,133.64 Z" fill="#7a7a7a" />
<path d="M360.68,133.46 A84.2,84.2 0 0 1 360.56,132.73 L366.49,131.78 A78.2,78.2 0 0 0 366.60,132.46 Z" fill="#dedede" />
<path d="M360.46,132.08 A84.2,84.2 0 0 1 360.27,130.74 L366.21,129.94 A78.2,78.2 0 0 0 366.39,131.18 Z" fill="#1c1c1c" />
<path d="M360.24,130.54 A84.2,84.2 0 0 1 360.02,128.79 L365.99,128.12 A78.2,78.2 0 0 0 366.19,129.75 Z" fill="#dedede" />
<path d="M360.02,128.74 A84.2,84.2 0 0 1 359.86,127.14 L365.83,126.59 A78.2,78.2 0 0 0 365.98,128.07 Z" fill="#ffffff" />
<path d="M359.80,126.54 A84.2,84.2 0 0 1 359.77,126.10 L365.75,125.62 A78.2,78.2 0 0 0 365.78,126.03 Z" fill="#1c1c1c" />
<path d="M359.74,125.75 A84.2,84.2 0 0 1 359.69,125.00 L365.67,124.60 A78.2,78.2 0 0 0 365.72,125.29 Z" fill="#b4b4b4" />
<path d="M359.68,124.92 A84.2,84.2 0 0 1 359.60,123.55 L365.60,123.26 A78.2,78.2 0 0 0 365.67,124.53 Z" fill="#1c1c1c" />
<path d="M359.59,123.25 A84.2,84.2 0 0 1 359.52,121.38 L365.52,121.24 A78.2,78.2 0 0 0 365.58,122.97 Z" fill="#dedede" />
<path d="M359.52,121.16 A84.2,84.2 0 0 1 359.51,120.45 L365.51,120.37 A78.2,78.2 0 0 0 365.52,121.03 Z" fill="#dedede" />
<path d="M359.50,120.04 A84.2,84.2 0 0 1 359.50,119.68 L365.50,119.66 A78.2,78.2 0 0 0 365.50,120.00 Z" fill="#dedede" />
<path d="M369.17,133.20 A75.8,75.8 0 0 1 367.90,119.65 L373.90,119.63 A69.8,69.8 0 0 0 375.07,132.11 Z" fill="#a0c0c8" />
<path d="M369.17,133.20 A75.8,75.8 0 0 1 368.98,132.12 L374.89,131.12 A69.8,69.8 0 0 0 375.07,132.11 Z" fill="#60b8c0" />
<path d="M368.98,132.12 A75.8,75.8 0 0 1 368.84,131.32 L374.77,130.38 A69.8,69.8 0 0 0 374.89,131.12 Z" fill="#9a8cc8" />
<path d="M368.84,131.32 A75.8,75.8 0 0 1 368.72,130.55 L374.66,129.67 A69.8,69.8 0 0 0 374.77,130.38 Z" fill="#e8eef2" />
<path d="M368.72,130.55 A75.8,75.8 0 0 1 368.60,129.71 L374.55,128.89 A69.8,69.8 0 0 0 374.66,129.67 Z" fill="#b0d0d8" />
<path d="M368.60,129.71 A75.8,75.8 0 0 1 368.54,129.22 L374.49,128.44 A69.8,69.8 0 0 0 374.55,128.89 Z" fill="#9a8cc8" />
<path d="M368.54,129.22 A75.8,75.8 0 0 1 368.39,127.99 L374.35,127.31 A69.8,69.8 0 0 0 374.49,128.44 Z" fill="#e0c0d8" />
<path d="M368.39,127.99 A75.8,75.8 0 0 1 368.26,126.81 L374.23,126.22 A69.8,69.8 0 0 0 374.35,127.31 Z" fill="#40b0a0" />
<path d="M368.26,126.81 A75.8,75.8 0 0 1 368.20,126.08 L374.17,125.55 A69.8,69.8 0 0 0 374.23,126.22 Z" fill="#40b0a0" />
<path d="M368.20,126.08 A75.8,75.8 0 0 1 368.15,125.50 L374.13,125.02 A69.8,69.8 0 0 0 374.17,125.55 Z" fill="#40b0a0" />
<path d="M368.15,125.50 A75.8,75.8 0 0 1 368.10,124.86 L374.08,124.43 A69.8,69.8 0 0 0 374.13,125.02 Z" fill="#40b0a0" />
<path d="M368.10,124.86 A75.8,75.8 0 0 1 368.07,124.41 L374.05,124.02 A69.8,69.8 0 0 0 374.08,124.43 Z" fill="#a898d0" />
<path d="M368.07,124.41 A75.8,75.8 0 0 1 368.03,123.83 L374.02,123.48 A69.8,69.8 0 0 0 374.05,124.02 Z" fill="#40b0a0" />
<path d="M368.03,123.83 A75.8,75.8 0 0 1 367.97,122.56 L373.96,122.31 A69.8,69.8 0 0 0 374.02,123.48 Z" fill="#e8eef2" />
<path d="M367.97,122.56 A75.8,75.8 0 0 1 367.93,121.68 L373.93,121.50 A69.8,69.8 0 0 0 373.96,122.31 Z" fill="#f0e0ea" />
<path d="M367.93,121.68 A75.8,75.8 0 0 1 367.92,120.94 L373.91,120.82 A69.8,69.8 0 0 0 373.93,121.50 Z" fill="#a898d0" />
<path d="M367.92,120.94 A75.8,75.8 0 0 1 367.90,120.25 L373.90,120.18 A69.8,69.8 0 0 0 373.91,120.82 Z" fill="#e0c0d8" />
<path d="M367.90,120.25 A75.8,75.8 0 0 1 367.90,119.88 L373.90,119.84 A69.8,69.8 0 0 0 373.90,120.18 Z" fill="#7898c0" />
<path d="M367.90,119.88 A75.8,75.8 0 0 1 367.90,119.65 L373.90,119.63 A69.8,69.8 0 0 0 373.90,119.84 Z" fill="#c8b0d8" />
<path d="M377.03,131.75 A67.8,67.8 0 0 1 375.90,119.62 L389.10,119.58 A54.6,54.6 0 0 0 390.01,129.34 Z" fill="#f1f1f1" stroke="#c2c2c2" stroke-width="0.55"/>
<path d="M391.09,129.14 A53.5,53.5 0 0 1 390.20,119.58 L394.40,119.56 A49.3,49.3 0 0 0 395.22,128.38 Z" fill="#f1f1f1" stroke="#c2c2c2" stroke-width="0.55"/>
<path d="M396.31,128.18 A48.2,48.2 0 0 1 395.50,119.56 L401.70,119.54 A42.0,42.0 0 0 0 402.40,127.05 Z" fill="#f1f1f1" stroke="#c2c2c2" stroke-width="0.55"/>
<path d="M398.16,127.59 A46.27,46.27 0 0 1 397.43,119.80" fill="none" stroke="#6e5a5a" stroke-width="0.5"/>
<text x="348.71" y="128.88" font-size="8.6" text-anchor="middle" dominant-baseline="central" fill="#222" font-family='"Liberation Serif", "Times New Roman", serif' transform="rotate(264.66 348.71 128.88)">15</text>
<path d="M359.54,116.74 A84.2,84.2 0 0 1 361.03,103.42 L366.92,104.56 A78.2,78.2 0 0 0 365.54,116.93 Z" fill="#ececec" />
<path d="M359.54,116.74 A84.2,84.2 0 0 1 359.59,115.42 L365.59,115.71 A78.2,78.2 0 0 0 365.54,116.93 Z" fill="#b4b4b4" />
<path d="M359.62,114.82 A84.2,84.2 0 0 1 359.71,113.43 L365.70,113.86 A78.2,78.2 0 0 0 365.62,115.15 Z" fill="#ffffff" />
<path d="M359.72,113.38 A84.2,84.2 0 0 1 359.81,112.18 L365.79,112.70 A78.2,78.2 0 0 0 365.70,113.81 Z" fill="#ffffff" />
<path d="M359.83,111.91 A84.2,84.2 0 0 1 359.98,110.39 L365.95,111.04 A78.2,78.2 0 0 0 365.81,112.45 Z" fill="#7a7a7a" />
<path d="M360.01,110.10 A84.2,84.2 0 0 1 360.23,108.36 L366.18,109.14 A78.2,78.2 0 0 0 365.98,110.77 Z" fill="#ffffff" />
<path d="M360.24,108.25 A84.2,84.2 0 0 1 360.33,107.60 L366.27,108.44 A78.2,78.2 0 0 0 366.19,109.05 Z" fill="#1c1c1c" />
<path d="M360.40,107.11 A84.2,84.2 0 0 1 360.63,105.65 L366.55,106.63 A78.2,78.2 0 0 0 366.34,107.99 Z" fill="#ffffff" />
<path d="M360.71,105.17 A84.2,84.2 0 0 1 361.03,103.42 L366.92,104.56 A78.2,78.2 0 0 0 366.62,106.19 Z" fill="#dedede" />
<path d="M367.94,117.01 A75.8,75.8 0 0 1 369.28,105.02 L375.17,106.16 A69.8,69.8 0 0 0 373.93,117.19 Z" fill="#a0c0c8" />
<path d="M367.94,117.01 A75.8,75.8 0 0 1 367.96,116.38 L373.96,116.62 A69.8,69.8 0 0 0 373.93,117.19 Z" fill="#40b0a0" />
<path d="M367.96,116.38 A75.8,75.8 0 0 1 367.98,115.92 L373.97,116.19 A69.8,69.8 0 0 0 373.96,116.62 Z" fill="#f0e0ea" />
<path d="M367.98,115.92 A75.8,75.8 0 0 1 368.04,114.84 L374.03,115.20 A69.8,69.8 0 0 0 373.97,116.19 Z" fill="#5cc4b0" />
<path d="M368.04,114.84 A75.8,75.8 0 0 1 368.08,114.19 L374.07,114.60 A69.8,69.8 0 0 0 374.03,115.20 Z" fill="#40b0a0" />
<path d="M368.08,114.19 A75.8,75.8 0 0 1 368.11,113.81 L374.09,114.25 A69.8,69.8 0 0 0 374.07,114.60 Z" fill="#c8b0d8" />
<path d="M368.11,113.81 A75.8,75.8 0 0 1 368.17,112.98 L374.15,113.49 A69.8,69.8 0 0 0 374.09,114.25 Z" fill="#e8eef2" />
<path d="M368.17,112.98 A75.8,75.8 0 0 1 368.22,112.41 L374.20,112.96 A69.8,69.8 0 0 0 374.15,113.49 Z" fill="#e8eef2" />
<path d="M368.22,112.41 A75.8,75.8 0 0 1 368.27,111.95 L374.24,112.54 A69.8,69.8 0 0 0 374.20,112.96 Z" fill="#40b0a0" />
<path d="M368.27,111.95 A75.8,75.8 0 0 1 368.34,111.28 L374.30,111.92 A69.8,69.8 0 0 0 374.24,112.54 Z" fill="#d0d8e0" />
<path d="M368.34,111.28 A75.8,75.8 0 0 1 368.38,110.92 L374.34,111.60 A69.8,69.8 0 0 0 374.30,111.92 Z" fill="#e0c0d8" />
<path d="M368.38,110.92 A75.8,75.8 0 0 1 368.49,109.98 L374.44,110.73 A69.8,69.8 0 0 0 374.34,111.60 Z" fill="#b0d0d8" />
<path d="M368.49,109.98 A75.8,75.8 0 0 1 368.61,109.08 L374.55,109.89 A69.8,69.8 0 0 0 374.44,110.73 Z" fill="#7898c0" />
<path d="M368.61,109.08 A75.8,75.8 0 0 1 368.77,107.93 L374.70,108.83 A69.8,69.8 0 0 0 374.55,109.89 Z" fill="#a898d0" />
<path d="M368.77,107.93 A75.8,75.8 0 0 1 368.96,106.80 L374.87,107.79 A69.8,69.8 0 0 0 374.70,108.83 Z" fill="#88b0d0" />
<path d="M368.96,106.80 A75.8,75.8 0 0 1 369.03,106.34 L374.94,107.38 A69.8,69.8 0 0 0 374.87,107.79 Z" fill="#e0c0d8" />
<path d="M369.03,106.34 A75.8,75.8 0 0 1 369.17,105.60 L375.07,106.69 A69.8,69.8 0 0 0 374.94,107.38 Z" fill="#a898d0" />
<path d="M369.17,105.60 A75.8,75.8 0 0 1 369.28,105.02 L375.17,106.16 A69.8,69.8 0 0 0 375.07,106.69 Z" fill="#7898c0" />
<path d="M375.93,117.26 A67.8,67.8 0 0 1 377.13,106.54 L390.09,109.04 A54.6,54.6 0 0 0 389.13,117.67 Z" fill="#f1f1f1" stroke="#c2c2c2" stroke-width="0.55"/>
<path d="M390.23,117.71 A53.5,53.5 0 0 1 391.17,109.25 L395.30,110.05 A49.3,49.3 0 0 0 394.42,117.84 Z" fill="#f1f1f1" stroke="#c2c2c2" stroke-width="0.55"/>
<path d="M395.52,117.88 A48.2,48.2 0 0 1 396.38,110.25 L402.46,111.43 A42.0,42.0 0 0 0 401.72,118.07 Z" fill="#f1f1f1" stroke="#c2c2c2" stroke-width="0.55"/>
<path d="M396.87,117.67 A46.86,46.86 0 0 1 397.64,110.75" fill="none" stroke="#6e5a5a" stroke-width="0.5"/>
<text x="348.89" y="109.41" font-size="8.6" text-anchor="middle" dominant-baseline="central" fill="#222" font-family='"Liberation Serif", "Times New Roman", serif' transform="rotate(276.37 348.89 109.41)">16</text>
<path d="M361.64,100.55 A84.2,84.2 0 0 1 365.28,88.75 L370.87,90.93 A78.2,78.2 0 0 0 367.49,101.89 Z" fill="#ececec" />
<path d="M361.64,100.55 A84.2,84.2 0 0 1 361.85,99.66 L367.68,101.07 A78.2,78.2 0 0 0 367.49,101.89 Z" fill="#b4b4b4" />
<path d="M362.04,98.87 A84.2,84.2 0 0 1 362.32,97.80 L368.12,99.34 A78.2,78.2 0 0 0 367.86,100.33 Z" fill="#b4b4b4" />
<path d="M362.38,97.58 A84.2,84.2 0 0 1 362.87,95.83 L368.63,97.51 A78.2,78.2 0 0 0 368.17,99.13 Z" fill="#b4b4b4" />
<path d="M363.12,94.99 A84.2,84.2 0 0 1 363.47,93.84 L369.19,95.66 A78.2,78.2 0 0 0 368.86,96.73 Z" fill="#1c1c1c" />
<path d="M363.52,93.70 A84.2,84.2 0 0 1 364.11,91.91 L369.78,93.87 A78.2,78.2 0 0 0 369.23,95.53 Z" fill="#dedede" />
<path d="M364.15,91.81 A84.2,84.2 0 0 1 364.61,90.52 L370.24,92.58 A78.2,78.2 0 0 0 369.82,93.78 Z" fill="#dedede" />
<path d="M364.61,90.52 A84.2,84.2 0 0 1 364.78,90.07 L370.40,92.16 A78.2,78.2 0 0 0 370.24,92.58 Z" fill="#ffffff" />
<path d="M364.91,89.71 A84.2,84.2 0 0 1 365.28,88.75 L370.87,90.93 A78.2,78.2 0 0 0 370.52,91.83 Z" fill="#b4b4b4" />
<path d="M369.82,102.43 A75.8,75.8 0 0 1 373.10,91.81 L378.69,93.99 A69.8,69.8 0 0 0 375.67,103.77 Z" fill="#a0c0c8" />
<path d="M369.82,102.43 A75.8,75.8 0 0 1 369.91,102.04 L375.75,103.42 A69.8,69.8 0 0 0 375.67,103.77 Z" fill="#e8eef2" />
<path d="M369.91,102.04 A75.8,75.8 0 0 1 370.01,101.64 L375.84,103.04 A69.8,69.8 0 0 0 375.75,103.42 Z" fill="#f0e0ea" />
<path d="M370.01,101.64 A75.8,75.8 0 0 1 370.10,101.25 L375.93,102.69 A69.8,69.8 0 0 0 375.84,103.04 Z" fill="#7898c0" />
<path d="M370.10,101.25 A75.8,75.8 0 0 1 370.22,100.78 L376.04,102.25 A69.8,69.8 0 0 0 375.93,102.69 Z" fill="#88b0d0" />
<path d="M370.22,100.78 A75.8,75.8 0 0 1 370.47,99.83 L376.27,101.38 A69.8,69.8 0 0 0 376.04,102.25 Z" fill="#f0e0ea" />
<path d="M370.47,99.83 A75.8,75.8 0 0 1 370.67,99.08 L376.45,100.69 A69.8,69.8 0 0 0 376.27,101.38 Z" fill="#40b0a0" />
<path d="M370.67,99.08 A75.8,75.8 0 0 1 370.76,98.79 L376.53,100.42 A69.8,69.8 0 0 0 376.45,100.69 Z" fill="#a898d0" />
<path d="M370.76,98.79 A75.8,75.8 0 0 1 370.84,98.49 L376.61,100.14 A69.8,69.8 0 0 0 376.53,100.42 Z" fill="#88b0d0" />
<path d="M370.84,98.49 A75.8,75.8 0 0 1 370.92,98.20 L376.69,99.88 A69.8,69.8 0 0 0 376.61,100.14 Z" fill="#60b8c0" />
<path d="M370.92,98.20 A75.8,75.8 0 0 1 371.02,97.88 L376.77,99.58 A69.8,69.8 0 0 0 376.69,99.88 Z" fill="#c8b0d8" />
<path d="M371.02,97.88 A75.8,75.8 0 0 1 371.31,96.93 L377.04,98.70 A69.8,69.8 0 0 0 376.77,99.58 Z" fill="#c8b0d8" />
<path d="M371.31,96.93 A75.8,75.8 0 0 1 371.59,96.03 L377.30,97.88 A69.8,69.8 0 0 0 377.04,98.70 Z" fill="#e8eef2" />
<path d="M371.59,96.03 A75.8,75.8 0 0 1 371.85,95.26 L377.53,97.17 A69.8,69.8 0 0 0 377.30,97.88 Z" fill="#40b0a0" />
<path d="M371.85,95.26 A75.8,75.8 0 0 1 372.23,94.14 L377.89,96.14 A69.8,69.8 0 0 0 377.53,97.17 Z" fill="#a898d0" />
<path d="M372.23,94.14 A75.8,75.8 0 0 1 372.51,93.38 L378.14,95.44 A69.8,69.8 0 0 0 377.89,96.14 Z" fill="#9a8cc8" />
<path d="M372.51,93.38 A75.8,75.8 0 0 1 372.60,93.11 L378.23,95.19 A69.8,69.8 0 0 0 378.14,95.44 Z" fill="#b0d0d8" />
<path d="M372.60,93.11 A75.8,75.8 0 0 1 373.06,91.90 L378.65,94.08 A69.8,69.8 0 0 0 378.23,95.19 Z" fill="#88b0d0" />
<path d="M373.06,91.90 A75.8,75.8 0 0 1 373.10,91.81 L378.69,93.99 A69.8,69.8 0 0 0 378.65,94.08 Z" fill="#60b8c0" />
<path d="M377.62,104.22 A67.8,67.8 0 0 1 380.55,94.72 L392.85,99.52 A54.6,54.6 0 0 0 390.49,107.18 Z" fill="#f1f1f1" stroke="#c2c2c2" stroke-width="0.55"/>
<path d="M391.56,107.42 A53.5,53.5 0 0 1 393.87,99.92 L397.78,101.45 A49.3,49.3 0 0 0 395.65,108.36 Z" fill="#f1f1f1" stroke="#c2c2c2" stroke-width="0.55"/>
<path d="M396.72,108.61 A48.2,48.2 0 0 1 398.81,101.85 L404.58,104.11 A42.0,42.0 0 0 0 402.77,110.00 Z" fill="#f1f1f1" stroke="#c2c2c2" stroke-width="0.55"/>
<path d="M397.79,108.60 A47.17,47.17 0 0 1 399.68,102.46" fill="none" stroke="#6e5a5a" stroke-width="0.5"/>
<text x="352.54" y="91.88" font-size="8.6" text-anchor="middle" dominant-baseline="central" fill="#222" font-family='"Liberation Serif", "Times New Roman", serif' transform="rotate(287.14 352.54 91.88)">17</text>
<path d="M366.40,86.03 A84.2,84.2 0 0 1 371.88,75.45 L377.00,78.58 A78.2,78.2 0 0 0 371.90,88.41 Z" fill="#ececec" />
<path d="M366.40,86.03 A84.2,84.2 0 0 1 366.55,85.68 L372.04,88.08 A78.2,78.2 0 0 0 371.90,88.41 Z" fill="#dedede" />
<path d="M366.79,85.13 A84.2,84.2 0 0 1 367.06,84.52 L372.53,87.01 A78.2,78.2 0 0 0 372.27,87.58 Z" fill="#ffffff" />
<path d="M367.08,84.48 A84.2,84.2 0 0 1 367.43,83.73 L372.86,86.27 A78.2,78.2 0 0 0 372.54,86.97 Z" fill="#ffffff" />
<path d="M367.46,83.67 A84.2,84.2 0 0 1 368.18,82.16 L373.57,84.81 A78.2,78.2 0 0 0 372.89,86.21 Z" fill="#1c1c1c" />
<path d="M368.36,81.79 A84.2,84.2 0 0 1 368.67,81.18 L374.02,83.90 A78.2,78.2 0 0 0 373.73,84.47 Z" fill="#7a7a7a" />
<path d="M369.02,80.51 A84.2,84.2 0 0 1 369.21,80.15 L374.52,82.94 A78.2,78.2 0 0 0 374.34,83.28 Z" fill="#dedede" />
<path d="M369.45,79.70 A84.2,84.2 0 0 1 369.93,78.80 L375.19,81.70 A78.2,78.2 0 0 0 374.74,82.53 Z" fill="#ffffff" />
<path d="M370.34,78.08 A84.2,84.2 0 0 1 371.03,76.87 L376.21,79.90 A78.2,78.2 0 0 0 375.57,81.02 Z" fill="#1c1c1c" />
<path d="M371.34,76.34 A84.2,84.2 0 0 1 371.88,75.45 L377.00,78.58 A78.2,78.2 0 0 0 376.50,79.41 Z" fill="#b4b4b4" />
<path d="M374.11,89.36 A75.8,75.8 0 0 1 379.05,79.83 L384.17,82.96 A69.8,69.8 0 0 0 379.62,91.74 Z" fill="#a0c0c8" />
<path d="M374.11,89.36 A75.8,75.8 0 0 1 374.47,88.54 L379.95,90.99 A69.8,69.8 0 0 0 379.62,91.74 Z" fill="#5cc4b0" />
<path d="M374.47,88.54 A75.8,75.8 0 0 1 374.64,88.15 L380.11,90.63 A69.8,69.8 0 0 0 379.95,90.99 Z" fill="#40b0a0" />
<path d="M374.64,88.15 A75.8,75.8 0 0 1 374.88,87.64 L380.32,90.15 A69.8,69.8 0 0 0 380.11,90.63 Z" fill="#f0e0ea" />
<path d="M374.88,87.64 A75.8,75.8 0 0 1 375.16,87.04 L380.58,89.60 A69.8,69.8 0 0 0 380.32,90.15 Z" fill="#a898d0" />
<path d="M375.16,87.04 A75.8,75.8 0 0 1 375.33,86.67 L380.74,89.26 A69.8,69.8 0 0 0 380.58,89.60 Z" fill="#e8eef2" />
<path d="M375.33,86.67 A75.8,75.8 0 0 1 375.62,86.07 L381.01,88.71 A69.8,69.8 0 0 0 380.74,89.26 Z" fill="#40b0a0" />
<path d="M375.62,86.07 A75.8,75.8 0 0 1 376.19,84.94 L381.53,87.67 A69.8,69.8 0 0 0 381.01,88.71 Z" fill="#e8eef2" />
<path d="M376.19,84.94 A75.8,75.8 0 0 1 376.57,84.19 L381.89,86.98 A69.8,69.8 0 0 0 381.53,87.67 Z" fill="#40b0a0" />
<path d="M376.57,84.19 A75.8,75.8 0 0 1 376.94,83.50 L382.22,86.34 A69.8,69.8 0 0 0 381.89,86.98 Z" fill="#9a8cc8" />
<path d="M376.94,83.50 A75.8,75.8 0 0 1 377.32,82.80 L382.58,85.70 A69.8,69.8 0 0 0 382.22,86.34 Z" fill="#5cc4b0" />
<path d="M377.32,82.80 A75.8,75.8 0 0 1 377.52,82.45 L382.75,85.37 A69.8,69.8 0 0 0 382.58,85.70 Z" fill="#88b0d0" />
<path d="M377.52,82.45 A75.8,75.8 0 0 1 377.86,81.84 L383.07,84.81 A69.8,69.8 0 0 0 382.75,85.37 Z" fill="#9a8cc8" />
<path d="M377.86,81.84 A75.8,75.8 0 0 1 378.16,81.31 L383.35,84.33 A69.8,69.8 0 0 0 383.07,84.81 Z" fill="#e0c0d8" />
<path d="M378.16,81.31 A75.8,75.8 0 0 1 378.60,80.57 L383.75,83.65 A69.8,69.8 0 0 0 383.35,84.33 Z" fill="#88b0d0" />
<path d="M378.60,80.57 A75.8,75.8 0 0 1 379.03,79.86 L384.15,82.99 A69.8,69.8 0 0 0 383.75,83.65 Z" fill="#e0c0d8" />
<path d="M379.03,79.86 A75.8,75.8 0 0 1 379.05,79.83 L384.17,82.96 A69.8,69.8 0 0 0 384.15,82.99 Z" fill="#a898d0" />
<path d="M381.45,92.53 A67.8,67.8 0 0 1 385.87,84.01 L397.13,90.90 A54.6,54.6 0 0 0 393.57,97.76 Z" fill="#f1f1f1" stroke="#c2c2c2" stroke-width="0.55"/>
<path d="M394.58,98.20 A53.5,53.5 0 0 1 398.07,91.47 L401.65,93.66 A49.3,49.3 0 0 0 398.44,99.86 Z" fill="#f1f1f1" stroke="#c2c2c2" stroke-width="0.55"/>
<path d="M399.45,100.30 A48.2,48.2 0 0 1 402.59,94.24 L407.88,97.47 A42.0,42.0 0 0 0 405.14,102.75 Z" fill="#f1f1f1" stroke="#c2c2c2" stroke-width="0.55"/>
<path d="M401.21,100.79 A46.39,46.39 0 0 1 404.01,95.39" fill="none" stroke="#6e5a5a" stroke-width="0.5"/>
<text x="359.01" y="76.08" font-size="8.6" text-anchor="middle" dominant-baseline="central" fill="#222" font-family='"Liberation Serif", "Times New Roman", serif' transform="rotate(297.41 359.01 76.08)">18</text>
<path d="M373.46,72.97 A84.2,84.2 0 0 1 378.63,65.97 L383.26,69.77 A78.2,78.2 0 0 0 378.47,76.27 Z" fill="#ececec" />
<path d="M373.46,72.97 A84.2,84.2 0 0 1 374.07,72.05 L379.04,75.42 A78.2,78.2 0 0 0 378.47,76.27 Z" fill="#dedede" />
<path d="M374.36,71.63 A84.2,84.2 0 0 1 374.66,71.20 L379.58,74.63 A78.2,78.2 0 0 0 379.30,75.04 Z" fill="#dedede" />
<path d="M375.09,70.60 A84.2,84.2 0 0 1 375.41,70.15 L380.27,73.66 A78.2,78.2 0 0 0 379.98,74.07 Z" fill="#ffffff" />
<path d="M375.84,69.55 A84.2,84.2 0 0 1 376.30,68.93 L381.11,72.53 A78.2,78.2 0 0 0 380.68,73.10 Z" fill="#dedede" />
<path d="M376.63,68.50 A84.2,84.2 0 0 1 377.81,66.98 L382.51,70.71 A78.2,78.2 0 0 0 381.41,72.13 Z" fill="#1c1c1c" />
<path d="M378.04,66.69 A84.2,84.2 0 0 1 378.63,65.97 L383.26,69.77 A78.2,78.2 0 0 0 382.72,70.44 Z" fill="#dedede" />
<path d="M380.47,77.60 A75.8,75.8 0 0 1 385.12,71.30 L389.76,75.10 A69.8,69.8 0 0 0 385.47,80.91 Z" fill="#a0c0c8" />
<path d="M380.47,77.60 A75.8,75.8 0 0 1 381.03,76.76 L385.99,80.14 A69.8,69.8 0 0 0 385.47,80.91 Z" fill="#5cc4b0" />
<path d="M381.03,76.76 A75.8,75.8 0 0 1 381.25,76.44 L386.19,79.84 A69.8,69.8 0 0 0 385.99,80.14 Z" fill="#88b0d0" />
<path d="M381.25,76.44 A75.8,75.8 0 0 1 381.42,76.20 L386.35,79.62 A69.8,69.8 0 0 0 386.19,79.84 Z" fill="#b0d0d8" />
<path d="M381.42,76.20 A75.8,75.8 0 0 1 381.57,75.97 L386.49,79.41 A69.8,69.8 0 0 0 386.35,79.62 Z" fill="#f0e0ea" />
<path d="M381.57,75.97 A75.8,75.8 0 0 1 382.17,75.13 L387.04,78.63 A69.8,69.8 0 0 0 386.49,79.41 Z" fill="#40b0a0" />
<path d="M382.17,75.13 A75.8,75.8 0 0 1 382.58,74.56 L387.42,78.11 A69.8,69.8 0 0 0 387.04,78.63 Z" fill="#7898c0" />
<path d="M382.58,74.56 A75.8,75.8 0 0 1 382.88,74.17 L387.69,77.75 A69.8,69.8 0 0 0 387.42,78.11 Z" fill="#f0e0ea" />
<path d="M382.88,74.17 A75.8,75.8 0 0 1 383.45,73.41 L388.22,77.05 A69.8,69.8 0 0 0 387.69,77.75 Z" fill="#88b0d0" />
<path d="M383.45,73.41 A75.8,75.8 0 0 1 383.89,72.84 L388.62,76.52 A69.8,69.8 0 0 0 388.22,77.05 Z" fill="#9a8cc8" />
<path d="M383.89,72.84 A75.8,75.8 0 0 1 384.66,71.86 L389.33,75.62 A69.8,69.8 0 0 0 388.62,76.52 Z" fill="#7898c0" />
<path d="M384.66,71.86 A75.8,75.8 0 0 1 385.06,71.37 L389.70,75.17 A69.8,69.8 0 0 0 389.33,75.62 Z" fill="#e8eef2" />
<path d="M385.06,71.37 A75.8,75.8 0 0 1 385.12,71.30 L389.76,75.10 A69.8,69.8 0 0 0 389.70,75.17 Z" fill="#d0d8e0" />
<path d="M387.14,82.01 A67.8,67.8 0 0 1 391.30,76.37 L401.50,84.75 A54.6,54.6 0 0 0 398.15,89.29 Z" fill="#f1f1f1" stroke="#c2c2c2" stroke-width="0.55"/>
<path d="M399.07,89.90 A53.5,53.5 0 0 1 402.35,85.45 L405.60,88.11 A49.3,49.3 0 0 0 402.57,92.21 Z" fill="#f1f1f1" stroke="#c2c2c2" stroke-width="0.55"/>
<path d="M403.49,92.82 A48.2,48.2 0 0 1 406.45,88.81 L411.24,92.75 A42.0,42.0 0 0 0 408.66,96.24 Z" fill="#f1f1f1" stroke="#c2c2c2" stroke-width="0.55"/>
<path d="M404.81,93.40 A46.78,46.78 0 0 1 407.39,89.90" fill="none" stroke="#6e5a5a" stroke-width="0.5"/>
<text x="366.94" y="63.35" font-size="8.6" text-anchor="middle" dominant-baseline="central" fill="#222" font-family='"Liberation Serif", "Times New Roman", serif' transform="rotate(306.43 366.94 63.35)">19</text>
<path d="M380.53,63.73 A84.2,84.2 0 0 1 387.25,56.92 L391.27,61.38 A78.2,78.2 0 0 0 385.03,67.70 Z" fill="#ececec" />
<path d="M380.53,63.73 A84.2,84.2 0 0 1 381.71,62.42 L386.13,66.48 A78.2,78.2 0 0 0 385.03,67.70 Z" fill="#7a7a7a" />
<path d="M382.26,61.83 A84.2,84.2 0 0 1 383.49,60.54 L387.78,64.74 A78.2,78.2 0 0 0 386.63,65.93 Z" fill="#ffffff" />
<path d="M383.50,60.53 A84.2,84.2 0 0 1 384.10,59.92 L388.35,64.16 A78.2,78.2 0 0 0 387.79,64.72 Z" fill="#7a7a7a" />
<path d="M384.56,59.47 A84.2,84.2 0 0 1 385.90,58.17 L390.02,62.54 A78.2,78.2 0 0 0 388.77,63.74 Z" fill="#ffffff" />
<path d="M386.28,57.82 A84.2,84.2 0 0 1 387.25,56.92 L391.27,61.38 A78.2,78.2 0 0 0 390.37,62.21 Z" fill="#1c1c1c" />
<path d="M386.83,69.28 A75.8,75.8 0 0 1 392.88,63.16 L396.90,67.61 A69.8,69.8 0 0 0 391.33,73.25 Z" fill="#a0c0c8" />
<path d="M386.83,69.28 A75.8,75.8 0 0 1 387.40,68.65 L391.85,72.67 A69.8,69.8 0 0 0 391.33,73.25 Z" fill="#9a8cc8" />
<path d="M387.40,68.65 A75.8,75.8 0 0 1 388.20,67.77 L392.59,71.86 A69.8,69.8 0 0 0 391.85,72.67 Z" fill="#c8b0d8" />
<path d="M388.20,67.77 A75.8,75.8 0 0 1 388.67,67.27 L393.03,71.40 A69.8,69.8 0 0 0 392.59,71.86 Z" fill="#9a8cc8" />
<path d="M388.67,67.27 A75.8,75.8 0 0 1 389.45,66.46 L393.75,70.65 A69.8,69.8 0 0 0 393.03,71.40 Z" fill="#7898c0" />
<path d="M389.45,66.46 A75.8,75.8 0 0 1 390.27,65.63 L394.50,69.89 A69.8,69.8 0 0 0 393.75,70.65 Z" fill="#d0d8e0" />
<path d="M390.27,65.63 A75.8,75.8 0 0 1 390.81,65.10 L395.00,69.40 A69.8,69.8 0 0 0 394.50,69.89 Z" fill="#a898d0" />
<path d="M390.81,65.10 A75.8,75.8 0 0 1 391.17,64.75 L395.33,69.08 A69.8,69.8 0 0 0 395.00,69.40 Z" fill="#9a8cc8" />
<path d="M391.17,64.75 A75.8,75.8 0 0 1 391.78,64.18 L395.89,68.55 A69.8,69.8 0 0 0 395.33,69.08 Z" fill="#7898c0" />
<path d="M391.78,64.18 A75.8,75.8 0 0 1 392.70,63.32 L396.74,67.76 A69.8,69.8 0 0 0 395.89,68.55 Z" fill="#a898d0" />
<path d="M392.70,63.32 A75.8,75.8 0 0 1 392.88,63.16 L396.90,67.61 A69.8,69.8 0 0 0 396.74,67.76 Z" fill="#c8b0d8" />
<path d="M392.84,74.57 A67.8,67.8 0 0 1 398.25,69.09 L407.10,78.89 A54.6,54.6 0 0 0 402.74,83.30 Z" fill="#f1f1f1" stroke="#c2c2c2" stroke-width="0.55"/>
<path d="M403.56,84.03 A53.5,53.5 0 0 1 407.83,79.70 L410.65,82.82 A49.3,49.3 0 0 0 406.71,86.80 Z" fill="#f1f1f1" stroke="#c2c2c2" stroke-width="0.55"/>
<path d="M407.54,87.53 A48.2,48.2 0 0 1 411.39,83.64 L415.54,88.24 A42.0,42.0 0 0 0 412.19,91.63 Z" fill="#f1f1f1" stroke="#c2c2c2" stroke-width="0.55"/>
<path d="M408.61,88.15 A46.99,46.99 0 0 1 412.01,84.70" fill="none" stroke="#6e5a5a" stroke-width="0.5"/>
<text x="375.83" y="52.96" font-size="8.6" text-anchor="middle" dominant-baseline="central" fill="#222" font-family='"Liberation Serif", "Times New Roman", serif' transform="rotate(314.65 375.83 52.96)">20</text>
<path d="M389.47,54.99 A84.2,84.2 0 0 1 394.95,50.75 L398.42,55.64 A78.2,78.2 0 0 0 393.33,59.58 Z" fill="#ececec" />
<path d="M389.47,54.99 A84.2,84.2 0 0 1 390.21,54.37 L394.02,59.01 A78.2,78.2 0 0 0 393.33,59.58 Z" fill="#ffffff" />
<path d="M390.80,53.89 A84.2,84.2 0 0 1 391.52,53.32 L395.24,58.03 A78.2,78.2 0 0 0 394.57,58.56 Z" fill="#ffffff" />
<path d="M391.83,53.08 A84.2,84.2 0 0 1 392.58,52.50 L396.22,57.26 A78.2,78.2 0 0 0 395.52,57.80 Z" fill="#7a7a7a" />
<path d="M392.87,52.27 A84.2,84.2 0 0 1 393.50,51.80 L397.08,56.62 A78.2,78.2 0 0 0 396.49,57.06 Z" fill="#dedede" />
<path d="M393.58,51.74 A84.2,84.2 0 0 1 394.95,50.75 L398.42,55.64 A78.2,78.2 0 0 0 397.15,56.56 Z" fill="#ffffff" />
<path d="M394.88,61.42 A75.8,75.8 0 0 1 399.81,57.60 L403.29,62.49 A69.8,69.8 0 0 0 398.74,66.01 Z" fill="#a0c0c8" />
<path d="M394.88,61.42 A75.8,75.8 0 0 1 395.68,60.75 L399.48,65.40 A69.8,69.8 0 0 0 398.74,66.01 Z" fill="#60b8c0" />
<path d="M395.68,60.75 A75.8,75.8 0 0 1 396.00,60.49 L399.77,65.15 A69.8,69.8 0 0 0 399.48,65.40 Z" fill="#9a8cc8" />
<path d="M396.00,60.49 A75.8,75.8 0 0 1 396.47,60.11 L400.21,64.81 A69.8,69.8 0 0 0 399.77,65.15 Z" fill="#f0e0ea" />
<path d="M396.47,60.11 A75.8,75.8 0 0 1 397.21,59.53 L400.89,64.27 A69.8,69.8 0 0 0 400.21,64.81 Z" fill="#5cc4b0" />
<path d="M397.21,59.53 A75.8,75.8 0 0 1 397.71,59.15 L401.35,63.92 A69.8,69.8 0 0 0 400.89,64.27 Z" fill="#88b0d0" />
<path d="M397.71,59.15 A75.8,75.8 0 0 1 398.36,58.66 L401.95,63.47 A69.8,69.8 0 0 0 401.35,63.92 Z" fill="#c8b0d8" />
<path d="M398.36,58.66 A75.8,75.8 0 0 1 398.58,58.49 L402.15,63.31 A69.8,69.8 0 0 0 401.95,63.47 Z" fill="#40b0a0" />
<path d="M398.58,58.49 A75.8,75.8 0 0 1 399.20,58.03 L402.73,62.89 A69.8,69.8 0 0 0 402.15,63.31 Z" fill="#e8eef2" />
<path d="M399.20,58.03 A75.8,75.8 0 0 1 399.77,57.63 L403.25,62.52 A69.8,69.8 0 0 0 402.73,62.89 Z" fill="#e0c0d8" />
<path d="M399.77,57.63 A75.8,75.8 0 0 1 399.81,57.60 L403.29,62.49 A69.8,69.8 0 0 0 403.25,62.52 Z" fill="#7898c0" />
<path d="M400.03,67.54 A67.8,67.8 0 0 1 404.44,64.12 L412.09,74.88 A54.6,54.6 0 0 0 408.53,77.63 Z" fill="#f1f1f1" stroke="#c2c2c2" stroke-width="0.55"/>
<path d="M409.24,78.48 A53.5,53.5 0 0 1 412.72,75.78 L415.16,79.20 A49.3,49.3 0 0 0 411.95,81.69 Z" fill="#f1f1f1" stroke="#c2c2c2" stroke-width="0.55"/>
<path d="M412.65,82.53 A48.2,48.2 0 0 1 415.79,80.10 L419.38,85.16 A42.0,42.0 0 0 0 416.65,87.27 Z" fill="#f1f1f1" stroke="#c2c2c2" stroke-width="0.55"/>
<path d="M413.35,82.98 A47.41,47.41 0 0 1 416.05,80.89" fill="none" stroke="#6e5a5a" stroke-width="0.5"/>
<text x="385.31" y="44.56" font-size="8.6" text-anchor="middle" dominant-baseline="central" fill="#222" font-family='"Liberation Serif", "Times New Roman", serif' transform="rotate(322.26 385.31 44.56)">21</text>
<path d="M397.37,49.09 A84.2,84.2 0 0 1 403.85,45.23 L406.69,50.51 A78.2,78.2 0 0 0 400.67,54.10 Z" fill="#ececec" />
<path d="M397.37,49.09 A84.2,84.2 0 0 1 397.95,48.71 L401.21,53.75 A78.2,78.2 0 0 0 400.67,54.10 Z" fill="#7a7a7a" />
<path d="M398.44,48.40 A84.2,84.2 0 0 1 399.17,47.94 L402.34,53.03 A78.2,78.2 0 0 0 401.67,53.46 Z" fill="#ffffff" />
<path d="M399.77,47.57 A84.2,84.2 0 0 1 400.40,47.19 L403.48,52.34 A78.2,78.2 0 0 0 402.90,52.69 Z" fill="#dedede" />
<path d="M400.73,46.99 A84.2,84.2 0 0 1 402.12,46.18 L405.08,51.40 A78.2,78.2 0 0 0 403.80,52.15 Z" fill="#b4b4b4" />
<path d="M402.68,45.87 A84.2,84.2 0 0 1 403.85,45.23 L406.69,50.51 A78.2,78.2 0 0 0 405.60,51.11 Z" fill="#b4b4b4" />
<path d="M402.00,56.10 A75.8,75.8 0 0 1 407.83,52.63 L410.67,57.91 A69.8,69.8 0 0 0 405.30,61.11 Z" fill="#a0c0c8" />
<path d="M402.00,56.10 A75.8,75.8 0 0 1 403.09,55.39 L406.31,60.46 A69.8,69.8 0 0 0 405.30,61.11 Z" fill="#e0c0d8" />
<path d="M403.09,55.39 A75.8,75.8 0 0 1 404.06,54.79 L407.20,59.91 A69.8,69.8 0 0 0 406.31,60.46 Z" fill="#5cc4b0" />
<path d="M404.06,54.79 A75.8,75.8 0 0 1 404.56,54.49 L407.66,59.63 A69.8,69.8 0 0 0 407.20,59.91 Z" fill="#b0d0d8" />
<path d="M404.56,54.49 A75.8,75.8 0 0 1 405.43,53.97 L408.46,59.15 A69.8,69.8 0 0 0 407.66,59.63 Z" fill="#f0e0ea" />
<path d="M405.43,53.97 A75.8,75.8 0 0 1 406.05,53.61 L409.03,58.82 A69.8,69.8 0 0 0 408.46,59.15 Z" fill="#c8b0d8" />
<path d="M406.05,53.61 A75.8,75.8 0 0 1 406.53,53.34 L409.47,58.57 A69.8,69.8 0 0 0 409.03,58.82 Z" fill="#b0d0d8" />
<path d="M406.53,53.34 A75.8,75.8 0 0 1 406.77,53.20 L409.69,58.44 A69.8,69.8 0 0 0 409.47,58.57 Z" fill="#f0e0ea" />
<path d="M406.77,53.20 A75.8,75.8 0 0 1 407.29,52.92 L410.17,58.18 A69.8,69.8 0 0 0 409.69,58.44 Z" fill="#b0d0d8" />
<path d="M407.29,52.92 A75.8,75.8 0 0 1 407.83,52.63 L410.67,57.91 A69.8,69.8 0 0 0 410.17,58.18 Z" fill="#e0c0d8" />
<path d="M406.40,62.78 A67.8,67.8 0 0 1 411.61,59.67 L417.86,71.30 A54.6,54.6 0 0 0 413.66,73.81 Z" fill="#f1f1f1" stroke="#c2c2c2" stroke-width="0.55"/>
<path d="M414.26,74.73 A53.5,53.5 0 0 1 418.38,72.27 L420.37,75.97 A49.3,49.3 0 0 0 416.58,78.23 Z" fill="#f1f1f1" stroke="#c2c2c2" stroke-width="0.55"/>
<path d="M417.18,79.15 A48.2,48.2 0 0 1 420.89,76.94 L423.82,82.40 A42.0,42.0 0 0 0 420.59,84.33 Z" fill="#f1f1f1" stroke="#c2c2c2" stroke-width="0.55"/>
<path d="M418.18,80.23 A46.75,46.75 0 0 1 421.36,78.34" fill="none" stroke="#6e5a5a" stroke-width="0.5"/>
<text x="394.83" y="38.07" font-size="8.6" text-anchor="middle" dominant-baseline="central" fill="#222" font-family='"Liberation Serif", "Times New Roman", serif' transform="rotate(329.19 394.83 38.07)">22</text>
<path d="M406.46,43.88 A84.2,84.2 0 0 1 428.38,36.61 L429.47,42.50 A78.2,78.2 0 0 0 409.12,49.26 Z" fill="#ececec" />
<path d="M406.46,43.88 A84.2,84.2 0 0 1 408.10,43.10 L410.63,48.54 A78.2,78.2 0 0 0 409.12,49.26 Z" fill="#dedede" />
<path d="M408.48,42.92 A84.2,84.2 0 0 1 409.30,42.55 L411.75,48.02 A78.2,78.2 0 0 0 410.99,48.37 Z" fill="#7a7a7a" />
<path d="M410.04,42.22 A84.2,84.2 0 0 1 411.05,41.79 L413.38,47.32 A78.2,78.2 0 0 0 412.44,47.72 Z" fill="#ffffff" />
<path d="M411.82,41.47 A84.2,84.2 0 0 1 412.73,41.10 L414.94,46.68 A78.2,78.2 0 0 0 414.09,47.02 Z" fill="#ffffff" />
<path d="M412.76,41.09 A84.2,84.2 0 0 1 413.16,40.93 L415.34,46.53 A78.2,78.2 0 0 0 414.97,46.67 Z" fill="#b4b4b4" />
<path d="M413.63,40.75 A84.2,84.2 0 0 1 415.29,40.14 L417.32,45.78 A78.2,78.2 0 0 0 415.77,46.36 Z" fill="#1c1c1c" />
<path d="M415.63,40.02 A84.2,84.2 0 0 1 417.25,39.46 L419.14,45.16 A78.2,78.2 0 0 0 417.63,45.67 Z" fill="#ffffff" />
<path d="M417.48,39.39 A84.2,84.2 0 0 1 417.89,39.25 L419.73,44.97 A78.2,78.2 0 0 0 419.34,45.09 Z" fill="#dedede" />
<path d="M418.01,39.22 A84.2,84.2 0 0 1 419.72,38.69 L421.43,44.44 A78.2,78.2 0 0 0 419.84,44.93 Z" fill="#e46a6a" />
<path d="M419.94,38.62 A84.2,84.2 0 0 1 420.48,38.46 L422.14,44.23 A78.2,78.2 0 0 0 421.63,44.38 Z" fill="#b4b4b4" />
<path d="M421.20,38.26 A84.2,84.2 0 0 1 422.04,38.03 L423.58,43.83 A78.2,78.2 0 0 0 422.80,44.04 Z" fill="#dedede" />
<path d="M422.05,38.03 A84.2,84.2 0 0 1 422.62,37.88 L424.12,43.69 A78.2,78.2 0 0 0 423.59,43.83 Z" fill="#7a7a7a" />
<path d="M423.18,37.74 A84.2,84.2 0 0 1 424.95,37.32 L426.28,43.16 A78.2,78.2 0 0 0 424.65,43.56 Z" fill="#dedede" />
<path d="M425.04,37.29 A84.2,84.2 0 0 1 425.49,37.19 L426.79,43.05 A78.2,78.2 0 0 0 426.37,43.14 Z" fill="#ffffff" />
<path d="M425.65,37.16 A84.2,84.2 0 0 1 427.14,36.84 L428.32,42.73 A78.2,78.2 0 0 0 426.93,43.02 Z" fill="#dedede" />
<path d="M427.80,36.71 A84.2,84.2 0 0 1 428.32,36.62 L429.42,42.52 A78.2,78.2 0 0 0 428.94,42.61 Z" fill="#ffffff" />
<path d="M410.18,51.41 A75.8,75.8 0 0 1 429.91,44.86 L431.00,50.76 A69.8,69.8 0 0 0 412.83,56.80 Z" fill="#a0c0c8" />
<path d="M410.18,51.41 A75.8,75.8 0 0 1 411.21,50.92 L413.78,56.34 A69.8,69.8 0 0 0 412.83,56.80 Z" fill="#88b0d0" />
<path d="M411.21,50.92 A75.8,75.8 0 0 1 412.30,50.41 L414.78,55.87 A69.8,69.8 0 0 0 413.78,56.34 Z" fill="#c8b0d8" />
<path d="M412.30,50.41 A75.8,75.8 0 0 1 412.83,50.17 L415.27,55.65 A69.8,69.8 0 0 0 414.78,55.87 Z" fill="#88b0d0" />
<path d="M412.83,50.17 A75.8,75.8 0 0 1 413.83,49.73 L416.19,55.25 A69.8,69.8 0 0 0 415.27,55.65 Z" fill="#60b8c0" />
<path d="M413.83,49.73 A75.8,75.8 0 0 1 414.17,49.59 L416.50,55.12 A69.8,69.8 0 0 0 416.19,55.25 Z" fill="#7898c0" />
<path d="M414.17,49.59 A75.8,75.8 0 0 1 415.22,49.15 L417.48,54.71 A69.8,69.8 0 0 0 416.50,55.12 Z" fill="#9a8cc8" />
<path d="M415.22,49.15 A75.8,75.8 0 0 1 415.50,49.04 L417.73,54.61 A69.8,69.8 0 0 0 417.48,54.71 Z" fill="#f0e0ea" />
<path d="M415.50,49.04 A75.8,75.8 0 0 1 416.24,48.75 L418.41,54.34 A69.8,69.8 0 0 0 417.73,54.61 Z" fill="#5cc4b0" />
<path d="M416.24,48.75 A75.8,75.8 0 0 1 417.28,48.35 L419.37,53.98 A69.8,69.8 0 0 0 418.41,54.34 Z" fill="#d0d8e0" />
<path d="M417.28,48.35 A75.8,75.8 0 0 1 418.49,47.91 L420.49,53.57 A69.8,69.8 0 0 0 419.37,53.98 Z" fill="#a898d0" />
<path d="M418.49,47.91 A75.8,75.8 0 0 1 419.10,47.70 L421.05,53.38 A69.8,69.8 0 0 0 420.49,53.57 Z" fill="#9a8cc8" />
<path d="M419.10,47.70 A75.8,75.8 0 0 1 419.40,47.60 L421.32,53.28 A69.8,69.8 0 0 0 421.05,53.38 Z" fill="#c8b0d8" />
<path d="M419.40,47.60 A75.8,75.8 0 0 1 419.74,47.49 L421.64,53.18 A69.8,69.8 0 0 0 421.32,53.28 Z" fill="#5cc4b0" />
<path d="M419.74,47.49 A75.8,75.8 0 0 1 420.53,47.23 L422.37,52.94 A69.8,69.8 0 0 0 421.64,53.18 Z" fill="#b0d0d8" />
<path d="M420.53,47.23 A75.8,75.8 0 0 1 421.58,46.90 L423.33,52.64 A69.8,69.8 0 0 0 422.37,52.94 Z" fill="#5cc4b0" />
<path d="M421.58,46.90 A75.8,75.8 0 0 1 422.32,46.68 L424.01,52.44 A69.8,69.8 0 0 0 423.33,52.64 Z" fill="#40b0a0" />
<path d="M422.32,46.68 A75.8,75.8 0 0 1 422.67,46.58 L424.33,52.34 A69.8,69.8 0 0 0 424.01,52.44 Z" fill="#5cc4b0" />
<path d="M422.67,46.58 A75.8,75.8 0 0 1 423.39,46.37 L425.00,52.15 A69.8,69.8 0 0 0 424.33,52.34 Z" fill="#f0e0ea" />
<path d="M423.39,46.37 A75.8,75.8 0 0 1 424.14,46.17 L425.69,51.96 A69.8,69.8 0 0 0 425.00,52.15 Z" fill="#c8b0d8" />
<path d="M424.14,46.17 A75.8,75.8 0 0 1 425.24,45.88 L426.70,51.70 A69.8,69.8 0 0 0 425.69,51.96 Z" fill="#c8b0d8" />
<path d="M425.24,45.88 A75.8,75.8 0 0 1 426.36,45.61 L427.73,51.45 A69.8,69.8 0 0 0 426.70,51.70 Z" fill="#c8b0d8" />
<path d="M426.36,45.61 A75.8,75.8 0 0 1 426.77,45.51 L428.11,51.36 A69.8,69.8 0 0 0 427.73,51.45 Z" fill="#5cc4b0" />
<path d="M426.77,45.51 A75.8,75.8 0 0 1 427.34,45.39 L428.63,51.25 A69.8,69.8 0 0 0 428.11,51.36 Z" fill="#c8b0d8" />
<path d="M427.34,45.39 A75.8,75.8 0 0 1 428.62,45.12 L429.81,51.00 A69.8,69.8 0 0 0 428.63,51.25 Z" fill="#9a8cc8" />
<path d="M428.62,45.12 A75.8,75.8 0 0 1 429.78,44.89 L430.88,50.79 A69.8,69.8 0 0 0 429.81,51.00 Z" fill="#7898c0" />
<path d="M429.78,44.89 A75.8,75.8 0 0 1 429.91,44.86 L431.00,50.76 A69.8,69.8 0 0 0 430.88,50.79 Z" fill="#60b8c0" />
<path d="M413.72,58.59 A67.8,67.8 0 0 1 431.37,52.73 L433.77,65.71 A54.6,54.6 0 0 0 419.55,70.43 Z" fill="#f1f1f1" stroke="#c2c2c2" stroke-width="0.55"/>
<path d="M420.04,71.42 A53.5,53.5 0 0 1 433.97,66.79 L434.73,70.92 A49.3,49.3 0 0 0 421.90,75.18 Z" fill="#f1f1f1" stroke="#c2c2c2" stroke-width="0.55"/>
<path d="M422.38,76.17 A48.2,48.2 0 0 1 434.93,72.00 L436.06,78.10 A42.0,42.0 0 0 0 425.13,81.73 Z" fill="#f1f1f1" stroke="#c2c2c2" stroke-width="0.55"/>
<path d="M423.20,77.26 A46.86,46.86 0 0 1 434.93,73.37" fill="none" stroke="#6e5a5a" stroke-width="0.5"/>
<text x="413.64" y="29.46" font-size="8.6" text-anchor="middle" dominant-baseline="central" fill="#222" font-family='"Liberation Serif", "Times New Roman", serif' transform="rotate(341.64 413.64 29.46)">X</text>
<path d="M431.28,36.12 A84.2,84.2 0 0 1 439.73,35.29 L440.02,41.29 A78.2,78.2 0 0 0 432.17,42.06 Z" fill="#ececec" />
<path d="M431.28,36.12 A84.2,84.2 0 0 1 432.75,35.91 L433.53,41.86 A78.2,78.2 0 0 0 432.17,42.06 Z" fill="#ffffff" />
<path d="M433.47,35.82 A84.2,84.2 0 0 1 434.03,35.76 L434.72,41.72 A78.2,78.2 0 0 0 434.19,41.78 Z" fill="#c8c8c8" />
<path d="M434.52,35.70 A84.2,84.2 0 0 1 436.39,35.52 L436.91,41.50 A78.2,78.2 0 0 0 435.18,41.67 Z" fill="#c8c8c8" />
<path d="M436.69,35.49 A84.2,84.2 0 0 1 437.78,35.41 L438.21,41.39 A78.2,78.2 0 0 0 437.19,41.47 Z" fill="#c8c8c8" />
<path d="M437.95,35.40 A84.2,84.2 0 0 1 438.32,35.37 L438.71,41.36 A78.2,78.2 0 0 0 438.36,41.38 Z" fill="#a0a0a0" />
<path d="M438.40,35.37 A84.2,84.2 0 0 1 439.73,35.29 L440.02,41.29 A78.2,78.2 0 0 0 438.78,41.35 Z" fill="#ffffff" />
<path d="M432.52,44.43 A75.8,75.8 0 0 1 440.13,43.68 L440.41,49.68 A69.8,69.8 0 0 0 433.40,50.36 Z" fill="#e4e4e4" />
<path d="M433.70,52.34 A67.8,67.8 0 0 1 440.51,51.68 L441.13,64.86 A54.6,54.6 0 0 0 435.65,65.40 Z" fill="#f1f1f1" stroke="#c2c2c2" stroke-width="0.55"/>
<path d="M435.81,66.49 A53.5,53.5 0 0 1 441.18,65.96 L441.38,70.15 A49.3,49.3 0 0 0 436.43,70.64 Z" fill="#f1f1f1" stroke="#c2c2c2" stroke-width="0.55"/>
<path d="M436.59,71.73 A48.2,48.2 0 0 1 441.43,71.25 L441.72,77.45 A42.0,42.0 0 0 0 437.51,77.86 Z" fill="#f1f1f1" stroke="#c2c2c2" stroke-width="0.55"/>
<path d="M436.99,72.75 A47.13,47.13 0 0 1 441.23,72.34" fill="none" stroke="#6e5a5a" stroke-width="0.5"/>
<text x="434.41" y="25.05" font-size="8.6" text-anchor="middle" dominant-baseline="central" fill="#222" font-family='"Liberation Serif", "Times New Roman", serif' transform="rotate(354.41 434.41 25.05)">Y</text>
<circle cx="401.7" cy="67.4" r="1.25" fill="#ff0000"/>
<circle cx="407.9" cy="62.6" r="1.25" fill="#ff2020"/>
<circle cx="410.3" cy="63.3" r="1.25" fill="#2020ff"/>
<circle cx="418.1" cy="59.1" r="1.25" fill="#3030ff"/>
<circle cx="395.5" cy="80.4" r="1.25" fill="#f06070"/>
<circle cx="446.9" cy="52.3" r="1.25" fill="#ff0000"/>
<circle cx="465.7" cy="58.1" r="1.25" fill="#2020ff"/>
<circle cx="467.2" cy="58.5" r="1.25" fill="#2020ff"/>
<circle cx="481.8" cy="66.7" r="1.25" fill="#2020ff"/>
<circle cx="496.5" cy="81.1" r="1.25" fill="#2020ff"/>
<circle cx="499.4" cy="97.8" r="1.25" fill="#10b010"/>
<circle cx="502.8" cy="112.6" r="1.25" fill="#10b010"/>
<circle cx="507.4" cy="130.9" r="1.25" fill="#2020ff"/>
<circle cx="506.1" cy="137.7" r="1.25" fill="#2020ff"/>
<circle cx="387" cy="154.7" r="1.25" fill="#ff0000"/>
<circle cx="410.3" cy="177.7" r="1.25" fill="#ff0000"/>
<circle cx="423.4" cy="181.4" r="1.25" fill="#2020ff"/>
<circle cx="452.3" cy="183.9" r="1.25" fill="#2020ff"/>
<circle cx="443.7" cy="119.4" r="40.9" fill="none" stroke="#f05a6a" stroke-width="1.0"/>
<path d="M447.2,160.2 C447.8,130 455,130 469.1,150.7" fill="none" stroke="#f05a6a" stroke-width="0.95"/>
<path d="M447.6,160.2 C448,132.5 452,132.5 454.1,157.6" fill="none" stroke="#f05a6a" stroke-width="0.9"/>
<path d="M447.9,160.2 C448.3,131 454,131 458.8,155.9" fill="none" stroke="#f05a6a" stroke-width="0.9"/>
<path d="M462.4,161.9 L464.9,160.9 L465.6,162.7 L463.1,163.7 Z" fill="#f02a40"/>
<path d="M448.8,166.6 L449.4,164.7 L451.2,164.5" fill="none" stroke="#f08090" stroke-width="0.6"/>
<text x="352.30" y="223.80" font-size="7.3" text-anchor="start" font-weight="normal" fill="#222" font-family='"DejaVu Sans", "Liberation Sans", Arial, sans-serif' letter-spacing="0.05">Category</text>
<text x="520.60" y="223.80" font-size="7.2" text-anchor="middle" font-weight="normal" fill="#222" font-family='"DejaVu Sans", "Liberation Sans", Arial, sans-serif' >Count</text>
<line x1="352" y1="227.4" x2="543" y2="227.4" stroke="#cccccc" stroke-width="0.9"/>
<circle cx="355.6" cy="232.30" r="3.0" fill="#ff0000"/>
<text x="363.50" y="234.50" font-size="6.3" text-anchor="start" font-weight="normal" fill="#939393" font-family='"DejaVu Sans", "Liberation Sans", Arial, sans-serif' >Insertion</text>
<text x="520.60" y="234.50" font-size="6.3" text-anchor="middle" font-weight="normal" fill="#939393" font-family='"DejaVu Sans", "Liberation Sans", Arial, sans-serif' >5</text>
<circle cx="355.6" cy="240.45" r="3.0" fill="#4040ff"/>
<text x="363.50" y="242.65" font-size="6.3" text-anchor="start" font-weight="normal" fill="#939393" font-family='"DejaVu Sans", "Liberation Sans", Arial, sans-serif' >Deletion</text>
<text x="520.60" y="242.65" font-size="6.3" text-anchor="middle" font-weight="normal" fill="#939393" font-family='"DejaVu Sans", "Liberation Sans", Arial, sans-serif' >18</text>
<circle cx="355.6" cy="248.60" r="3.0" fill="#c06080"/>
<text x="363.50" y="250.80" font-size="6.3" text-anchor="start" font-weight="normal" fill="#939393" font-family='"DejaVu Sans", "Liberation Sans", Arial, sans-serif' >Inversion</text>
<text x="520.60" y="250.80" font-size="6.3" text-anchor="middle" font-weight="normal" fill="#939393" font-family='"DejaVu Sans", "Liberation Sans", Arial, sans-serif' >1</text>
<circle cx="355.6" cy="256.75" r="3.0" fill="#10a010"/>
<text x="363.50" y="258.95" font-size="6.3" text-anchor="start" font-weight="normal" fill="#939393" font-family='"DejaVu Sans", "Liberation Sans", Arial, sans-serif' >Duplication</text>
<text x="520.60" y="258.95" font-size="6.3" text-anchor="middle" font-weight="normal" fill="#939393" font-family='"DejaVu Sans", "Liberation Sans", Arial, sans-serif' >2</text>
<circle cx="355.6" cy="264.90" r="3.0" fill="#f07080"/>
<text x="363.50" y="267.10" font-size="6.3" text-anchor="start" font-weight="normal" fill="#939393" font-family='"DejaVu Sans", "Liberation Sans", Arial, sans-serif' >Intra-Fusion</text>
<text x="520.60" y="267.10" font-size="6.3" text-anchor="middle" font-weight="normal" fill="#939393" font-family='"DejaVu Sans", "Liberation Sans", Arial, sans-serif' >1</text>
<circle cx="355.6" cy="273.05" r="3.0" fill="#f07080"/>
<text x="363.50" y="275.25" font-size="6.3" text-anchor="start" font-weight="normal" fill="#939393" font-family='"DejaVu Sans", "Liberation Sans", Arial, sans-serif' >Inter-Translocation</text>
<text x="520.60" y="275.25" font-size="6.3" text-anchor="middle" font-weight="normal" fill="#939393" font-family='"DejaVu Sans", "Liberation Sans", Arial, sans-serif' >2</text>
<circle cx="355.6" cy="281.20" r="3.0" fill="#0000ff"/>
<text x="363.50" y="283.40" font-size="6.3" text-anchor="start" font-weight="normal" fill="#939393" font-family='"DejaVu Sans", "Liberation Sans", Arial, sans-serif' >CNV Gain Segment</text>
<text x="520.60" y="283.40" font-size="6.3" text-anchor="middle" font-weight="normal" fill="#939393" font-family='"DejaVu Sans", "Liberation Sans", Arial, sans-serif' >1</text>
<circle cx="355.6" cy="289.35" r="3.0" fill="#ff0000"/>
<text x="363.50" y="291.55" font-size="6.3" text-anchor="start" font-weight="normal" fill="#939393" font-family='"DejaVu Sans", "Liberation Sans", Arial, sans-serif' >CNV Loss Segment</text>
<text x="520.60" y="291.55" font-size="6.3" text-anchor="middle" font-weight="normal" fill="#939393" font-family='"DejaVu Sans", "Liberation Sans", Arial, sans-serif' >8</text>
<circle cx="355.6" cy="297.50" r="3.0" fill="#10a010"/>
<text x="363.50" y="299.70" font-size="6.3" text-anchor="start" font-weight="normal" fill="#939393" font-family='"DejaVu Sans", "Liberation Sans", Arial, sans-serif' >Aneuploidy Gain</text>
<text x="520.60" y="299.70" font-size="6.3" text-anchor="middle" font-weight="normal" fill="#939393" font-family='"DejaVu Sans", "Liberation Sans", Arial, sans-serif' >0</text>
<circle cx="355.6" cy="305.65" r="3.0" fill="#4040ff"/>
<text x="363.50" y="307.85" font-size="6.3" text-anchor="start" font-weight="normal" fill="#939393" font-family='"DejaVu Sans", "Liberation Sans", Arial, sans-serif' >Aneuploidy Loss</text>
<text x="520.60" y="307.85" font-size="6.3" text-anchor="middle" font-weight="normal" fill="#939393" font-family='"DejaVu Sans", "Liberation Sans", Arial, sans-serif' >0</text>
<text x="355.30" y="25.30" font-size="17.8" text-anchor="start" font-weight="bold" fill="#000" font-family='"Liberation Sans", Arial, sans-serif' stroke="#000" stroke-width="0.35">C</text>
<rect x="5.25" y="5.25" width="540.1" height="310.6" fill="none" stroke="#000" stroke-width="1.6"/>
</svg>
</body></html>
